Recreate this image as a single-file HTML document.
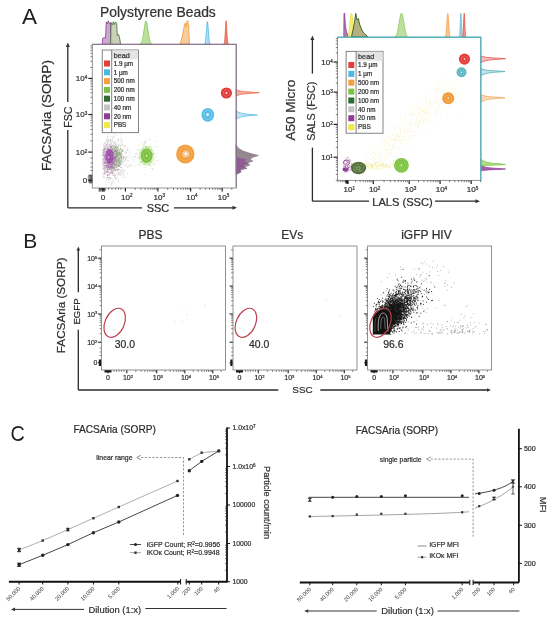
<!DOCTYPE html>
<html><head><meta charset="utf-8"><title>Figure</title>
<style>html,body{margin:0;padding:0;background:#fff;} svg{display:block;font-family:'Liberation Sans',Arial,sans-serif;} text{stroke:#333;stroke-width:0.22px;} text.s{stroke-width:0;}</style>
</head><body>
<svg width="550" height="621" viewBox="0 0 550 621">
<rect width="550" height="621" fill="#fff"/>
<text x="22" y="23.7" font-size="22.5" text-anchor="start" fill="#1e1e1e" class="s">A</text>
<text x="100" y="17" font-size="13.9" text-anchor="start" fill="#333" >Polystyrene Beads</text>
<path d="M111.5 162.2h0.8M109.9 151.5h0.8M108.8 150.6h0.8M111.9 171.6h0.8M108.5 153.9h0.8M114.4 162.7h0.8M112.1 151.1h0.8M111.3 165.8h0.8M103.4 155.4h0.8M103.9 161.9h0.8M112.4 157.8h0.8M111.2 160.5h0.8M102.3 155.2h0.8M105.6 152.2h0.8M117.9 152.2h0.8M111.3 167.5h0.8M108 158.5h0.8M112.2 160.1h0.8M104.1 160.2h0.8M119.7 145.6h0.8M116.7 160.6h0.8M107.7 177.5h0.8M116.1 148.7h0.8M111.9 164.7h0.8M110.4 165.6h0.8M111.1 165.5h0.8M120.1 153.4h0.8M112.7 155.3h0.8M112.3 148.8h0.8M108 157.7h0.8M116.9 169.8h0.8M103.6 152.3h0.8M115.4 141.6h0.8M108.7 158.6h0.8M119 165.7h0.8M109.5 156.2h0.8M110 173.2h0.8M108.9 156.8h0.8M113.6 158.4h0.8M110.3 149.5h0.8M111.4 155.5h0.8M118.5 165.4h0.8M111.4 165.5h0.8M109.5 169h0.8M111.5 164.8h0.8M103.8 162.6h0.8M109.7 151.4h0.8M112.5 179.7h0.8M106.5 153.9h0.8M112.7 163.9h0.8M110.4 157.6h0.8M115.7 164.2h0.8M105.3 158.8h0.8M111.7 150h0.8M113.1 151.8h0.8M117.3 161.2h0.8M112 154.2h0.8M110.8 141.5h0.8M104.7 162.8h0.8M106.4 166.5h0.8M112.3 145.7h0.8M119 172.5h0.8M111.1 157h0.8M110.5 150.7h0.8M118.1 154.6h0.8M111.2 152.4h0.8M107.7 148h0.8M119 158.1h0.8M117.3 159.6h0.8M107.3 156.6h0.8M108.1 159.6h0.8M109.2 156.8h0.8M103.2 152.2h0.8M121.4 153.5h0.8M105.2 162.5h0.8M119.9 146.4h0.8M110.2 153.8h0.8M111.4 160.1h0.8M107 163.6h0.8M108.3 158.2h0.8M104.9 148.6h0.8M119.5 154.9h0.8M113.3 159.2h0.8M108.9 154.9h0.8M115.3 156.8h0.8M110.6 159.7h0.8M118.6 165.6h0.8M113.8 154.4h0.8M103.2 168h0.8M117.3 158.2h0.8M114.8 166.5h0.8M116.5 167.8h0.8M108.8 173.1h0.8M104 167.3h0.8M114.5 167.4h0.8M122.8 172.9h0.8M104.6 144.3h0.8M116.4 150.4h0.8M111.4 167.1h0.8M113.1 159.9h0.8M110 159.8h0.8M106.3 145.9h0.8M110.5 150.8h0.8M111.1 163.2h0.8M105.6 153.6h0.8M105.5 151.5h0.8M112.7 152.5h0.8M113.6 162.6h0.8M123.7 147h0.8M116.8 158.7h0.8M111.4 146.5h0.8M108.7 166.2h0.8M111 160.2h0.8M109.8 169.9h0.8M111.4 139.7h0.8M107.3 141.8h0.8M119.5 159.9h0.8M104.5 151h0.8M118.3 160.9h0.8M111.8 159h0.8M111.7 166.7h0.8M114.8 161.4h0.8M105.2 164.1h0.8M107.4 169.3h0.8M103.9 158.3h0.8M111.5 147.6h0.8M121.8 172.6h0.8M108.7 166.4h0.8M113.8 136h0.8M113 158.9h0.8M112 149.8h0.8M109.9 157.9h0.8M118.6 162.5h0.8M111.5 173.3h0.8M108.2 156h0.8M117.3 167.8h0.8M115.5 160.5h0.8M112.8 157.2h0.8M110.3 160h0.8M120.6 164.5h0.8M111.1 154.3h0.8M107.7 173.9h0.8M114.5 160.1h0.8M109.4 149.5h0.8M111.1 167.4h0.8M109.1 157.5h0.8M110.2 160.5h0.8M106.4 167.5h0.8M106.9 164.7h0.8M120.6 156.7h0.8M107.9 161.2h0.8M111.5 150.6h0.8M114.3 177.6h0.8M110 157.7h0.8M105.2 162.4h0.8M104 149.5h0.8M119.2 151.4h0.8M118 173.2h0.8M113.1 164.5h0.8M123.2 157.7h0.8M107.9 147.3h0.8M111.8 172.8h0.8M117.3 151h0.8M106.4 155h0.8M113.3 157.7h0.8M112.8 162.2h0.8M109.7 159.1h0.8M112.7 158.7h0.8M114.5 176.3h0.8M115.1 160h0.8M116.6 165.9h0.8M110.6 144.1h0.8M109.3 153.4h0.8M115.3 179.8h0.8M112.8 152.5h0.8M104.5 159h0.8M110.4 149.1h0.8M112.2 149.1h0.8M118.2 169.1h0.8M118 155.2h0.8M114.6 158.3h0.8M109.2 156.4h0.8M103.7 146.5h0.8M116.3 157.8h0.8M112.8 168.5h0.8M112.6 163h0.8M109.2 168.8h0.8M112.8 148.6h0.8M105.9 166.7h0.8M114.3 142.4h0.8M119.6 164.9h0.8M119.6 156h0.8M109.7 149.4h0.8M126.7 157.9h0.8M121 153.7h0.8M112.5 144.5h0.8M109.2 168.4h0.8M104 169.2h0.8M113.5 150.1h0.8M108.5 155.4h0.8M111.2 154.7h0.8M106.5 156.8h0.8M105.3 147.9h0.8M111.2 167.4h0.8M102.3 159.5h0.8M107.6 150.7h0.8M116.6 154.8h0.8M120.5 152.5h0.8M113.8 157.5h0.8M107 164.8h0.8M110.6 164.9h0.8M111.2 149.7h0.8M110.9 160h0.8M117.3 151.3h0.8M111.3 144h0.8M115.4 149.8h0.8M118.1 145.8h0.8M105 152.8h0.8M104.7 162.9h0.8M106.7 153h0.8M115 152.7h0.8M114.1 150.8h0.8M104.2 143h0.8M122.7 156.6h0.8M113 159.2h0.8M112.5 159.9h0.8M122.9 150.1h0.8M102.2 150.4h0.8M103.5 166.2h0.8M116.4 150.8h0.8M103.2 156.3h0.8M119.8 134.1h0.8M114.7 149.8h0.8M117.7 149.8h0.8M109.8 145.9h0.8M105.6 172h0.8M116.4 155.9h0.8M106.3 142.5h0.8M109.1 159.2h0.8M111 158.7h0.8M104.8 158.9h0.8M111.3 171.1h0.8M122.7 158.3h0.8M106.9 158.9h0.8M107.9 152.8h0.8M111.1 150.1h0.8M115.1 158.6h0.8M113 157.9h0.8M107.1 151h0.8M110.1 154.6h0.8M112.9 159.5h0.8M103.3 160.1h0.8M103.4 154h0.8M109.7 140.8h0.8M112 160.9h0.8M110.6 155.7h0.8M109.3 150.7h0.8M109.9 154.5h0.8M112.1 148.7h0.8M112.9 160.8h0.8M110.7 155.5h0.8M114.8 144.5h0.8M114.3 161.7h0.8M113.2 162.9h0.8M107.6 157.2h0.8M115.3 163.4h0.8M112.7 145.9h0.8M114.7 170h0.8M117.6 161.6h0.8M102.2 168h0.8M110.6 136.7h0.8M113.8 146.1h0.8M103.7 153.8h0.8M119.1 156.2h0.8M113.1 175.2h0.8M121.1 158.6h0.8M110.1 148.2h0.8M107.3 163.3h0.8M113.9 160.5h0.8M117.5 152.5h0.8M111.2 166.1h0.8M115 169.1h0.8M113.9 156.7h0.8M113.7 150.5h0.8M111.2 162.3h0.8M107.9 151.7h0.8M116.9 162.9h0.8M107.9 159.4h0.8M116 134.7h0.8M110.8 164.4h0.8M115.6 174.8h0.8M118.3 162.3h0.8M113.3 166.6h0.8M108.3 159.1h0.8M116.9 177.1h0.8M110.5 159.1h0.8M112.7 171.6h0.8M111.3 172.7h0.8M105.7 157.8h0.8M110.3 166.6h0.8M117.8 145.9h0.8M106 162.5h0.8M107.5 145.8h0.8M117.7 163.9h0.8M114.5 155.2h0.8M117.7 157.3h0.8M118.1 151.3h0.8M106.4 161.3h0.8M107.3 165.6h0.8M113.1 151.2h0.8M111.9 156.3h0.8M117 153.8h0.8M108.9 170.4h0.8M124.9 177.5h0.8M111.9 161.5h0.8M120.7 158.4h0.8M105.6 160.6h0.8M114.2 152h0.8M115.5 152.7h0.8M110.7 161.4h0.8M115.2 156.5h0.8M114.5 151.5h0.8M109.3 150.3h0.8M118.3 159.3h0.8M107.1 156.3h0.8M110.2 165.8h0.8M109.2 182.3h0.8M117.2 158.5h0.8M115.8 178h0.8M110.1 156.2h0.8M118.8 163.9h0.8M115.5 154.9h0.8M123 174.9h0.8M114.9 165.7h0.8M110.3 163.4h0.8M115.6 156.4h0.8M107.1 156.5h0.8M107.9 156.4h0.8M113 169.5h0.8M123.4 159.7h0.8M104.3 155h0.8M112 141.5h0.8M113.6 145.9h0.8M113.3 158.5h0.8M109.6 158.8h0.8M108.3 154h0.8M122.6 177.3h0.8M119.4 165.9h0.8M107.4 172.5h0.8M111.2 158.9h0.8M109.8 160.3h0.8M108.9 158.7h0.8M105 156.1h0.8M125.2 158.9h0.8M110.1 164.3h0.8M115.7 149.5h0.8M110.3 167.8h0.8M113.1 160.6h0.8M120.8 153.4h0.8M112 154.8h0.8M120.4 141.9h0.8M107.5 154.7h0.8M115.5 165h0.8M119.9 145.3h0.8M116 156.9h0.8M107.5 164.4h0.8M106 140.8h0.8M109.3 146h0.8M107.6 162.8h0.8M113.4 173.8h0.8M110.3 145.7h0.8M107 151.2h0.8M104.2 163.4h0.8M107.6 141.7h0.8M115.7 158.5h0.8M113.6 160.5h0.8M115.3 159.8h0.8M118.9 163.3h0.8M113.9 163.2h0.8M102.8 158h0.8M109.9 161.4h0.8M103.3 174.2h0.8M112.1 148.6h0.8M111 153h0.8M112.1 153.7h0.8M114.8 153h0.8M111.3 168.3h0.8M126.9 150.4h0.8M108.7 151.9h0.8M116.2 149.2h0.8M108.6 159.2h0.8M105.6 150.9h0.8M108.6 140.6h0.8M102.8 155.8h0.8M112.4 157.8h0.8M116.3 164.5h0.8M111 151.5h0.8M115.3 154.3h0.8M104.5 152.3h0.8M120.2 161.5h0.8M118.5 155.2h0.8M117.1 154.1h0.8M110.6 181.9h0.8M116.1 155h0.8M111 162.4h0.8M118.8 155.1h0.8M111.6 160.5h0.8M119.4 162.4h0.8M116.4 149.6h0.8M116.7 178.4h0.8M116.1 161.8h0.8M112.4 175.6h0.8M105.9 158.5h0.8M114.3 166.2h0.8M108.9 162.3h0.8M109.8 160.6h0.8M110.7 149.2h0.8M111.4 167.4h0.8M105.7 157.3h0.8M115.5 149.9h0.8M112.6 150h0.8M118.3 180.3h0.8M123.6 157.5h0.8M115.9 160.6h0.8M112.1 173.4h0.8M103.6 169h0.8M111.2 172.2h0.8M112.6 153.4h0.8M113.2 166.1h0.8M111.7 163.9h0.8M108.4 140.3h0.8M116.9 165.8h0.8M112.4 160.1h0.8M117.7 155.4h0.8M107.3 157.8h0.8M118.6 147h0.8M118.7 153.7h0.8M104.9 170.8h0.8M110.9 147.8h0.8M109.3 167.9h0.8M118.7 155.7h0.8M113.9 165.9h0.8M107.6 162.7h0.8M111.3 154.7h0.8M108.5 160.1h0.8M111.7 154.4h0.8M108.9 169.5h0.8M112.8 167.5h0.8M118.7 164.8h0.8M125.1 152.1h0.8M116.4 156.6h0.8M122.6 174.8h0.8M115.5 166.6h0.8M115.9 158.9h0.8M114.2 165.4h0.8M111 168.7h0.8M105.3 168.1h0.8M110.1 151.5h0.8M113.7 151.3h0.8M106 145.4h0.8M111.3 164h0.8M117.6 158.2h0.8M117.8 159.7h0.8M110.9 164.7h0.8M117.9 156.4h0.8M110 158.1h0.8M112 151.4h0.8M117.7 155.9h0.8M114.3 152.1h0.8M113.7 163h0.8M109 177.7h0.8M113.7 175.5h0.8M117.3 153.5h0.8M109.2 163.4h0.8M111.9 159.9h0.8M109.8 143.2h0.8M110.1 139.5h0.8M113.7 153h0.8M107.2 157.5h0.8M113.1 146.6h0.8M121 150h0.8M115.4 147.2h0.8M113.3 156.6h0.8M111.1 164.6h0.8M122 161.3h0.8M112.2 150.7h0.8M115 157.3h0.8M116.5 159.1h0.8M121.9 141.7h0.8M109.7 167.4h0.8M109.4 152.4h0.8M109.9 147.1h0.8M112.2 181.5h0.8M118.4 149.5h0.8M106.3 155.9h0.8M117.5 152.1h0.8M107.4 167.5h0.8M116.7 156.1h0.8M104.8 145.6h0.8M107.3 139.4h0.8M116 153.8h0.8M114.4 176.3h0.8M118.5 149.1h0.8M116.7 169.9h0.8M107 150.9h0.8M110.8 145.1h0.8M120.3 137.9h0.8M104.9 157.1h0.8M110.1 161h0.8M113.1 157.6h0.8M118.3 140.2h0.8M111.5 153.1h0.8M112.3 161.5h0.8M106 153.7h0.8M116.3 162.6h0.8M107.4 177.9h0.8M125.4 146.3h0.8M113.3 182.1h0.8M116.2 161.5h0.8M110.3 154.6h0.8M110.2 154.5h0.8M116 155.9h0.8M108.9 148.7h0.8M111.2 151.5h0.8M110.4 168.9h0.8M113.7 164h0.8M113.6 160h0.8M110.7 156.7h0.8M116.1 149.7h0.8M119.5 159.8h0.8M107 155.1h0.8M107.4 160.9h0.8M107.2 169.8h0.8M106.8 139h0.8M107.1 141.4h0.8M111.3 169h0.8M115.4 147.5h0.8M106.9 175.5h0.8M113.4 159.5h0.8M117.8 181.6h0.8M119.3 160.8h0.8M113.6 165.1h0.8M107.8 150h0.8M111.8 151h0.8M111.1 160.4h0.8M125.5 151.8h0.8M110.8 158h0.8M114.1 168.9h0.8M108.6 152.1h0.8M114.7 159.9h0.8M105.4 156.1h0.8M111.7 164h0.8M107.9 157.2h0.8M121.2 139.8h0.8M109.5 161.5h0.8M109.3 152.2h0.8M111.1 159.5h0.8M111 142.6h0.8M110.6 151.8h0.8M108.2 161.5h0.8M115.3 167.6h0.8M108.5 167.8h0.8M118.5 169.7h0.8M119.8 158.2h0.8M110.5 166.9h0.8M103.3 161.4h0.8M108.3 156.2h0.8M111.4 167.5h0.8M117.4 158.8h0.8M110.4 152h0.8M113.9 157.3h0.8M115.1 175.3h0.8M111.3 146h0.8M106.3 146.4h0.8M104.3 171.2h0.8M112.9 145.8h0.8M115.4 170.8h0.8M109.3 153.4h0.8M109.5 162.1h0.8M115.3 170.1h0.8M118.8 170.2h0.8M119.7 165.5h0.8M102.3 158.3h0.8M113.4 156.1h0.8M117 156.3h0.8M105.9 172.5h0.8M115.5 161.5h0.8M117.1 169.1h0.8M113.5 137.4h0.8M107.4 155.4h0.8M105.6 161.3h0.8M118.7 155.1h0.8M104.7 177.8h0.8M108.8 148.4h0.8M112.9 163.3h0.8M107.3 166.6h0.8M108.6 151.2h0.8M112.6 166.4h0.8M107.7 162.5h0.8M110.9 184.9h0.8M107.2 172h0.8M111.2 158.4h0.8M115.8 167.5h0.8M119.1 162.5h0.8M107.9 154.7h0.8M114.6 164.7h0.8M119.9 163.3h0.8M117.9 173.2h0.8M112.5 146.1h0.8M104.4 146.6h0.8M121 151.9h0.8M118.9 164.8h0.8M121.8 168.5h0.8M110.9 157.7h0.8M112 161.1h0.8M108.3 159.2h0.8M121.2 144.2h0.8M113.1 151.3h0.8M112.6 167.1h0.8M111.2 166.5h0.8M107.9 165.1h0.8M112.6 136.2h0.8M107 161.5h0.8M120.8 162.1h0.8M113 146.8h0.8M120.1 175.8h0.8M111.7 157.5h0.8M127.7 166h0.8M119.1 164.4h0.8M105.6 171.5h0.8M104.1 157.6h0.8M113.2 167.4h0.8M114 163h0.8M106.9 147.9h0.8M111.9 153.1h0.8M103.7 148.1h0.8M108.6 142.8h0.8M103.4 144.8h0.8M112.6 163.2h0.8M123.5 146h0.8M107.4 167.7h0.8M110.2 156.6h0.8M121.8 156.5h0.8M104.6 147.6h0.8M113.5 162.2h0.8M103.3 150.6h0.8M114.7 164.7h0.8M107.6 165.1h0.8M114.9 143.5h0.8M109.6 163.2h0.8M108.1 140.2h0.8M109.8 166.3h0.8M121 139.8h0.8M127.2 149.4h0.8M117.2 170.6h0.8M117.4 160.8h0.8M104.5 165.1h0.8M107.2 136.8h0.8M128.5 165.9h0.8M122.4 151.3h0.8M120.3 173.8h0.8M120.8 159.3h0.8M104.3 157.9h0.8M112.1 150.6h0.8M110.5 158.5h0.8M123.1 171.2h0.8M111.2 170.4h0.8M106.8 156.5h0.8M117 148.3h0.8M109.8 147.6h0.8M112.2 174.2h0.8M107 161.5h0.8M106.1 149.2h0.8M104.1 172.6h0.8M125.7 163.8h0.8M107.2 165.8h0.8M109.5 166.7h0.8M113.2 162h0.8M115.1 154.3h0.8M109.1 144h0.8M108.8 146.7h0.8M110.6 150.9h0.8M112.1 163.6h0.8M103 152.2h0.8M105.8 166.2h0.8M121.7 167.2h0.8M109.4 172.7h0.8M102.4 173h0.8M107.6 134.5h0.8M127.4 173.7h0.8M105.3 161h0.8M110.2 160.4h0.8M102.6 153.4h0.8M114.3 161.5h0.8M118.7 160.2h0.8M125.6 153.1h0.8M113.1 142.3h0.8M104 171.5h0.8M105.8 164.3h0.8M111.1 150.1h0.8M109.4 154.9h0.8M108.6 166.3h0.8M115.4 154.3h0.8M106.1 162h0.8M110.9 168.8h0.8M127.4 167.1h0.8M111.3 158h0.8M106.4 151.3h0.8M105.5 155.9h0.8M108.9 166.2h0.8M109.1 157.7h0.8M104.2 174.3h0.8M114.5 175.6h0.8M116.3 172.9h0.8M110 166h0.8M127.7 148.5h0.8M118.6 174.8h0.8M114 166.4h0.8M119.2 153.5h0.8M114 151.5h0.8M107.4 153.8h0.8M110.6 160.8h0.8M114.3 146.4h0.8M123.7 170.2h0.8M116 156.2h0.8M111 164.6h0.8M114 144h0.8M116.1 186.4h0.8M113.8 158.5h0.8M119.9 148.6h0.8M112.5 173h0.8M110.3 155.6h0.8M112.2 155.4h0.8M121 151.1h0.8M116.9 147.9h0.8M115.6 158.5h0.8M104.9 155.4h0.8M121 149.2h0.8M105 172.8h0.8M112.2 173.8h0.8M113.5 151.3h0.8M111.1 170.9h0.8M117.3 159.5h0.8M111.8 158.5h0.8M107.9 177.4h0.8M111.5 149h0.8M108.6 166.2h0.8M115.5 158.2h0.8M107.4 159.7h0.8M116.4 155.1h0.8M113.8 170.8h0.8M115.5 159.7h0.8M124.6 165.7h0.8M109.3 166.3h0.8M114 151.6h0.8M112 158h0.8M109.8 155.4h0.8M111.3 160.4h0.8M104.5 165.4h0.8M104 157.4h0.8M119.5 153.1h0.8M108.3 169.4h0.8M109.1 156.8h0.8M112.9 169.2h0.8M105.3 149.5h0.8M106.2 151.7h0.8M113.4 151.3h0.8M112.3 163.2h0.8M107 160.7h0.8M121.6 162.5h0.8M107.6 158.9h0.8M105.9 162h0.8M116.8 152h0.8M110.2 169.7h0.8M108.4 161.2h0.8M105.2 152h0.8M108.4 179.1h0.8M109 154.7h0.8M108.1 158h0.8M115.4 161.2h0.8M123.8 161.4h0.8M120.2 162h0.8M115.1 146.5h0.8M110.7 158.9h0.8M110 140.1h0.8M116.8 156h0.8M108.9 157.2h0.8M110.1 163.2h0.8M103.9 151.1h0.8M113.2 160.8h0.8M109.2 154.3h0.8M106.5 159h0.8M118.6 150h0.8M120.6 167.1h0.8M108.8 166.5h0.8M102.7 143.9h0.8M103.8 155.8h0.8M109.5 154.9h0.8M112.1 140.3h0.8M114.5 146.7h0.8M107.5 155.8h0.8M104.6 147.2h0.8M105.5 159.4h0.8M115 164.6h0.8M105.5 152.4h0.8M106 163.5h0.8M108.6 152.4h0.8M113.5 168.8h0.8M113.6 169h0.8M112.3 170.6h0.8M119 158.6h0.8M120.1 161h0.8M112 151.2h0.8M109.8 166.5h0.8M103.6 165.3h0.8M113.6 162h0.8M115.4 152.6h0.8M112 138.1h0.8M115.5 153.5h0.8M116.7 142.9h0.8M115.7 157.4h0.8M116.3 151.2h0.8M107.8 179.7h0.8M106.5 153.1h0.8M109.8 150.3h0.8M118.6 175h0.8M107.3 144h0.8M118.5 169.5h0.8M116.4 169.9h0.8M106.3 158h0.8M103.2 146.7h0.8M117.4 153.5h0.8M125.2 160.2h0.8M107.7 166.7h0.8M122.3 163.9h0.8M104.2 162.8h0.8M119.8 155.1h0.8M106.9 168.6h0.8M112.3 149.6h0.8M109.2 152.7h0.8M113.3 160.5h0.8M118.4 165.9h0.8M102.1 163.2h0.8M116.9 163.6h0.8M117.7 154.6h0.8M105.8 167.9h0.8M105.1 140.1h0.8M117.7 153h0.8M109.7 146.9h0.8M103.5 149.1h0.8M109.3 162.8h0.8M104.4 149.9h0.8" stroke="#a09a94" stroke-width="0.8" opacity="0.6" fill="none"/>
<path d="M128.1 157.6h0.7M114.8 169.1h0.7M118.8 159.5h0.7M125.2 166.5h0.7M121.3 164h0.7M119.5 164.7h0.7M119.4 155.8h0.7M135.4 159.9h0.7M124.7 171.5h0.7M126.2 153.1h0.7M128.4 150.9h0.7M130.8 165.2h0.7M120.6 154.2h0.7M125.1 158.1h0.7M118.1 161.4h0.7M111.7 155.4h0.7M121.6 156.4h0.7M125.8 150.6h0.7M127.5 156.9h0.7M120.1 149.8h0.7M116.9 160.2h0.7M118.2 158.4h0.7M130.4 164.2h0.7M133.4 156.2h0.7M117.5 164.1h0.7M125.9 164.7h0.7M124.1 165.2h0.7M129.1 162.3h0.7M127 160.4h0.7M125.4 159.4h0.7M129.9 154.9h0.7M134.4 157.4h0.7M129.9 157.5h0.7M122.5 170.2h0.7M122.1 150.3h0.7M119.7 156.1h0.7M136.9 159.2h0.7M129.6 152h0.7M126.1 162h0.7M134.8 153.8h0.7M127.6 159.8h0.7M117.9 157.9h0.7M122.4 144h0.7M127.6 161.2h0.7M121.4 150h0.7M132.9 159.6h0.7M130.1 166.5h0.7M120.9 162.9h0.7M122.6 157.6h0.7M123.5 158h0.7M130.7 158.7h0.7M123.1 156.3h0.7M126 152.6h0.7M121 157.7h0.7M120.6 157.3h0.7M120.3 170h0.7M132 160.7h0.7M123.7 171.1h0.7M125.9 157.5h0.7M125.8 159.8h0.7M132.5 157.9h0.7M136.6 152.7h0.7M128.2 152h0.7M134.9 156h0.7M123.7 163.5h0.7M131.5 151.3h0.7M121.9 149.6h0.7M124.8 157.4h0.7M121.9 153.9h0.7M121.7 153.5h0.7M127.2 167.1h0.7M112.4 157.3h0.7M121.5 161h0.7M118.3 157.1h0.7M117.8 162.2h0.7M124.6 157h0.7M126.2 156.5h0.7M114.7 161.6h0.7M125.7 157.1h0.7M129.9 165.3h0.7M117.4 153.3h0.7M133.3 166.5h0.7M119.6 150.9h0.7M120.2 155h0.7M114.5 158.2h0.7M116.3 150.7h0.7M129.5 153.9h0.7M123.6 161.8h0.7M128.9 156h0.7M124.3 153h0.7M134.5 161.9h0.7M117.4 158h0.7M128.3 160.9h0.7M135 166.2h0.7M120.8 157.5h0.7M116.3 159.5h0.7M124.9 174.2h0.7M124.6 145.4h0.7M120 158.7h0.7M116.5 152.8h0.7" stroke="#aaa49c" stroke-width="0.7" opacity="0.5" fill="none"/>
<ellipse cx="114.5" cy="157.5" rx="7.5" ry="11" fill="#c5d0b8" opacity="0.85"/>
<path d="M114.7 159.7h0.7M115.4 151.7h0.7M118.8 154h0.7M114.3 148.5h0.7M113.2 161.7h0.7M110.3 157h0.7M118.5 155h0.7M116.8 150.2h0.7M120.6 164.7h0.7M116.8 146.1h0.7M112.3 163.8h0.7M122 159.4h0.7M120.4 153.5h0.7M115.3 157.5h0.7M117.5 147.6h0.7M119.3 166.1h0.7M112 148.7h0.7M117.2 153.2h0.7M107.7 162.8h0.7M116.5 154.4h0.7M123.4 158.4h0.7M113.4 158.2h0.7M112.4 152.5h0.7M117.4 153.9h0.7M114.4 168.3h0.7M119 162.7h0.7M117.9 160.6h0.7M121.1 157.4h0.7M122.5 151.3h0.7M115.1 148.5h0.7M114.8 160.9h0.7M121.1 153.2h0.7M116 155.2h0.7M113.4 149.8h0.7M116.2 146.2h0.7M116.4 157.6h0.7M113.7 150.9h0.7M111.2 169.7h0.7M111.3 167.6h0.7M118.1 155.1h0.7M112 164.3h0.7M122.1 151.4h0.7M115 164.3h0.7M117.2 170.5h0.7M114 161h0.7M111.6 171.1h0.7M113.4 143.1h0.7M115.6 156.6h0.7M122.7 155.3h0.7M116 161.4h0.7M121.6 157.1h0.7M119.6 160.9h0.7M115 158h0.7M116.1 151.5h0.7M120.2 148.5h0.7M120.1 163.7h0.7M115.7 152.5h0.7M115.2 160.6h0.7M118.6 159.4h0.7M119.5 153.9h0.7M116.8 147.3h0.7M118.7 158.5h0.7M114.5 165.1h0.7M118.4 139.2h0.7M116.1 148h0.7M119.7 173.7h0.7M114.2 158h0.7M115.1 159.8h0.7M118.3 165.9h0.7M112.5 167.7h0.7M112.7 159.3h0.7M120.1 162.1h0.7M112.7 152.9h0.7M114.4 157.2h0.7M120 149.1h0.7M117.6 161.5h0.7M118 160.5h0.7M121.3 160.7h0.7M119 161.2h0.7M122.3 145.2h0.7M120.5 155.8h0.7M115 151.2h0.7M109.5 155h0.7M113.6 160.7h0.7M110.8 166.8h0.7M117 155.9h0.7M113.5 152.4h0.7M112 154h0.7M116 156.3h0.7M111 155.8h0.7M112.9 158.5h0.7M122.5 161.6h0.7M114.9 146.9h0.7M111 146.5h0.7M118.5 152.5h0.7M116.2 153.5h0.7M116.3 166.6h0.7M113.6 155.3h0.7M113.2 163.2h0.7M112.4 150.1h0.7M111.1 148.3h0.7M117.6 174.2h0.7M112.5 163.7h0.7M116.9 150.3h0.7M115 156h0.7M113.6 170h0.7M109.3 160h0.7M117.2 153.7h0.7M116.5 163.2h0.7M116.5 160.2h0.7M118.4 144.3h0.7M121.2 172.3h0.7M119.4 164.1h0.7M111.1 156.7h0.7M113.2 153.7h0.7M119.4 152.3h0.7M115.5 145.1h0.7M115.4 158.1h0.7M113.5 152.8h0.7M122.6 149.6h0.7M112.3 152.2h0.7M120.2 171.2h0.7M117.2 152.8h0.7M114.5 164.4h0.7M112.8 166.9h0.7M121 158h0.7M118.3 162.4h0.7M121.4 150.7h0.7M120.1 155.1h0.7M113.3 158.2h0.7M115.2 151.1h0.7M110.4 151.4h0.7M121.1 170.3h0.7M118.3 165.2h0.7M114.2 157h0.7M117 150.5h0.7M112.5 158.1h0.7M114.9 150.6h0.7M117.4 155.8h0.7M119.6 157.5h0.7M114.9 158.3h0.7M115.4 153.2h0.7M114.6 162.4h0.7M118.3 165.9h0.7M110.1 154.9h0.7M114.5 158.6h0.7M114.4 154.2h0.7M118.7 158.7h0.7M111.9 166.2h0.7M119.5 153.8h0.7M118.9 152.7h0.7M119.9 156.1h0.7M113.2 155.1h0.7M113.3 158.7h0.7M116.6 157.7h0.7M114.1 133.7h0.7M116.3 145.2h0.7M116.9 164.9h0.7M117 155h0.7M115.4 156.6h0.7" stroke="#3d6b35" stroke-width="0.7" opacity="0.6" fill="none"/>
<path d="M106.5 155.6h0.8M105.2 168.9h0.8M108.4 167.2h0.8M107.6 160.5h0.8M107.9 163.5h0.8M111.5 161.8h0.8M106.1 154.2h0.8M114.5 157.9h0.8M107.5 171h0.8M112.4 164h0.8M107.1 177.6h0.8M109.9 164.1h0.8M107.9 149.4h0.8M103.7 163.1h0.8M109.9 158.2h0.8M104.3 149.2h0.8M107.3 149.1h0.8M111.7 168.6h0.8M118.7 166.6h0.8M106.4 153.5h0.8M107.9 167.3h0.8M110.7 164.4h0.8M109.3 165h0.8M113.7 152h0.8M106.9 149.6h0.8M114.3 169.7h0.8M111.2 151h0.8M109.1 158.2h0.8M108.8 158.6h0.8M110.4 157h0.8M111.6 161.8h0.8M107.4 159.2h0.8M106.9 166.1h0.8M107.5 162.2h0.8M107.1 148.9h0.8M111.8 152.1h0.8M110.9 163.2h0.8M102.5 152.9h0.8M106.6 153.8h0.8M104.2 165.6h0.8M107.6 162.9h0.8M107 162.3h0.8M105.8 159.8h0.8M110.6 160.3h0.8M106.9 151.9h0.8M109.1 162.6h0.8M107.6 154.2h0.8M110.5 178.6h0.8M107.4 162.5h0.8M109.9 140.8h0.8M108.9 154.7h0.8M113.5 158.1h0.8M105.7 158.4h0.8M109.1 155.8h0.8M108.3 149.8h0.8M107.7 165.8h0.8M115.6 165.3h0.8M109.5 168.9h0.8M112.2 172.5h0.8M112.4 159.1h0.8M109.4 161.3h0.8M109.6 161.5h0.8M105.7 144.2h0.8M106.1 144.8h0.8M108.7 160h0.8M102.5 165.2h0.8M111.6 160.7h0.8M114.5 174h0.8M104.2 167.8h0.8M110.1 163.1h0.8M111.9 154.6h0.8M106.4 153.8h0.8M105.8 159.3h0.8M103.3 152.2h0.8M110.6 159.5h0.8M109.9 145.8h0.8M105.7 155.8h0.8M108.6 155.6h0.8M111.9 159.6h0.8M108.6 160.1h0.8M111 156.5h0.8M112.5 163.5h0.8M109.1 160.3h0.8M110.4 167.6h0.8M111.9 162.8h0.8M111.7 160.9h0.8M113 159.8h0.8M108.9 151.2h0.8M107.8 153.4h0.8M116.1 163.7h0.8M102.9 164.1h0.8M107.1 174.4h0.8M104.7 143.1h0.8M108.7 157.4h0.8M107 143.9h0.8M110 172.6h0.8M106.5 177.6h0.8M110.1 158.6h0.8M112.5 163.9h0.8M106.4 165.3h0.8M106.7 146.6h0.8M115.8 157.4h0.8M106.3 162.5h0.8M102.9 149.8h0.8M106.7 156.1h0.8M108.8 168.4h0.8M106.8 163.7h0.8M110.7 151.9h0.8M109.3 152.9h0.8M112.3 163.4h0.8M108.6 150h0.8M108.9 154.2h0.8M111 159.1h0.8M105.6 166.9h0.8M111.1 155.6h0.8M112.7 157.8h0.8M107.4 160.9h0.8M105.8 156.7h0.8M107.9 171.5h0.8M113.9 158.1h0.8M114.3 159.7h0.8M109.9 166.6h0.8M109.6 178.1h0.8M109.4 151h0.8M113.2 156.9h0.8M107.4 137.6h0.8M112.1 166.1h0.8M111.4 167.3h0.8M114.6 159.7h0.8M111.9 154.4h0.8M107.2 167.9h0.8M109.9 150h0.8M109.8 158.6h0.8M105.6 163.3h0.8M107 148.2h0.8M104.5 173.3h0.8M103 161.7h0.8M110.7 164.8h0.8M104.1 157.6h0.8M109 166h0.8M106.2 151.3h0.8M112.1 168.3h0.8M109.8 155.4h0.8M110 160.8h0.8M111.5 150.6h0.8M108.9 158.8h0.8M104.5 161.6h0.8M108.6 156.9h0.8M109.9 149.4h0.8M108.3 163.2h0.8M109.5 168.1h0.8M104.2 148.7h0.8M109.4 163.4h0.8M116.1 164.6h0.8M105.4 166h0.8M105.5 148.9h0.8M117.9 162.4h0.8M111.1 164.2h0.8M115 162.1h0.8M112.9 152.3h0.8M103.5 170.7h0.8M113.8 163.8h0.8M109.3 161.2h0.8M106 171.5h0.8M110.9 163.8h0.8M109.9 167.9h0.8M110.3 165.6h0.8M104.3 163.8h0.8M116.4 156.1h0.8M108 166.7h0.8M111.9 164.7h0.8M102.7 163.8h0.8M104.2 153.8h0.8M110.5 157.8h0.8M111.4 183.6h0.8M111.3 165.4h0.8M105.3 155.2h0.8M104.7 156h0.8M104.6 155.1h0.8M107.7 152.5h0.8M103.4 149.8h0.8M110.1 160.4h0.8M112.2 167.8h0.8M107.3 165h0.8M103.3 177.1h0.8M112.8 158.4h0.8M104.3 162.9h0.8M111.2 160.6h0.8M106.7 167.1h0.8M104.8 162.1h0.8M106.7 153.6h0.8M110.2 152.6h0.8M115.3 155.6h0.8M115.7 151.8h0.8M110.7 151h0.8M103.7 161.2h0.8M110.9 150.4h0.8M112.8 154h0.8M109 162.8h0.8M110.6 146.5h0.8M114.3 164.2h0.8M107 152.3h0.8M102.4 149.8h0.8M110.5 157.4h0.8M104.4 156h0.8M114.1 157.5h0.8M106.4 170.1h0.8M110.2 160.3h0.8M106.3 148.4h0.8M104.3 156.4h0.8M107.7 162.7h0.8M110.5 161.7h0.8M109.3 152.4h0.8M105.1 155.1h0.8M107.5 150.7h0.8M104.5 159.2h0.8M108.9 155.1h0.8M110.3 158.4h0.8M104.8 160.3h0.8M115.3 154.9h0.8M112.7 170.3h0.8M113.9 153.8h0.8M115.8 160.9h0.8M107.6 158.3h0.8M110.7 160.4h0.8M107.9 169.6h0.8M105.9 152.2h0.8M111.4 165.3h0.8M112.4 152h0.8M112.4 163.6h0.8M114.8 150.6h0.8M109.3 157.9h0.8M102.8 154.6h0.8M112.6 156.5h0.8M105.9 166.5h0.8M112.1 167.4h0.8M105.7 159.6h0.8M112.2 155.1h0.8M105.8 166.2h0.8M114.1 151.4h0.8M104.9 159h0.8M110.7 158.9h0.8M106 161.2h0.8M105 159.6h0.8M106.2 180.1h0.8M111.4 153.7h0.8M104.9 156.7h0.8M102.6 154.5h0.8M105.8 166.6h0.8M107 154.1h0.8M103.7 151.2h0.8M108.3 158.4h0.8M112.6 155.3h0.8M112.3 161.9h0.8M108.5 144.9h0.8M103.9 165.6h0.8M113.5 161.5h0.8M111.2 156.9h0.8M107.2 155h0.8M112 162.6h0.8M107.7 157.5h0.8M110.5 162.4h0.8M105.5 172.9h0.8M109.4 160.1h0.8M113.8 167.7h0.8M108.2 164h0.8M104.6 155.2h0.8M105.5 152.7h0.8M107.8 162h0.8M110.7 173.3h0.8M109.8 166.6h0.8M106.3 165.4h0.8M109.1 156.5h0.8M108.2 159.5h0.8M109.2 163h0.8M106.7 154.4h0.8M111.2 147.3h0.8M106.3 171.6h0.8M111 147.6h0.8M117.9 140.6h0.8M113.7 171.7h0.8M111.8 158.3h0.8M109.8 153.3h0.8M111.4 151.6h0.8M107.5 167.5h0.8M104.5 157.3h0.8M109.1 149.9h0.8M112.7 162.6h0.8M103 159.6h0.8M105.7 155.1h0.8M108.8 154.7h0.8M112 154.7h0.8M112 159.7h0.8M111.6 155.9h0.8M106.7 151.4h0.8M110.6 167h0.8M116.1 169.7h0.8M109.4 158.4h0.8M109.9 159.8h0.8M113.8 167.1h0.8M105.5 154.8h0.8M113.4 162.3h0.8M107.7 168.9h0.8M107.1 157.9h0.8M106.8 145.3h0.8M111.6 150.9h0.8M106.5 154.4h0.8M111.1 159.5h0.8M108.6 147.4h0.8M108.2 148.9h0.8M109.6 162.8h0.8M108.4 175.3h0.8M110.4 164.5h0.8M109 158.6h0.8M112 168.3h0.8M103.8 167.9h0.8M110.3 167.2h0.8M110.2 150.7h0.8M104.3 173.7h0.8M109.4 149.4h0.8M109.8 157.3h0.8M102.7 162h0.8M108.3 158.1h0.8M109.5 164.5h0.8M105.5 150.8h0.8M106.5 159.1h0.8M107.5 149.1h0.8M106.8 175.1h0.8M104.7 147.3h0.8M109.5 164.5h0.8M110.2 151.6h0.8M112.1 154.1h0.8M104.4 155.4h0.8M108.1 165.4h0.8M110.7 159.8h0.8M111.9 160.6h0.8M111.7 149.5h0.8M102.8 165.8h0.8M103.5 157.7h0.8M108.1 156.3h0.8M106.9 170.4h0.8M116.8 160.2h0.8M108.4 165.4h0.8M115.1 151.1h0.8M108.8 158.6h0.8M110.5 161.2h0.8M110.9 156.8h0.8M108.7 155h0.8M106.1 158.9h0.8M108 151.2h0.8M114.2 159h0.8M103.5 168.3h0.8M105.8 163.8h0.8M108.4 161.9h0.8M109.1 155.7h0.8M108.6 175.2h0.8M110.1 152.1h0.8M103.6 176.2h0.8M107.2 175.6h0.8M110.4 160.6h0.8M110.2 164.8h0.8M112.7 163.3h0.8M109 161.3h0.8M113.4 166.1h0.8M104.9 155.2h0.8M109.7 155.3h0.8M107.1 152.8h0.8M107.6 163.2h0.8M112.1 160.1h0.8M116 159.4h0.8M120 167.5h0.8M110.3 156.3h0.8M109.1 174.4h0.8M103.5 174.3h0.8M107.6 165.4h0.8M107.3 165.1h0.8M108.8 151.4h0.8M111.9 165.2h0.8M110.6 167.6h0.8M112.5 159.8h0.8M103.6 149.6h0.8M113.4 165.3h0.8M108.9 156.7h0.8M108.6 160.2h0.8M107.3 154.8h0.8M116.3 161.7h0.8M106.3 150.2h0.8M105.9 165.4h0.8M111.2 158.4h0.8M108.7 157.7h0.8M104.5 169.8h0.8M109.8 178.6h0.8M105.8 159h0.8M111.7 158.2h0.8M103.5 152.9h0.8M108.9 162.6h0.8M108.2 167.5h0.8M112.1 162.4h0.8M108.6 158.1h0.8M110.5 166.9h0.8M108.7 163.4h0.8M107.3 149.4h0.8M104.9 165.7h0.8M110.1 171.9h0.8M108.7 166.5h0.8M113.3 167.5h0.8M106.3 158.6h0.8M109 152.6h0.8M110.2 167.7h0.8M106.8 174.8h0.8M107.5 158.5h0.8M107.6 154.7h0.8M110 160.2h0.8M114.5 164.6h0.8M110.4 158.3h0.8M103.4 159.3h0.8M105.4 167.1h0.8M108.4 172.5h0.8M111.1 166.3h0.8M109.3 161.6h0.8M110.9 166.9h0.8M105.9 163.7h0.8M117.9 159.3h0.8M107.6 154.8h0.8M103.3 168.9h0.8M108.7 162.2h0.8M115.1 178.8h0.8M105.3 167.9h0.8M110.7 163h0.8M110.2 159.8h0.8M114.2 164.6h0.8M109.7 169.4h0.8M111.7 163.5h0.8M109.7 173.2h0.8M110.3 159.3h0.8M105.4 157.4h0.8M104.7 160.8h0.8M109.4 144.6h0.8M108.6 164.9h0.8M109.1 152.9h0.8M113.1 154.8h0.8M104.1 151.9h0.8M108.5 167.4h0.8M112.7 161.6h0.8M104.2 155.1h0.8M105.3 158.7h0.8M102.1 160.8h0.8M110.8 158.9h0.8M110.2 153h0.8M103.3 155.2h0.8M112.7 167.7h0.8M106.9 169h0.8M107.3 171.3h0.8M110.2 156.6h0.8M111.4 154.2h0.8M105.1 149.1h0.8M109.4 159.6h0.8M108.2 156.9h0.8M113.7 156.8h0.8M105.9 169.3h0.8M113.6 162.5h0.8M102.2 155.5h0.8M110.7 160.1h0.8M114.1 149.7h0.8M110.9 155.3h0.8M113.3 159.4h0.8M112.2 155.1h0.8M103.4 151.7h0.8M106.3 152.3h0.8M112.8 170h0.8M109.5 152.2h0.8M108.1 154.9h0.8M113.7 162.4h0.8M110.3 157h0.8M104.5 162.8h0.8M108.8 154h0.8M107.1 171.7h0.8M105 153.1h0.8M107.7 154.8h0.8M107 164h0.8M114.7 146.7h0.8M108.4 160.3h0.8M108.2 158.6h0.8M107.3 167.5h0.8M106.8 159h0.8M108.5 160.8h0.8M107.9 167.5h0.8M108.5 161.3h0.8M108.3 152.5h0.8M105.5 152.1h0.8M109.2 154.6h0.8M104.7 161.8h0.8M110.4 146.8h0.8M114.6 160.2h0.8M108.1 168h0.8M108.8 155.5h0.8M116.4 151.9h0.8M108.1 166.4h0.8M104.6 159.2h0.8M109.9 178h0.8M105.3 159.6h0.8M110.9 160.6h0.8M104.2 163.1h0.8M108.9 163.3h0.8" stroke="#a868b0" stroke-width="0.8" opacity="0.65" fill="none"/>
<ellipse cx="109.6" cy="156.3" rx="4" ry="7.2" fill="#9a48a4" opacity="0.85"/>
<ellipse cx="109.6" cy="156.3" rx="2.5" ry="4.6" fill="none" stroke="#b868bf" stroke-width="0.6"/>
<circle cx="108.7" cy="157.3" r="0.8" fill="#f0e0f0"/>
<ellipse cx="146.4" cy="155.7" rx="7.6" ry="10" fill="#d6ebbf" opacity="0.8"/>
<path d="M151.2 161.8h0.8M148.1 157.6h0.8M141.8 154.9h0.8M147.3 153.3h0.8M146.8 150.7h0.8M152.8 168.6h0.8M144.8 158.1h0.8M145.4 163.3h0.8M148.2 156.2h0.8M145.5 156.5h0.8M142.2 159.8h0.8M143.4 158.9h0.8M146.9 162.3h0.8M146.3 161.8h0.8M142.5 159.4h0.8M145.5 156.9h0.8M146.7 161.3h0.8M137.9 157.6h0.8M140.1 162.9h0.8M138.1 149.7h0.8M139.4 165.5h0.8M141 156.4h0.8M144.1 144.9h0.8M145 159.7h0.8M145.6 161.3h0.8M144.9 155.7h0.8M144.8 157.8h0.8M154.4 157.9h0.8M147.2 152h0.8M143.2 164.5h0.8M141.7 150.2h0.8M146 153.1h0.8M154.6 141.5h0.8M147.9 160h0.8M141.7 151.8h0.8M148.2 165.5h0.8M142.5 146.2h0.8M150.5 164.8h0.8M145 142.4h0.8M152.5 154.5h0.8M151.1 155.4h0.8M144.8 153h0.8M152.6 164.3h0.8M137.4 150.1h0.8M153.9 153.5h0.8M140.7 155.7h0.8M145.9 155.1h0.8M144.4 153.8h0.8M144.5 157.7h0.8M143 154h0.8M145.8 163.5h0.8M148 155h0.8M148.7 158.1h0.8M151 158.7h0.8M153.9 163.8h0.8M146.2 153.2h0.8M150.1 158.8h0.8M146 146.8h0.8M138.7 157.8h0.8M149.6 160.5h0.8M141 161.9h0.8M144.2 158h0.8M148.2 150.9h0.8M143.9 143.3h0.8M142.5 144.9h0.8M148.2 156.1h0.8M150.2 157.8h0.8M143.7 157.8h0.8M144.8 159.4h0.8M147.7 149.8h0.8M146.4 156h0.8M145.1 161.1h0.8M153.6 153.5h0.8M144.9 142.2h0.8M145.9 153.1h0.8M137.3 157.4h0.8M148.9 151.3h0.8M144.8 149.9h0.8M149.6 146.6h0.8M145.1 167.4h0.8M146.6 158.5h0.8M145.8 148.7h0.8M146.3 158.1h0.8M142.1 157.7h0.8M151.6 162.1h0.8M139.8 149.8h0.8M139.6 162.1h0.8M149 159.9h0.8M142.7 148.7h0.8M146.7 156.3h0.8M142.8 156.6h0.8M149.1 157.1h0.8M142 143h0.8M145.3 156.7h0.8M145.3 153.1h0.8M143.5 160h0.8M146.2 156.4h0.8M142.3 152h0.8M147.1 149.7h0.8M141.1 153.7h0.8M151.4 156.8h0.8M152.5 154.9h0.8M145.1 147.3h0.8M144 164.3h0.8M147.8 160.1h0.8M149.4 155.6h0.8M145.5 156.4h0.8M149.2 158.4h0.8M148.5 156.6h0.8M143.2 154.1h0.8M142.4 161.7h0.8M137.6 154.4h0.8M156.4 153.7h0.8M141.6 155.6h0.8M151.8 154.7h0.8M149 156.3h0.8M144.8 174.6h0.8M146.7 152.5h0.8M144.3 158h0.8M148.1 160.3h0.8M147 147.1h0.8M148.6 153.8h0.8M145.2 146.8h0.8M144 151.3h0.8M146.2 147h0.8M146.6 156.4h0.8M141.7 152h0.8M142.8 161.1h0.8M135.8 153.6h0.8M139.4 153.1h0.8M150 151.9h0.8M147 150.6h0.8M154.5 161.2h0.8M151.1 147.7h0.8M141.8 162.2h0.8M145.6 154.2h0.8M147.8 148.2h0.8M149.6 155.8h0.8M148.4 151.7h0.8M148.6 151.5h0.8M150.4 162.5h0.8M150.2 158.8h0.8M149.1 139.5h0.8M149.9 154.1h0.8M146.8 154h0.8M140.6 152.5h0.8M149.2 164.2h0.8M143.8 150.3h0.8M152.5 150.4h0.8M155.1 156h0.8M142.7 161.6h0.8M153.5 147.1h0.8M152.9 154h0.8M152.6 153.4h0.8M139.8 158.7h0.8M150.3 168.3h0.8M153.6 159.9h0.8M145.4 152.6h0.8M145.2 150.7h0.8M145.2 140.4h0.8M147.2 155.5h0.8M157.2 160.3h0.8M144.4 159.1h0.8M141.3 152.1h0.8M138.6 164.3h0.8M148.9 148.6h0.8M146.1 161.4h0.8M148.5 158h0.8M142.8 151.9h0.8M146.8 161.2h0.8M142.9 149h0.8M151.2 150.1h0.8M150.9 157.2h0.8M150.1 166.2h0.8M149.3 160.4h0.8M142.5 151.5h0.8M149.1 164.9h0.8M152.2 169.6h0.8M147.7 156.9h0.8M150.6 155.8h0.8M146.1 149.4h0.8M150.6 149.3h0.8M148.6 147.2h0.8M151 149.5h0.8M149.9 146.2h0.8M144.6 162.8h0.8M143 156.1h0.8M144.4 141.8h0.8M147.7 158.3h0.8M141.7 159.1h0.8M143.1 149.7h0.8M146.4 151.6h0.8M156 146.4h0.8M149.5 161.6h0.8M138.1 145.3h0.8M148.8 152.8h0.8M148 162.5h0.8M144.8 149.3h0.8M134.9 156.9h0.8M142.5 157.6h0.8" stroke="#9ccc6a" stroke-width="0.8" opacity="0.8" fill="none"/>
<ellipse cx="146.6" cy="155.7" rx="5.9" ry="7.1" fill="#7cc242"/>
<ellipse cx="146.6" cy="155.7" rx="3.6" ry="4.6" fill="none" stroke="#a2d86c" stroke-width="0.7"/>
<path d="M145.6 155.7h2M146.6 154.7v2" stroke="#fff" stroke-width="0.6"/>
<ellipse cx="185.3" cy="154" rx="9.2" ry="9.5" fill="#f4a040"/>
<ellipse cx="185.3" cy="154" rx="6.5" ry="6.8" fill="none" stroke="#f7b468" stroke-width="0.8"/>
<circle cx="185.8" cy="154" r="3.6" fill="#f9caa0"/>
<circle cx="185.8" cy="153.8" r="1.3" fill="#fff"/>
<ellipse cx="207.8" cy="114.8" rx="6.4" ry="6.9" fill="#56bde6"/>
<ellipse cx="207.8" cy="114.8" rx="4.2" ry="4.6" fill="none" stroke="#8ad4ef" stroke-width="0.8"/>
<circle cx="207.6" cy="114.6" r="1.7" fill="#bfe6f6"/>
<circle cx="207.6" cy="114.6" r="0.8" fill="#fff"/>
<circle cx="226.4" cy="93" r="5.6" fill="#e33a3a"/>
<circle cx="226.4" cy="93" r="3.2" fill="none" stroke="#ee6a6a" stroke-width="0.7"/>
<circle cx="226.4" cy="93" r="0.9" fill="#fff"/>
<path d="M102.3 44.3L102.6 38.5L104 37.5L105.5 38L106.3 22L107.3 24L108.3 20.8L109.3 23.5L110.3 22.5L110.8 37.5L112 40L112.8 44.3Z" fill="#c89ccc" fill-opacity="0.9" stroke="#8e3c96" stroke-width="0.8"/>
<path d="M110.6 44.3L111 22.5L112.3 25L113.3 21.8L114.5 24.5L115.5 22L116.7 23.5L117.3 35.5L118.6 34.5L119.6 38L120.6 44.3Z" fill="#c4ccae" fill-opacity="0.9" stroke="#3d6b35" stroke-width="0.8"/>
<path d="M139.6 44.3L139.6 44.2L140 44L140.5 43.8L140.9 43.4L141.4 42.7L141.8 41.7L142.2 40.3L142.7 38.4L143.1 36L143.6 33.1L144 30.1L144.5 27L144.9 24.3L145.3 22.2L145.8 21.1L146.2 21.1L146.7 22.2L147.1 24.3L147.5 27L148 30.1L148.4 33.1L148.9 36L149.3 38.4L149.8 40.3L150.2 41.7L150.6 42.7L151.1 43.4L151.5 43.8L152 44L152.4 44.2L152.4 44.3Z" fill="#7cc242" fill-opacity="0.5" stroke="#7cc242" stroke-width="0.7"/>
<path d="M180 44.2L182 38L183.5 30L184.5 24.5L185.2 23.2L186 27L186.8 22L187.7 20.5L188.6 26L189.5 44.2Z" fill="#f8c890" fill-opacity="0.9" stroke="#f19a38" stroke-width="0.8"/>
<path d="M204.4 44.3L204.4 44.2L204.6 44L204.8 43.8L205 43.4L205.2 42.7L205.4 41.8L205.6 40.4L205.8 38.5L206 36.2L206.2 33.4L206.5 30.4L206.7 27.4L206.9 24.7L207.1 22.7L207.3 21.6L207.5 21.6L207.7 22.7L207.9 24.7L208.1 27.4L208.3 30.4L208.6 33.4L208.8 36.2L209 38.5L209.2 40.4L209.4 41.8L209.6 42.7L209.8 43.4L210 43.8L210.2 44L210.4 44.2L210.4 44.3Z" fill="#3aaee0" fill-opacity="0.4" stroke="#3aaee0" stroke-width="0.7"/>
<path d="M223.7 44.3L223.7 44.2L223.9 44L224 43.8L224.2 43.4L224.4 42.7L224.5 41.7L224.7 40.2L224.9 38.3L225 35.9L225.2 33L225.4 29.9L225.5 26.8L225.7 24L225.9 22L226 20.8L226.2 20.8L226.3 22L226.5 24L226.7 26.8L226.8 29.9L227 33L227.2 35.9L227.3 38.3L227.5 40.2L227.7 41.7L227.8 42.7L228 43.4L228.2 43.8L228.3 44L228.5 44.2L228.5 44.3Z" fill="#e8583e" fill-opacity="0.75" stroke="#e8583e" stroke-width="0.7"/>
<path d="M236.2 89.5C240.2 92.2 253.2 91.9 259.2 92.7C253.2 93.5 240.2 93.2 236.2 96.2Z" fill="#f29a80" fill-opacity="0.8" stroke="#e8604a" stroke-width="0.7"/>
<path d="M236.2 110.8C240.2 114.5 251.4 114.2 257.4 115C251.4 115.8 240.2 115.5 236.2 119.2Z" fill="#b0dff2" fill-opacity="0.8" stroke="#4db8e2" stroke-width="0.7"/>
<path d="M236 144.5L238 148L243 151L249 153L258.3 155.5L252 157.5L250 160L253 161L247 163L250 165L244 167L247 168.5L240 170L241 172L237.5 174L236 175Z" fill="#8a7a84" fill-opacity="0.9" stroke="#8a6a8a" stroke-width="0.6"/>
<path d="M236 157L242 158.5L247 159.5L244 161.5L249 163L243 165.5L246 167.5L240 169.5L241.5 171.5L237.5 173.5L236 175Z" fill="#8e3c96" fill-opacity="0.6"/>
<rect x="92.3" y="44.3" width="143.9" height="143.7" fill="none" stroke="#8a8a8a" stroke-width="0.9"/>
<line x1="92.3" y1="44.3" x2="236.2" y2="44.3" stroke="#86708a" stroke-width="1" />
<line x1="236.2" y1="44.3" x2="236.2" y2="188" stroke="#86708a" stroke-width="1" />
<rect x="102.2" y="50" width="36.3" height="82.7" fill="#fff" stroke="#5a5a5a" stroke-width="0.75"/>
<rect x="111.7" y="50.4" width="26.4" height="8.9" fill="#e6e4e2"/>
<line x1="111.7" y1="50" x2="111.7" y2="132.7" stroke="#5a5a5a" stroke-width="0.75" />
<text x="113.7" y="57.5" font-size="7.244999999999999" text-anchor="start" fill="#333" >bead</text>
<rect x="104" y="60.5" width="6" height="6" fill="#e53c3c"/>
<text x="113.7" y="65.7" font-size="6.3" text-anchor="start" fill="#2a2a2a" >1.9 µm</text>
<rect x="104" y="69.3" width="6" height="6" fill="#4db8e2"/>
<text x="113.7" y="74.5" font-size="6.3" text-anchor="start" fill="#2a2a2a" >1 µm</text>
<rect x="104" y="78.1" width="6" height="6" fill="#f5a040"/>
<text x="113.7" y="83.3" font-size="6.3" text-anchor="start" fill="#2a2a2a" >500 nm</text>
<rect x="104" y="86.9" width="6" height="6" fill="#7cc242"/>
<text x="113.7" y="92.1" font-size="6.3" text-anchor="start" fill="#2a2a2a" >200 nm</text>
<rect x="104" y="95.7" width="6" height="6" fill="#2e6b2e"/>
<text x="113.7" y="100.9" font-size="6.3" text-anchor="start" fill="#2a2a2a" >100 nm</text>
<rect x="104" y="104.5" width="6" height="6" fill="#c6c2be"/>
<text x="113.7" y="109.7" font-size="6.3" text-anchor="start" fill="#2a2a2a" >40 nm</text>
<rect x="104" y="113.3" width="6" height="6" fill="#8e3c96"/>
<text x="113.7" y="118.5" font-size="6.3" text-anchor="start" fill="#2a2a2a" >20 nm</text>
<rect x="104" y="122.1" width="6" height="6" fill="#f2e84a"/>
<text x="113.7" y="127.3" font-size="6.3" text-anchor="start" fill="#2a2a2a" >PBS</text>
<line x1="88.3" y1="78.4" x2="92.3" y2="78.4" stroke="#222" stroke-width="1.2" />
<text x="87.2" y="81.3" font-size="8" text-anchor="end" fill="#2e2e2e">10<tspan font-size="4.6" dy="-2.4">4</tspan></text>
<line x1="88.3" y1="114.5" x2="92.3" y2="114.5" stroke="#222" stroke-width="1.2" />
<text x="87.2" y="117.4" font-size="8" text-anchor="end" fill="#2e2e2e">10<tspan font-size="4.6" dy="-2.4">3</tspan></text>
<line x1="88.3" y1="152.1" x2="92.3" y2="152.1" stroke="#222" stroke-width="1.2" />
<text x="87.2" y="155" font-size="8" text-anchor="end" fill="#2e2e2e">10<tspan font-size="4.6" dy="-2.4">2</tspan></text>
<line x1="88.3" y1="180.3" x2="92.3" y2="180.3" stroke="#222" stroke-width="1.2" />
<text x="87.2" y="183.2" font-size="8" text-anchor="end" fill="#2e2e2e">0</text>
<path d="M90.5 67.5h1.8M90.5 61.2h1.8M90.5 56.7h1.8M90.5 53.2h1.8M90.5 50.3h1.8M90.5 47.9h1.8M90.5 45.8h1.8M90.5 103.6h1.8M90.5 97.3h1.8M90.5 92.8h1.8M90.5 89.3h1.8M90.5 86.4h1.8M90.5 84h1.8M90.5 81.9h1.8M90.5 80.1h1.8M90.5 140.8h1.8M90.5 134.2h1.8M90.5 129.5h1.8M90.5 125.8h1.8M90.5 122.8h1.8M90.5 120.3h1.8M90.5 118.1h1.8M90.5 116.2h1.8M90.5 158h1.8M90.5 163h1.8M90.5 167h1.8M90.5 170.5h1.8" stroke="#444" stroke-width="0.7"/>
<path d="M88.8 175.2h3.5M87.8 176.1h4.5M89.8 177.1h2.5M87.8 178h4.5M89.3 179h3M87.8 179.9h4.5M89.8 180.9h2.5M88.1 181.8h4.2M89.1 182.8h3.2" stroke="#151515" stroke-width="0.8"/>
<line x1="103" y1="188" x2="103" y2="191.6" stroke="#222" stroke-width="1.2" />
<text x="103" y="199.5" font-size="8" text-anchor="middle" fill="#2e2e2e">0</text>
<line x1="125.4" y1="188" x2="125.4" y2="191.6" stroke="#222" stroke-width="1.2" />
<text x="121" y="199.5" font-size="8" fill="#2e2e2e">10<tspan font-size="4.6" dy="-2.4">2</tspan></text>
<line x1="157.9" y1="188" x2="157.9" y2="191.6" stroke="#222" stroke-width="1.2" />
<text x="153.5" y="199.5" font-size="8" fill="#2e2e2e">10<tspan font-size="4.6" dy="-2.4">3</tspan></text>
<line x1="190.6" y1="188" x2="190.6" y2="191.6" stroke="#222" stroke-width="1.2" />
<text x="186.2" y="199.5" font-size="8" fill="#2e2e2e">10<tspan font-size="4.6" dy="-2.4">4</tspan></text>
<line x1="222.2" y1="188" x2="222.2" y2="191.6" stroke="#222" stroke-width="1.2" />
<text x="217.8" y="199.5" font-size="8" fill="#2e2e2e">10<tspan font-size="4.6" dy="-2.4">5</tspan></text>
<path d="M135.2 188v1.8M140.9 188v1.8M145 188v1.8M148.1 188v1.8M150.7 188v1.8M152.9 188v1.8M154.8 188v1.8M156.4 188v1.8M167.7 188v1.8M173.5 188v1.8M177.6 188v1.8M180.8 188v1.8M183.3 188v1.8M185.5 188v1.8M187.4 188v1.8M189.1 188v1.8M200.1 188v1.8M205.7 188v1.8M209.6 188v1.8M212.7 188v1.8M215.2 188v1.8M217.3 188v1.8M219.1 188v1.8M220.8 188v1.8M231.8 188v1.8M108.5 188v1.8M112 188v1.8M115.5 188v1.8M118.5 188v1.8M121 188v1.8" stroke="#444" stroke-width="0.7"/>
<path d="M99.2 188v3.8M100 188v2.5M100.9 188v3.8M101.7 188v2.2M102.6 188v3.8M103.4 188v2.5M104.3 188v3.8M105.1 188v2.8" stroke="#151515" stroke-width="0.75"/>
<line x1="67.8" y1="46" x2="67.8" y2="102" stroke="#2a2a2a" stroke-width="1.3" />
<path d="M67.8 42.5l-2 4.5h4Z" fill="#333"/>
<line x1="67.8" y1="130" x2="67.8" y2="207.8" stroke="#2a2a2a" stroke-width="1.3" />
<line x1="67.8" y1="207.8" x2="142" y2="207.8" stroke="#2a2a2a" stroke-width="1.3" />
<line x1="174" y1="207.8" x2="233" y2="207.8" stroke="#2a2a2a" stroke-width="1.3" />
<path d="M237 207.8l-4.5 -2v4Z" fill="#333"/>
<text x="158" y="212.2" font-size="11" text-anchor="middle" fill="#2a2a2a" >SSC</text>
<text transform="translate(71.6 117.2) rotate(-90)" font-size="10.6" text-anchor="middle" fill="#2a2a2a">FSC</text>
<text transform="translate(51 115.6) rotate(-90)" font-size="13.6" text-anchor="middle" fill="#2a2a2a">FACSAria (SORP)</text>
<path d="M389.8 149.2h0.8M429.2 114.1h0.8M393.7 140.8h0.8M408.3 129.1h0.8M427.8 122.1h0.8M456.2 92.4h0.8M382 140.4h0.8M380.4 154.2h0.8M422.2 116.8h0.8M454.2 92.9h0.8M376.2 156.2h0.8M426.7 106.1h0.8M372.6 157.3h0.8M414.8 106.9h0.8M385.3 149.5h0.8M428.2 105.1h0.8M409.5 131.6h0.8M425.9 103.4h0.8M396.7 135.4h0.8M376.3 149.4h0.8M386.9 138.8h0.8M403.1 139.5h0.8M387.9 143.2h0.8M395.1 144.6h0.8M417.2 110.5h0.8M414.2 124h0.8M435.3 88.8h0.8M416.4 116.9h0.8M419.5 113.8h0.8M437 107.3h0.8M445.5 96h0.8M424.4 112.2h0.8M379.6 162.3h0.8M416.3 122.9h0.8M377.6 161.4h0.8M430 115.3h0.8M379.1 154.7h0.8M420.4 114.8h0.8M389.9 148.3h0.8M443 92.9h0.8M384.4 153.8h0.8M435.6 113.2h0.8M437.7 109h0.8M398.4 134.2h0.8M420.1 106.3h0.8M404.6 131.4h0.8M398.1 136.7h0.8M403.6 142.5h0.8M371.2 159.1h0.8M430.8 106h0.8M383.4 157.8h0.8M390.9 140.2h0.8M381.1 152h0.8M448.7 106.4h0.8M427.4 124h0.8M418.8 124.3h0.8M426.2 114.4h0.8M437.2 93.4h0.8M430.5 113h0.8M419.9 118.3h0.8M404.3 134h0.8M417.6 115.3h0.8M453.9 86.5h0.8M423.2 113.2h0.8M418.2 122.1h0.8M453.4 99.7h0.8M379.7 157.9h0.8M371.9 147.3h0.8M435.9 94.6h0.8M443.9 81.8h0.8M374.2 152.8h0.8M376.6 162.5h0.8M373.6 163.8h0.8M421.9 110.7h0.8M388.4 149.1h0.8M420 111h0.8M424.8 100.8h0.8M366.7 154.3h0.8M442.1 89.9h0.8M404.3 144.6h0.8M416.9 108.7h0.8M412.3 135.7h0.8M411.7 137h0.8M410.1 125.2h0.8M370.5 162.6h0.8M410.3 121.2h0.8M399.1 136.7h0.8M410 132.7h0.8M389.7 145.5h0.8M409.6 136h0.8M438.8 110.8h0.8M455.2 88.4h0.8M394.4 144h0.8M445.3 93.9h0.8M428.9 112.6h0.8M378.5 146h0.8M374.5 163h0.8M447.7 94.1h0.8M392.6 135.2h0.8M393.4 161.1h0.8M426.1 103.5h0.8M430.3 100.5h0.8M448.8 93.7h0.8M410.1 109.7h0.8M399.8 129.3h0.8M397.1 125.3h0.8M389.4 137.2h0.8M428.3 108.9h0.8M452.2 90.9h0.8M386.4 158.2h0.8M413 131.1h0.8M411.8 135.6h0.8M383.6 156.2h0.8M423.8 110h0.8M458.5 92.1h0.8M398 133.5h0.8M432.9 100.4h0.8M454.6 99.3h0.8M403.1 140.1h0.8M450.2 91.9h0.8M440.5 105.5h0.8M433.5 113h0.8M386.7 136.2h0.8M399.8 135.3h0.8M378.2 145.6h0.8M448.1 92.9h0.8M438.6 94.7h0.8M387.7 159.2h0.8M423.3 119.2h0.8M390.9 137.2h0.8M438.3 100.7h0.8M418.9 108h0.8M451.2 89.4h0.8M438 105.9h0.8M384.5 152.6h0.8M399.9 119.1h0.8M423 111.9h0.8M450.9 93.7h0.8M409.5 129.9h0.8M397.2 148.8h0.8M395.1 129.1h0.8M399.9 140.7h0.8M386 143.1h0.8M406.8 131.5h0.8M399.5 140h0.8M422.4 121.5h0.8M444.9 89.6h0.8M452.4 89.5h0.8M384.2 140.2h0.8M417.7 107.3h0.8M434.2 109.5h0.8M388.4 146.1h0.8M413.9 108.9h0.8M389.5 138.1h0.8M407.7 129.1h0.8M411.1 139.5h0.8M446.5 102.5h0.8M399.9 143.1h0.8M413.8 107.5h0.8M424.7 112.4h0.8M406.8 133.9h0.8M451.6 92h0.8M406.8 133.4h0.8M403.4 130.8h0.8M440.8 114h0.8M424.1 126.9h0.8M435 103h0.8M384.4 141.7h0.8M397.2 156.6h0.8M433.8 100h0.8M414.9 132.8h0.8M453.3 103.9h0.8M392.1 134.8h0.8M398.2 140.2h0.8M443.8 92.7h0.8M409.7 131.6h0.8M385.7 151.9h0.8M403.6 149.8h0.8M441.3 103.3h0.8M399.1 136.7h0.8M427.8 120.4h0.8M442.1 94.9h0.8M425.4 109.4h0.8M447.3 112.3h0.8M449.6 83.2h0.8M400 131.7h0.8M446.4 93.8h0.8M417.9 110.2h0.8M384.1 132h0.8M391.2 153.3h0.8M401.1 128h0.8M384.8 145.2h0.8M437.2 98.5h0.8M418.7 110.1h0.8M372 152.1h0.8M447.1 94.2h0.8M436.5 123.6h0.8M417.3 126.6h0.8M390.8 151h0.8M409.6 113.9h0.8M449 90.8h0.8M419.9 107.3h0.8M418.7 125.6h0.8M425.8 110.2h0.8M422.6 115.5h0.8M427.6 109.8h0.8M390.5 139.5h0.8M381.6 139.5h0.8M374.8 164.1h0.8M437 89.8h0.8M365.4 157.3h0.8M397 136.1h0.8M422 109.5h0.8M419.7 120.2h0.8M452.4 96.8h0.8M395.5 142.3h0.8M385.6 150.9h0.8M389.5 145.8h0.8M422.2 123.2h0.8M393.3 125.8h0.8M416.7 123.9h0.8M428.7 101.4h0.8M398.6 126.4h0.8M431.1 107.5h0.8M371.7 158.5h0.8M424.7 118.4h0.8M453.2 96.8h0.8M440 78.7h0.8M423.8 113.5h0.8M462.2 96.2h0.8M400.3 143.4h0.8M408.3 141.1h0.8M414.9 123.2h0.8M412.9 111.4h0.8M437.3 91.8h0.8M417.5 126.1h0.8M381.5 161.4h0.8M430.4 101.6h0.8M394.1 139h0.8M447.8 94.4h0.8M386.6 132.8h0.8M400.3 132.6h0.8M394.2 155.5h0.8M412 144.2h0.8M425.8 111.3h0.8M407.4 145.3h0.8M375 154.3h0.8M421.6 109h0.8M426.3 92h0.8M388.4 155.1h0.8M410.9 122.6h0.8M390 165.8h0.8M374.5 162.3h0.8M409.3 129.1h0.8M393.1 126.4h0.8M452.7 100.8h0.8M370.9 159.5h0.8M429 107.9h0.8M426.4 92.3h0.8M416 129.4h0.8M423 123.6h0.8M394.9 135.3h0.8M398.4 138.2h0.8M379.6 158.2h0.8M452.5 96.3h0.8M375.2 159.7h0.8M394.7 156.1h0.8M434.4 102.3h0.8M412.6 119.1h0.8M417.5 115.8h0.8M390.6 122.2h0.8M385.9 141.8h0.8M445.2 103.4h0.8M386.9 150.3h0.8M398.2 130.4h0.8M439 103.3h0.8M393.2 124.4h0.8M450.2 87.4h0.8M393.2 146.9h0.8M423.8 120.3h0.8M418.1 112.5h0.8M422.6 123.3h0.8M447.3 109.1h0.8M375.1 155h0.8M425.4 119.2h0.8M433.3 91.7h0.8M369 147.2h0.8M424.9 118.6h0.8M414.1 123.5h0.8M411.9 126.9h0.8M418.9 113.5h0.8M426.8 108.8h0.8M437.5 108.8h0.8M455.3 100.4h0.8M429.5 107h0.8M447.4 77.9h0.8M436.7 113.6h0.8M402.2 139.3h0.8M391.1 150.2h0.8M380.8 155.2h0.8M409.6 147.7h0.8M385.6 149.9h0.8M434.7 108.7h0.8M424.8 96.9h0.8M424.6 108.3h0.8M406.2 124.3h0.8M415.6 121.4h0.8M400.2 138.9h0.8M445.9 87.3h0.8M380.5 169.2h0.8M399.3 127.3h0.8M422.2 111.7h0.8M392.4 145.1h0.8M439.2 89h0.8M419.6 123.1h0.8M411 131.5h0.8M377.8 153.8h0.8M409 144.6h0.8M425.8 113h0.8M401.8 136.8h0.8M372.7 152.6h0.8M417.4 105.3h0.8M399.8 130.6h0.8M442.7 94h0.8M431.1 103.5h0.8M438.6 107.4h0.8M436.7 81.3h0.8M436.6 92.4h0.8M396.7 122.9h0.8M429.8 120.5h0.8M396.1 134.6h0.8M391.1 139.6h0.8M388.9 136.4h0.8M388.4 154.6h0.8M395 137h0.8M396.5 141.2h0.8M422.7 97.2h0.8M403.1 143.5h0.8M378.8 158.9h0.8M414.8 127.3h0.8M398.8 148.1h0.8M432 104.9h0.8M394.5 139.6h0.8M426.2 118.4h0.8M392.8 146.4h0.8M416.1 119.1h0.8M445.8 94.4h0.8M400.3 131.3h0.8M423.9 120.5h0.8M417.9 127.9h0.8M379.9 154.5h0.8M381.9 169.3h0.8M437.1 88.4h0.8M404.6 129.7h0.8M440.2 114.3h0.8M409.8 123.3h0.8M436.6 88.4h0.8M398.9 149.4h0.8M419.7 122.7h0.8M417.1 109.8h0.8M443.8 102.7h0.8M370.4 154.2h0.8M401.6 122.7h0.8M416 120h0.8M423.3 110.4h0.8M382.7 142.2h0.8M420.4 114.1h0.8M428.8 100.8h0.8M436.4 103.2h0.8M395.4 140.1h0.8M417.2 126.8h0.8M400.1 132h0.8M403.8 120.8h0.8M401.8 122.8h0.8M450 88h0.8M379.3 168.7h0.8M455 93.1h0.8M372.5 155.6h0.8M385 158.2h0.8M388.7 136.2h0.8M405.6 139.9h0.8M443.3 92.9h0.8M447.2 99.5h0.8M453.1 92.9h0.8M408.6 125.7h0.8M374.3 162.5h0.8M423.5 105h0.8M447.5 91.8h0.8M388.8 155.9h0.8M460.9 116.4h0.8M373.4 166.7h0.8M436.4 103.4h0.8M413.6 114.6h0.8M453.2 96.6h0.8M438.9 85.7h0.8M373.6 153.2h0.8M420 120.8h0.8M391.8 132.9h0.8M420.6 130.8h0.8M384.3 160.1h0.8M404.9 126.6h0.8M408.9 123h0.8M365 156.5h0.8M410.4 114.1h0.8M449.5 94.6h0.8M381.6 158.5h0.8M452.6 90.9h0.8M419 121h0.8M391.8 138.7h0.8M454.3 89.4h0.8M410 113.8h0.8M413.7 123.6h0.8M415.2 135.2h0.8M452.5 99.6h0.8M384.4 146.3h0.8M392.8 139.8h0.8M406.9 142h0.8M386.9 163.9h0.8M437.4 88.5h0.8M415.8 117.7h0.8M427.4 113h0.8M452.3 98.9h0.8M414.5 115.3h0.8M403 139h0.8M419.7 115.3h0.8M429.1 130.4h0.8M404 136.2h0.8M395.6 138.9h0.8M405.7 127.9h0.8M440.9 107.9h0.8M392.9 148.6h0.8M449.8 80.8h0.8M397.5 140.3h0.8M393.9 129.8h0.8M382.4 145.6h0.8M404.3 120.7h0.8M402.5 122.1h0.8M429.3 103.1h0.8M443.3 87.6h0.8M400 140.8h0.8M445.1 101.8h0.8M401.9 132.2h0.8M406.3 120.4h0.8M389.8 152.6h0.8M438.5 82.8h0.8M399.9 119h0.8M437 108.6h0.8M377.3 162.7h0.8M437.8 110h0.8M394.7 139h0.8M409.2 116.4h0.8M429.5 104.5h0.8M393 147.5h0.8M417.4 113.4h0.8M440.3 92.8h0.8M383.6 138.8h0.8M410.9 115.7h0.8M395.5 147.7h0.8M389.8 149.5h0.8M412.7 114.1h0.8M410.4 116.9h0.8M427.1 106.2h0.8M447.4 97.4h0.8M429 99.1h0.8M404.6 130.4h0.8M408.1 109.7h0.8M426.2 100.9h0.8M445.5 98h0.8M436.4 110.6h0.8M413.7 113.2h0.8M383.4 144.5h0.8M449.2 98h0.8M398.9 133.6h0.8M408.7 123.3h0.8M449.2 95.6h0.8M394.8 142.6h0.8M453.8 96.6h0.8M399.5 143.6h0.8M379.3 149.9h0.8M419.2 117.4h0.8M440.3 98.6h0.8M404.9 119.6h0.8M439.6 91.1h0.8M414.6 131.3h0.8M435 89.9h0.8M389 155h0.8M402.1 136.7h0.8M385 148.6h0.8M439 105.1h0.8M418.3 123.5h0.8M435.8 114h0.8M395 137.1h0.8M435.2 101.7h0.8M453.2 85.1h0.8M389.3 162.6h0.8M408 137.1h0.8M441.7 89.6h0.8M443.1 93.6h0.8M442.9 90.5h0.8M395.8 140.1h0.8M424.5 115.6h0.8M391.9 163.9h0.8M405.1 115.2h0.8M429 118.6h0.8M400.6 139.5h0.8M409.4 121.3h0.8M407.2 128.2h0.8M379.4 150.6h0.8M380 154.9h0.8M444 104.6h0.8M363.9 155.8h0.8M459.7 93h0.8M446.1 90.5h0.8M460.6 93.8h0.8M441.7 101.5h0.8M376 169.1h0.8M387.5 152.6h0.8M408.7 137.8h0.8M391.8 144.2h0.8M375.2 151.6h0.8" stroke="#ece88a" stroke-width="0.8" opacity="0.55"/>
<path d="M382.7 166.9h0.8M399.8 161.4h0.8M372.2 167.6h0.8M359.5 165h0.8M400.1 168.3h0.8M364 168.3h0.8M388.8 167h0.8M379.2 165.9h0.8M364.2 164.4h0.8M383.4 165.7h0.8M396.9 164.8h0.8M345.8 164.8h0.8M378 166.2h0.8M375.5 163.8h0.8M392.6 164.1h0.8M383.2 164.9h0.8M360.3 168.3h0.8M344.5 163.7h0.8M379.9 164.7h0.8M383.7 165.2h0.8M369.3 169.8h0.8M372.1 165.1h0.8M361.7 164h0.8M382.5 166.6h0.8M374.8 164.1h0.8M383 162h0.8M370.7 165h0.8M364.6 165.8h0.8M366.8 163.9h0.8M396.4 166.9h0.8M389.2 165.6h0.8M386.4 167h0.8M389.4 170.2h0.8M372.1 166h0.8M374.2 158.4h0.8M358.1 165.5h0.8M382.5 164.3h0.8M388.5 168.1h0.8M370 168.3h0.8M396 166.4h0.8M363.2 168.4h0.8M373 164.7h0.8M376.4 164.4h0.8M387.8 167.1h0.8M389.6 166.7h0.8M365.5 165.2h0.8M385.5 164.7h0.8M410 165h0.8M368 167.8h0.8M384 165.4h0.8M372.2 166.4h0.8M385 167h0.8M371.4 166.4h0.8M385.1 167h0.8M338 163.7h0.8M365.7 165h0.8M377.1 167.3h0.8M382.4 165.2h0.8M375.3 169h0.8M367.6 166.1h0.8M393.8 166.2h0.8M350.5 166.2h0.8M370.4 165.3h0.8M387.6 166.4h0.8M371.8 167.3h0.8M380.2 165.7h0.8M378.6 166h0.8M370.9 164.6h0.8M375.3 163.6h0.8M359.9 168.1h0.8M372.1 165.5h0.8M373.4 165.5h0.8M375.3 165.6h0.8M365.3 167.4h0.8M366.7 167.6h0.8M352 163.4h0.8M386.9 165.2h0.8M366.9 166.3h0.8M362.5 165.7h0.8M348.4 164.6h0.8M367.2 166.6h0.8M385.5 163.8h0.8M394.3 164.3h0.8M350.3 160.7h0.8M393.5 165.3h0.8M367.2 164h0.8M361.9 168.2h0.8M374 169.1h0.8M372.6 160.8h0.8M385.1 164.8h0.8M372.2 168.6h0.8M371.8 167.8h0.8M374.9 164h0.8M381.1 164.3h0.8M389.7 167.4h0.8M375.8 166.7h0.8M381.8 164.9h0.8M385.7 165h0.8M382.4 163.6h0.8M376.2 166.3h0.8M365.5 164.7h0.8M368.6 167h0.8M366.4 166.4h0.8M393.3 166.2h0.8M355.7 165.8h0.8M387.6 164.9h0.8M388.4 166.7h0.8M380.1 165h0.8M368.9 165h0.8M375.9 166.6h0.8M380.2 164.9h0.8M375.9 166.3h0.8M355.6 164h0.8M365.6 165.1h0.8M371.8 165h0.8M364.7 166.9h0.8M378.5 162.2h0.8M375.3 163.3h0.8M395.6 164.6h0.8M370.5 165.7h0.8M372.8 165.4h0.8M393.8 166h0.8M385.2 167.8h0.8M363.5 168.9h0.8M383.5 167.4h0.8M364.8 167.2h0.8M380.2 164.5h0.8M402.6 166.7h0.8M372.3 165.9h0.8M386.1 167.8h0.8M382.2 168h0.8M392.9 163.1h0.8M369.4 163.7h0.8M376.4 168.4h0.8M383.1 163.4h0.8M371.7 167.6h0.8M368.9 165.3h0.8M378.9 161.9h0.8M384.6 166.2h0.8M382.1 163.6h0.8M366 164.3h0.8M378.2 165.7h0.8M376.8 169.1h0.8M390.9 164.1h0.8M367.4 169h0.8M371.4 168.3h0.8M394.4 164.5h0.8M372 165.7h0.8M364.9 163.6h0.8M370.4 167.2h0.8M369.9 165.1h0.8M369.7 162.8h0.8M393.1 160.9h0.8M367.4 166.7h0.8M358.5 166.7h0.8M390.3 163.8h0.8M377.7 163.3h0.8M381.3 165.7h0.8M377.8 168.3h0.8M380.9 168.2h0.8" stroke="#eee67a" stroke-width="0.8" opacity="0.7" fill="none"/>
<path d="M348.6 160.9h0.8M347.7 166.8h0.8M343.4 169.7h0.8M347.2 166.4h0.8M344.8 165.3h0.8M347.8 163.9h0.8M347.2 157.6h0.8M350.5 161.2h0.8M345 167h0.8M344.8 166.1h0.8M344.6 172.8h0.8M348.4 171.9h0.8M344.5 167.4h0.8M344.7 167.1h0.8M348.7 159.5h0.8M344.2 161h0.8M343.3 162.5h0.8M344.6 160h0.8M347.3 167h0.8M343.8 163.1h0.8M347.1 164.2h0.8M345.3 167.9h0.8M349.2 167.4h0.8M346.5 172h0.8M351.4 163.6h0.8M346.7 169.2h0.8M345 166.4h0.8M347.1 162.6h0.8M346.4 159.5h0.8M345.7 158.1h0.8M352.7 170.3h0.8M350.1 166.1h0.8M349.5 169.5h0.8M349.6 168.2h0.8M344.7 166.5h0.8M345.7 160.9h0.8M344.2 166.5h0.8M349.6 160.2h0.8M351.4 170.2h0.8M346.1 163.4h0.8M346.8 168.4h0.8M346.1 161.1h0.8M347.9 157.8h0.8M347.4 169.1h0.8M347.8 167.7h0.8M348.2 167.6h0.8M347.4 162.1h0.8M346.4 164.7h0.8M350.1 170.7h0.8M348.1 162.4h0.8M345.2 164.3h0.8M350.5 166.2h0.8M346.9 162.3h0.8M349.2 166h0.8M346.9 165.4h0.8M351.2 164.4h0.8M351.2 169.3h0.8M347.1 168.1h0.8M346.7 162.1h0.8" stroke="#9a4aa2" stroke-width="0.8" opacity="0.8" fill="none"/>
<ellipse cx="345.6" cy="169.3" rx="3" ry="2.4" fill="#8e3c96"/>
<ellipse cx="346.5" cy="162.5" rx="3.2" ry="2.4" fill="none" stroke="#9a50a0" stroke-width="1"/>
<ellipse cx="346" cy="166" rx="2.6" ry="1.8" fill="none" stroke="#c8b0c8" stroke-width="0.8"/>
<ellipse cx="358.5" cy="168" rx="7.6" ry="6.2" fill="#4d6a38"/>
<ellipse cx="358.5" cy="168" rx="5" ry="3.8" fill="none" stroke="#7a9258" stroke-width="0.8"/>
<ellipse cx="358.5" cy="168" rx="2.5" ry="1.8" fill="none" stroke="#8aa068" stroke-width="0.6"/>
<path d="M357.4 165.1h0.7M360.5 168h0.7M360.8 170.6h0.7M346 169h0.7M351.3 168.5h0.7M355 168.3h0.7M364 162.5h0.7M359.3 167.7h0.7M350.9 170.1h0.7M358.6 166.4h0.7M355.6 178.3h0.7M356.9 162.2h0.7M354.8 166.8h0.7M357 167.7h0.7M354.3 169.7h0.7M356.6 163.6h0.7M355.2 166.8h0.7M361.9 169.6h0.7M357.1 168.1h0.7M359.4 174.5h0.7M356 169.5h0.7M361.4 165h0.7M359.3 168.5h0.7M356.6 169.8h0.7M362.6 171.6h0.7M357.7 168.6h0.7M367.9 164.5h0.7M359.4 170.8h0.7M359.1 170.1h0.7M359.2 170.4h0.7M363.6 167.3h0.7M359.3 167.8h0.7M356.9 167.9h0.7M354 170.4h0.7M365.3 173.5h0.7M363.6 164.9h0.7M364.6 165.7h0.7M358.3 173.9h0.7M354.2 170.7h0.7M359.6 167.5h0.7M355 169.4h0.7M356.6 171.3h0.7M363.4 163.6h0.7M356.5 167h0.7M353.8 164.4h0.7M358.9 167.3h0.7M351.9 166.3h0.7M360.6 164.1h0.7M354.8 173.1h0.7M363.8 162.8h0.7M353.1 169.2h0.7M353.7 167.2h0.7M356.7 169.8h0.7M348.4 161h0.7M353.6 171.2h0.7M357.9 162.5h0.7M360.5 170.3h0.7M357.5 166.9h0.7M360.3 171.9h0.7M359.1 169.7h0.7" stroke="#c9c8a0" stroke-width="0.7" opacity="0.6" fill="none"/>
<circle cx="401.4" cy="165.3" r="7.4" fill="#7cc242"/>
<ellipse cx="401.4" cy="165.3" rx="6" ry="6" fill="none" stroke="#a0d870" stroke-width="0.5" opacity="1"/>
<ellipse cx="401.4" cy="165.3" rx="4" ry="4" fill="none" stroke="#a0d870" stroke-width="0.5" opacity="1"/>
<ellipse cx="401.4" cy="165.3" rx="2" ry="2" fill="none" stroke="#a0d870" stroke-width="0.5" opacity="1"/>
<circle cx="401.4" cy="165.3" r="0.8" fill="#fff"/>
<circle cx="448.2" cy="98.2" r="6" fill="#f19a38"/>
<circle cx="448.2" cy="98.2" r="3.5" fill="none" stroke="#f7c08a" stroke-width="0.6"/>
<circle cx="448.2" cy="98.2" r="0.8" fill="#fff"/>
<circle cx="461.5" cy="72.2" r="5" fill="#5bb8c0"/>
<circle cx="461.5" cy="72.2" r="3" fill="none" stroke="#8ad0d4" stroke-width="0.6"/>
<circle cx="461.5" cy="72.2" r="0.8" fill="#fff"/>
<circle cx="464.5" cy="59.1" r="5.6" fill="#e53c3c"/>
<circle cx="464.5" cy="59.1" r="3.2" fill="none" stroke="#f07070" stroke-width="0.6"/>
<circle cx="464.5" cy="59.1" r="0.8" fill="#fff"/>
<path d="M343.8 36.6L344 13L344.6 13.5L345.4 26L346.5 31.5L348.3 36.6Z" fill="#b080b4" stroke="#8e3c96" stroke-width="0.8"/>
<path d="M348.5 36.6L349.8 25L351 13.4L352 14L353 26L354 36.6Z" fill="#f4ee80" stroke="#ece04a" stroke-width="0.8"/>
<path d="M351.5 36.6L353 30L354.5 22L355.8 13.4L357 20L358.4 18.5L359.5 24L361 28L362.5 31L364 33.5L366 35L367.8 36.6Z" fill="#b4b080" stroke="#2f5a22" stroke-width="0.9"/>
<path d="M394.1 37.3L394.1 37.2L394.6 37L395.2 36.8L395.7 36.3L396.2 35.7L396.7 34.6L397.2 33.2L397.7 31.2L398.2 28.7L398.7 25.8L399.2 22.6L399.7 19.5L400.2 16.7L400.7 14.6L401.2 13.4L401.8 13.4L402.3 14.6L402.8 16.7L403.3 19.5L403.8 22.6L404.3 25.8L404.8 28.7L405.3 31.2L405.8 33.2L406.3 34.6L406.8 35.7L407.3 36.3L407.8 36.8L408.4 37L408.9 37.2L408.9 37.3Z" fill="#7cc242" fill-opacity="0.5" stroke="#7cc242" stroke-width="0.7"/>
<path d="M444.9 37.3L444.9 37.2L445.1 37L445.3 36.8L445.5 36.3L445.7 35.7L445.9 34.6L446.1 33.2L446.3 31.2L446.5 28.7L446.7 25.8L446.9 22.6L447.1 19.5L447.3 16.7L447.5 14.6L447.7 13.4L447.9 13.4L448.1 14.6L448.3 16.7L448.5 19.5L448.7 22.6L448.9 25.8L449.1 28.7L449.3 31.2L449.5 33.2L449.7 34.6L449.9 35.7L450.1 36.3L450.3 36.8L450.5 37L450.7 37.2L450.7 37.3Z" fill="#f19a38" fill-opacity="0.55" stroke="#f19a38" stroke-width="0.7"/>
<path d="M459 37.3L459 37.2L459.1 37L459.2 36.8L459.4 36.3L459.5 35.7L459.6 34.6L459.8 33.2L459.9 31.2L460 28.7L460.2 25.8L460.3 22.6L460.4 19.5L460.6 16.7L460.7 14.6L460.8 13.4L461 13.4L461.1 14.6L461.2 16.7L461.4 19.5L461.5 22.6L461.6 25.8L461.8 28.7L461.9 31.2L462 33.2L462.2 34.6L462.3 35.7L462.4 36.3L462.6 36.8L462.7 37L462.8 37.2L462.8 37.3Z" fill="#5bb8c0" fill-opacity="0.55" stroke="#5bb8c0" stroke-width="0.7"/>
<path d="M462.3 37.3L462.3 37.2L462.4 37L462.5 36.8L462.7 36.3L462.8 35.7L462.9 34.6L463.1 33.2L463.2 31.2L463.3 28.7L463.5 25.8L463.6 22.6L463.7 19.5L463.9 16.7L464 14.6L464.1 13.4L464.3 13.4L464.4 14.6L464.5 16.7L464.7 19.5L464.8 22.6L464.9 25.8L465.1 28.7L465.2 31.2L465.3 33.2L465.5 34.6L465.6 35.7L465.7 36.3L465.9 36.8L466 37L466.1 37.2L466.1 37.3Z" fill="#e53c3c" fill-opacity="0.55" stroke="#e53c3c" stroke-width="0.7"/>
<path d="M480.8 55.8C484.8 58.2 499.5 57.9 505.5 58.7C499.5 59.5 484.8 59.2 480.8 63Z" fill="#f0a0a0" fill-opacity="0.7" stroke="#e04848" stroke-width="0.7"/>
<path d="M480.8 68.6C484.8 71 499 70.7 505 71.5C499 72.3 484.8 72 480.8 76Z" fill="#a8d8dc" fill-opacity="0.7" stroke="#4aa8b0" stroke-width="0.7"/>
<path d="M480.8 94.5C484.8 97.3 499 97 505 97.8C499 98.6 484.8 98.3 480.8 102.5Z" fill="#f8d0a0" fill-opacity="0.8" stroke="#f0a050" stroke-width="0.7"/>
<path d="M480.8 158.8C484.8 163.9 499.5 163.6 505.5 164.4C499.5 165.2 484.8 164.9 480.8 166.5Z" fill="#a8d878" fill-opacity="0.9" stroke="#7cc242" stroke-width="0.7"/>
<path d="M480.8 165.5C484.8 168.5 499.5 168.2 505.5 169C499.5 169.8 484.8 169.5 480.8 171Z" fill="#9a50a2" fill-opacity="0.9" stroke="#8e3c96" stroke-width="0.7"/>
<rect x="337.6" y="37.3" width="143.2" height="143.1" fill="none" stroke="#8a8a8a" stroke-width="0.9"/>
<line x1="337.6" y1="37.3" x2="481.3" y2="37.3" stroke="#5ab4bc" stroke-width="1.6" />
<line x1="480.8" y1="37.3" x2="480.8" y2="180.4" stroke="#5ab4bc" stroke-width="1.3" />
<rect x="346.1" y="51.3" width="36.9" height="81.9" fill="#fff" stroke="#5a5a5a" stroke-width="0.75"/>
<rect x="356.1" y="51.699999999999996" width="26.5" height="9.1" fill="#e6e4e2"/>
<line x1="356.1" y1="51.3" x2="356.1" y2="133.2" stroke="#5a5a5a" stroke-width="0.75" />
<text x="358.1" y="59" font-size="7.244999999999999" text-anchor="start" fill="#333" >bead</text>
<rect x="348.3" y="62" width="6" height="6" fill="#e53c3c"/>
<text x="358.1" y="67.2" font-size="6.3" text-anchor="start" fill="#2a2a2a" >1.9 µm</text>
<rect x="348.3" y="70.9" width="6" height="6" fill="#4db8e2"/>
<text x="358.1" y="76.1" font-size="6.3" text-anchor="start" fill="#2a2a2a" >1 µm</text>
<rect x="348.3" y="79.7" width="6" height="6" fill="#f5a040"/>
<text x="358.1" y="84.9" font-size="6.3" text-anchor="start" fill="#2a2a2a" >500 nm</text>
<rect x="348.3" y="88.6" width="6" height="6" fill="#7cc242"/>
<text x="358.1" y="93.8" font-size="6.3" text-anchor="start" fill="#2a2a2a" >200 nm</text>
<rect x="348.3" y="97.5" width="6" height="6" fill="#2e6b2e"/>
<text x="358.1" y="102.7" font-size="6.3" text-anchor="start" fill="#2a2a2a" >100 nm</text>
<rect x="348.3" y="106.3" width="6" height="6" fill="#c6c2be"/>
<text x="358.1" y="111.5" font-size="6.3" text-anchor="start" fill="#2a2a2a" >40 nm</text>
<rect x="348.3" y="115.2" width="6" height="6" fill="#8e3c96"/>
<text x="358.1" y="120.4" font-size="6.3" text-anchor="start" fill="#2a2a2a" >20 nm</text>
<rect x="348.3" y="124.1" width="6" height="6" fill="#f2e84a"/>
<text x="358.1" y="129.3" font-size="6.3" text-anchor="start" fill="#2a2a2a" >PBS</text>
<line x1="333.6" y1="62" x2="337.6" y2="62" stroke="#222" stroke-width="1.2" />
<text x="332.8" y="64.9" font-size="8" text-anchor="end" fill="#2e2e2e">10<tspan font-size="4.6" dy="-2.4">4</tspan></text>
<line x1="333.6" y1="92.1" x2="337.6" y2="92.1" stroke="#222" stroke-width="1.2" />
<text x="332.8" y="95" font-size="8" text-anchor="end" fill="#2e2e2e">10<tspan font-size="4.6" dy="-2.4">3</tspan></text>
<line x1="333.6" y1="124.4" x2="337.6" y2="124.4" stroke="#222" stroke-width="1.2" />
<text x="332.8" y="127.3" font-size="8" text-anchor="end" fill="#2e2e2e">10<tspan font-size="4.6" dy="-2.4">2</tspan></text>
<line x1="333.6" y1="157.2" x2="337.6" y2="157.2" stroke="#222" stroke-width="1.2" />
<text x="332.8" y="160.1" font-size="8" text-anchor="end" fill="#2e2e2e">10<tspan font-size="4.6" dy="-2.4">1</tspan></text>
<path d="M335.8 52.9h1.8M335.8 47.6h1.8M335.8 43.9h1.8M335.8 41h1.8M335.8 38.6h1.8M335.8 83h1.8M335.8 77.7h1.8M335.8 74h1.8M335.8 71.1h1.8M335.8 68.7h1.8M335.8 66.7h1.8M335.8 64.9h1.8M335.8 63.4h1.8M335.8 114.7h1.8M335.8 109h1.8M335.8 105h1.8M335.8 101.8h1.8M335.8 99.3h1.8M335.8 97.1h1.8M335.8 95.2h1.8M335.8 93.6h1.8M335.8 147.3h1.8M335.8 141.6h1.8M335.8 137.5h1.8M335.8 134.3h1.8M335.8 131.7h1.8M335.8 129.5h1.8M335.8 127.6h1.8M335.8 125.9h1.8M335.8 180.1h1.8M335.8 174.4h1.8M335.8 170.3h1.8M335.8 167.1h1.8M335.8 164.5h1.8M335.8 162.3h1.8M335.8 160.4h1.8M335.8 158.7h1.8" stroke="#444" stroke-width="0.7"/>
<line x1="348" y1="180.4" x2="348" y2="184" stroke="#222" stroke-width="1.2" />
<text x="343.6" y="192.2" font-size="8" fill="#2e2e2e">10<tspan font-size="4.6" dy="-2.4">1</tspan></text>
<line x1="373.3" y1="180.4" x2="373.3" y2="184" stroke="#222" stroke-width="1.2" />
<text x="368.9" y="192.2" font-size="8" fill="#2e2e2e">10<tspan font-size="4.6" dy="-2.4">2</tspan></text>
<line x1="409.2" y1="180.4" x2="409.2" y2="184" stroke="#222" stroke-width="1.2" />
<text x="404.8" y="192.2" font-size="8" fill="#2e2e2e">10<tspan font-size="4.6" dy="-2.4">3</tspan></text>
<line x1="440.1" y1="180.4" x2="440.1" y2="184" stroke="#222" stroke-width="1.2" />
<text x="435.7" y="192.2" font-size="8" fill="#2e2e2e">10<tspan font-size="4.6" dy="-2.4">4</tspan></text>
<line x1="471.2" y1="180.4" x2="471.2" y2="184" stroke="#222" stroke-width="1.2" />
<text x="466.8" y="192.2" font-size="8" fill="#2e2e2e">10<tspan font-size="4.6" dy="-2.4">5</tspan></text>
<path d="M337.9 180.4v1.8M340.4 180.4v1.8M342.4 180.4v1.8M344.1 180.4v1.8M345.5 180.4v1.8M346.8 180.4v1.8M355.6 180.4v1.8M360.1 180.4v1.8M363.2 180.4v1.8M365.7 180.4v1.8M367.7 180.4v1.8M369.4 180.4v1.8M370.8 180.4v1.8M372.1 180.4v1.8M384.1 180.4v1.8M390.4 180.4v1.8M394.9 180.4v1.8M398.4 180.4v1.8M401.2 180.4v1.8M403.6 180.4v1.8M405.7 180.4v1.8M407.6 180.4v1.8M418.5 180.4v1.8M423.9 180.4v1.8M427.8 180.4v1.8M430.8 180.4v1.8M433.2 180.4v1.8M435.3 180.4v1.8M437.1 180.4v1.8M438.7 180.4v1.8M449.5 180.4v1.8M454.9 180.4v1.8M458.8 180.4v1.8M461.8 180.4v1.8M464.3 180.4v1.8M466.4 180.4v1.8M468.2 180.4v1.8M469.8 180.4v1.8M480.6 180.4v1.8" stroke="#444" stroke-width="0.7"/>
<rect x="345.5" y="180.4" width="2.6" height="3.2" fill="#1a1a1a"/>
<line x1="312.4" y1="39" x2="312.4" y2="73.6" stroke="#2a2a2a" stroke-width="1.3" />
<path d="M312.4 35.5l-2 4.5h4Z" fill="#333"/>
<line x1="312.4" y1="147.6" x2="312.4" y2="201.2" stroke="#2a2a2a" stroke-width="1.3" />
<line x1="312.4" y1="201.2" x2="369" y2="201.2" stroke="#2a2a2a" stroke-width="1.3" />
<line x1="435" y1="201.2" x2="476" y2="201.2" stroke="#2a2a2a" stroke-width="1.3" />
<path d="M480 201.2l-4.5 -2v4Z" fill="#333"/>
<text x="402.5" y="206.2" font-size="11.1" text-anchor="middle" fill="#2a2a2a" >LALS (SSC)</text>
<text transform="translate(315 111.2) rotate(-90)" font-size="10.75" text-anchor="middle" fill="#333">SALS (FSC)</text>
<text transform="translate(295.1 110.2) rotate(-90)" font-size="13.5" text-anchor="middle" fill="#333">A50 Micro</text>
<text x="23.2" y="247.6" font-size="21" text-anchor="start" fill="#1e1e1e" class="s">B</text>
<text x="138.6" y="238.7" font-size="12" text-anchor="start" fill="#2e2e2e" >PBS</text>
<line x1="98.1" y1="258.2" x2="101.5" y2="258.2" stroke="#222" stroke-width="1.1" />
<text x="97.3" y="260.7" font-size="7" text-anchor="end" fill="#2e2e2e">10<tspan font-size="4.1" dy="-2.1">5</tspan></text>
<line x1="98.1" y1="286.1" x2="101.5" y2="286.1" stroke="#222" stroke-width="1.1" />
<text x="97.3" y="288.6" font-size="7" text-anchor="end" fill="#2e2e2e">10<tspan font-size="4.1" dy="-2.1">4</tspan></text>
<line x1="98.1" y1="314" x2="101.5" y2="314" stroke="#222" stroke-width="1.1" />
<text x="97.3" y="316.5" font-size="7" text-anchor="end" fill="#2e2e2e">10<tspan font-size="4.1" dy="-2.1">3</tspan></text>
<line x1="98.1" y1="342.2" x2="101.5" y2="342.2" stroke="#222" stroke-width="1.1" />
<text x="97.3" y="344.7" font-size="7" text-anchor="end" fill="#2e2e2e">10<tspan font-size="4.1" dy="-2.1">2</tspan></text>
<line x1="98.1" y1="362.8" x2="101.5" y2="362.8" stroke="#222" stroke-width="1.1" />
<text x="97.3" y="365.3" font-size="7" text-anchor="end" fill="#2e2e2e">0</text>
<path d="M99.7 249.8h1.8M99.7 277.7h1.8M99.7 272.8h1.8M99.7 269.3h1.8M99.7 266.6h1.8M99.7 264.4h1.8M99.7 262.5h1.8M99.7 260.9h1.8M99.7 259.5h1.8M99.7 305.6h1.8M99.7 300.7h1.8M99.7 297.2h1.8M99.7 294.5h1.8M99.7 292.3h1.8M99.7 290.4h1.8M99.7 288.8h1.8M99.7 287.4h1.8M99.7 333.7h1.8M99.7 328.7h1.8M99.7 325.2h1.8M99.7 322.5h1.8M99.7 320.3h1.8M99.7 318.4h1.8M99.7 316.7h1.8M99.7 315.3h1.8M99.7 348h1.8M99.7 352h1.8M99.7 355.5h1.8" stroke="#444" stroke-width="0.7"/>
<rect x="98.8" y="359.5" width="2.3" height="6.5" fill="#1a1a1a"/>
<line x1="108" y1="370" x2="108" y2="373.2" stroke="#222" stroke-width="1.1" />
<text x="108" y="380.4" font-size="7" text-anchor="middle" fill="#2e2e2e">0</text>
<line x1="126.8" y1="370" x2="126.8" y2="373.2" stroke="#222" stroke-width="1.1" />
<text x="122.9" y="380.4" font-size="7" fill="#2e2e2e">10<tspan font-size="4.1" dy="-2.1">2</tspan></text>
<line x1="156.7" y1="370" x2="156.7" y2="373.2" stroke="#222" stroke-width="1.1" />
<text x="152.8" y="380.4" font-size="7" fill="#2e2e2e">10<tspan font-size="4.1" dy="-2.1">3</tspan></text>
<line x1="184.8" y1="370" x2="184.8" y2="373.2" stroke="#222" stroke-width="1.1" />
<text x="180.9" y="380.4" font-size="7" fill="#2e2e2e">10<tspan font-size="4.1" dy="-2.1">4</tspan></text>
<line x1="212.8" y1="370" x2="212.8" y2="373.2" stroke="#222" stroke-width="1.1" />
<text x="208.9" y="380.4" font-size="7" fill="#2e2e2e">10<tspan font-size="4.1" dy="-2.1">5</tspan></text>
<path d="M135.8 370v1.8M141.1 370v1.8M144.8 370v1.8M147.7 370v1.8M150.1 370v1.8M152.1 370v1.8M153.8 370v1.8M155.3 370v1.8M165.2 370v1.8M170.1 370v1.8M173.6 370v1.8M176.3 370v1.8M178.6 370v1.8M180.4 370v1.8M182.1 370v1.8M183.5 370v1.8M193.2 370v1.8M198.2 370v1.8M201.7 370v1.8M204.4 370v1.8M206.6 370v1.8M208.5 370v1.8M210.1 370v1.8M211.5 370v1.8M221.2 370v1.8M114 370v1.8M116.5 370v1.8M119 370v1.8M121.5 370v1.8M124 370v1.8" stroke="#444" stroke-width="0.7"/>
<rect x="104.5" y="370" width="7" height="2.5" fill="#1a1a1a"/>
<text x="281.2" y="238.7" font-size="12" text-anchor="start" fill="#2e2e2e" >EVs</text>
<line x1="229.6" y1="258.2" x2="233" y2="258.2" stroke="#222" stroke-width="1.1" />
<text x="228.8" y="260.7" font-size="7" text-anchor="end" fill="#2e2e2e"></text>
<line x1="229.6" y1="286.1" x2="233" y2="286.1" stroke="#222" stroke-width="1.1" />
<text x="228.8" y="288.6" font-size="7" text-anchor="end" fill="#2e2e2e"></text>
<line x1="229.6" y1="314" x2="233" y2="314" stroke="#222" stroke-width="1.1" />
<text x="228.8" y="316.5" font-size="7" text-anchor="end" fill="#2e2e2e"></text>
<line x1="229.6" y1="342.2" x2="233" y2="342.2" stroke="#222" stroke-width="1.1" />
<text x="228.8" y="344.7" font-size="7" text-anchor="end" fill="#2e2e2e"></text>
<line x1="229.6" y1="362.8" x2="233" y2="362.8" stroke="#222" stroke-width="1.1" />
<text x="228.8" y="365.3" font-size="7" text-anchor="end" fill="#2e2e2e"></text>
<path d="M231.2 249.8h1.8M231.2 277.7h1.8M231.2 272.8h1.8M231.2 269.3h1.8M231.2 266.6h1.8M231.2 264.4h1.8M231.2 262.5h1.8M231.2 260.9h1.8M231.2 259.5h1.8M231.2 305.6h1.8M231.2 300.7h1.8M231.2 297.2h1.8M231.2 294.5h1.8M231.2 292.3h1.8M231.2 290.4h1.8M231.2 288.8h1.8M231.2 287.4h1.8M231.2 333.7h1.8M231.2 328.7h1.8M231.2 325.2h1.8M231.2 322.5h1.8M231.2 320.3h1.8M231.2 318.4h1.8M231.2 316.7h1.8M231.2 315.3h1.8M231.2 348h1.8M231.2 352h1.8M231.2 355.5h1.8" stroke="#444" stroke-width="0.7"/>
<rect x="230.3" y="359.5" width="2.3" height="6.5" fill="#1a1a1a"/>
<line x1="239.5" y1="370" x2="239.5" y2="373.2" stroke="#222" stroke-width="1.1" />
<text x="239.5" y="380.4" font-size="7" text-anchor="middle" fill="#2e2e2e">0</text>
<line x1="258.3" y1="370" x2="258.3" y2="373.2" stroke="#222" stroke-width="1.1" />
<text x="254.4" y="380.4" font-size="7" fill="#2e2e2e">10<tspan font-size="4.1" dy="-2.1">2</tspan></text>
<line x1="288.2" y1="370" x2="288.2" y2="373.2" stroke="#222" stroke-width="1.1" />
<text x="284.3" y="380.4" font-size="7" fill="#2e2e2e">10<tspan font-size="4.1" dy="-2.1">3</tspan></text>
<line x1="316.3" y1="370" x2="316.3" y2="373.2" stroke="#222" stroke-width="1.1" />
<text x="312.4" y="380.4" font-size="7" fill="#2e2e2e">10<tspan font-size="4.1" dy="-2.1">4</tspan></text>
<line x1="344.3" y1="370" x2="344.3" y2="373.2" stroke="#222" stroke-width="1.1" />
<text x="340.4" y="380.4" font-size="7" fill="#2e2e2e">10<tspan font-size="4.1" dy="-2.1">5</tspan></text>
<path d="M267.3 370v1.8M272.6 370v1.8M276.3 370v1.8M279.2 370v1.8M281.6 370v1.8M283.6 370v1.8M285.3 370v1.8M286.8 370v1.8M296.7 370v1.8M301.6 370v1.8M305.1 370v1.8M307.8 370v1.8M310.1 370v1.8M311.9 370v1.8M313.6 370v1.8M315 370v1.8M324.7 370v1.8M329.7 370v1.8M333.2 370v1.8M335.9 370v1.8M338.1 370v1.8M340 370v1.8M341.6 370v1.8M343 370v1.8M352.7 370v1.8M245.5 370v1.8M248 370v1.8M250.5 370v1.8M253 370v1.8M255.5 370v1.8" stroke="#444" stroke-width="0.7"/>
<rect x="236" y="370" width="7" height="2.5" fill="#1a1a1a"/>
<text x="401.2" y="238.7" font-size="12" text-anchor="start" fill="#2e2e2e" >iGFP HIV</text>
<line x1="364.2" y1="258.2" x2="367.6" y2="258.2" stroke="#222" stroke-width="1.1" />
<text x="363.4" y="260.7" font-size="7" text-anchor="end" fill="#2e2e2e"></text>
<line x1="364.2" y1="286.1" x2="367.6" y2="286.1" stroke="#222" stroke-width="1.1" />
<text x="363.4" y="288.6" font-size="7" text-anchor="end" fill="#2e2e2e"></text>
<line x1="364.2" y1="314" x2="367.6" y2="314" stroke="#222" stroke-width="1.1" />
<text x="363.4" y="316.5" font-size="7" text-anchor="end" fill="#2e2e2e"></text>
<line x1="364.2" y1="342.2" x2="367.6" y2="342.2" stroke="#222" stroke-width="1.1" />
<text x="363.4" y="344.7" font-size="7" text-anchor="end" fill="#2e2e2e"></text>
<line x1="364.2" y1="362.8" x2="367.6" y2="362.8" stroke="#222" stroke-width="1.1" />
<text x="363.4" y="365.3" font-size="7" text-anchor="end" fill="#2e2e2e"></text>
<path d="M365.8 249.8h1.8M365.8 277.7h1.8M365.8 272.8h1.8M365.8 269.3h1.8M365.8 266.6h1.8M365.8 264.4h1.8M365.8 262.5h1.8M365.8 260.9h1.8M365.8 259.5h1.8M365.8 305.6h1.8M365.8 300.7h1.8M365.8 297.2h1.8M365.8 294.5h1.8M365.8 292.3h1.8M365.8 290.4h1.8M365.8 288.8h1.8M365.8 287.4h1.8M365.8 333.7h1.8M365.8 328.7h1.8M365.8 325.2h1.8M365.8 322.5h1.8M365.8 320.3h1.8M365.8 318.4h1.8M365.8 316.7h1.8M365.8 315.3h1.8M365.8 348h1.8M365.8 352h1.8M365.8 355.5h1.8" stroke="#444" stroke-width="0.7"/>
<rect x="364.9" y="359.5" width="2.3" height="6.5" fill="#1a1a1a"/>
<line x1="374.1" y1="370" x2="374.1" y2="373.2" stroke="#222" stroke-width="1.1" />
<text x="374.1" y="380.4" font-size="7" text-anchor="middle" fill="#2e2e2e">0</text>
<line x1="392.9" y1="370" x2="392.9" y2="373.2" stroke="#222" stroke-width="1.1" />
<text x="389" y="380.4" font-size="7" fill="#2e2e2e">10<tspan font-size="4.1" dy="-2.1">2</tspan></text>
<line x1="422.8" y1="370" x2="422.8" y2="373.2" stroke="#222" stroke-width="1.1" />
<text x="418.9" y="380.4" font-size="7" fill="#2e2e2e">10<tspan font-size="4.1" dy="-2.1">3</tspan></text>
<line x1="450.9" y1="370" x2="450.9" y2="373.2" stroke="#222" stroke-width="1.1" />
<text x="447" y="380.4" font-size="7" fill="#2e2e2e">10<tspan font-size="4.1" dy="-2.1">4</tspan></text>
<line x1="478.9" y1="370" x2="478.9" y2="373.2" stroke="#222" stroke-width="1.1" />
<text x="475" y="380.4" font-size="7" fill="#2e2e2e">10<tspan font-size="4.1" dy="-2.1">5</tspan></text>
<path d="M401.9 370v1.8M407.2 370v1.8M410.9 370v1.8M413.8 370v1.8M416.2 370v1.8M418.2 370v1.8M419.9 370v1.8M421.4 370v1.8M431.3 370v1.8M436.2 370v1.8M439.7 370v1.8M442.4 370v1.8M444.7 370v1.8M446.5 370v1.8M448.2 370v1.8M449.6 370v1.8M459.3 370v1.8M464.3 370v1.8M467.8 370v1.8M470.5 370v1.8M472.7 370v1.8M474.6 370v1.8M476.2 370v1.8M477.6 370v1.8M487.3 370v1.8M380.1 370v1.8M382.6 370v1.8M385.1 370v1.8M387.6 370v1.8M390.1 370v1.8" stroke="#444" stroke-width="0.7"/>
<rect x="370.6" y="370" width="7" height="2.5" fill="#1a1a1a"/>
<path d="M389.1 307.4h0.9M383 317h0.9M398 313.1h0.9M379.9 319.4h0.9M390.8 325.2h0.9M416.9 286.8h0.9M384 313.5h0.9M391.8 306.9h0.9M385.9 306.7h0.9M401.4 286.3h0.9M386.3 328.4h0.9M413.1 300.4h0.9M396.5 297.9h0.9M389.6 311.3h0.9M390.8 327.7h0.9M382 317.5h0.9M390.2 316.9h0.9M382.7 326.9h0.9M392.5 310.5h0.9M385.7 318.1h0.9M396.5 304.7h0.9M381.2 325.5h0.9M375.3 318.2h0.9M388.4 317.2h0.9M388.7 318.1h0.9M379 315.7h0.9M385.9 323.2h0.9M376.9 321.7h0.9M382.1 305.7h0.9M380.6 325.9h0.9M398.4 311.6h0.9M385.4 316.2h0.9M404.9 281.8h0.9M382.3 321.9h0.9M404.3 309.1h0.9M385.5 319.4h0.9M378.9 314.3h0.9M382.7 326.6h0.9M385.5 318.1h0.9M379.3 325.1h0.9M390.6 314.9h0.9M395.9 314h0.9M402.8 300.1h0.9M385.4 311.2h0.9M381.5 323.2h0.9M392.8 313.2h0.9M397.9 317.6h0.9M395.4 296.3h0.9M392.7 310.8h0.9M379 319.5h0.9M389.4 318h0.9M379.4 321.9h0.9M372.9 306.6h0.9M391.4 321.8h0.9M385.5 313.9h0.9M389.9 304.4h0.9M382.1 309.9h0.9M382 314.2h0.9M377.5 317.7h0.9M397.3 305.6h0.9M388.8 317.5h0.9M380 325h0.9M399.4 308.5h0.9M390.4 306.5h0.9M397.5 312.8h0.9M392.8 310.9h0.9M393.5 315.4h0.9M407.2 303.1h0.9M387.4 314.4h0.9M399.7 316.4h0.9M394.1 317.9h0.9M383.2 318.7h0.9M396.2 324h0.9M389.7 329h0.9M381.6 310.3h0.9M387.6 294.7h0.9M387.3 312.2h0.9M397 311.9h0.9M390.6 322.5h0.9M399 311.9h0.9M384.8 320.5h0.9M402.5 311.3h0.9M391.6 319.6h0.9M395.5 304.7h0.9M385.2 321.7h0.9M400.9 313.7h0.9M388.7 310.4h0.9M410 286.1h0.9M386.7 310.9h0.9M408.4 310.4h0.9M397.8 313.1h0.9M389.6 322.8h0.9M379.8 323h0.9M399.5 304.6h0.9M389.6 325.7h0.9M400.9 300.4h0.9M388.9 326.1h0.9M389.3 315.6h0.9M397.4 306.9h0.9M388.9 321h0.9M405.1 307.8h0.9M406.6 314.9h0.9M389.3 312.6h0.9M389.8 329.2h0.9M391.8 305.8h0.9M380.4 318.2h0.9M403.2 309.5h0.9M399.9 318.5h0.9M376.4 320.1h0.9M388.1 314.3h0.9M391.2 311.5h0.9M382.1 309.7h0.9M401.7 303.4h0.9M399.7 307.7h0.9M380.8 320.9h0.9M403.4 289.3h0.9M388.1 318.4h0.9M396.6 313.8h0.9M392.1 298.6h0.9M392 312h0.9M388.9 321.2h0.9M377.6 302.9h0.9M393.1 314.8h0.9M387.7 331.3h0.9M380.8 313.9h0.9M402.2 314.9h0.9M380.1 323.4h0.9M388.1 322.4h0.9M383.3 321h0.9M378.8 317.7h0.9M380.9 309.7h0.9M431 300.5h0.9M392.2 299.3h0.9M404.4 296.8h0.9M402.6 315.6h0.9M413.5 293.6h0.9M397.8 308.5h0.9M388.9 295.9h0.9M394.8 303.8h0.9M396.3 294.3h0.9M374.8 316.9h0.9M391.1 317.3h0.9M399.8 312.8h0.9M379.4 320.2h0.9M387.4 312.1h0.9M400.8 308h0.9M401.9 311.3h0.9M379.8 317.3h0.9M395.3 320.1h0.9M392.7 320.6h0.9M387.8 317.6h0.9M380.5 315.9h0.9M382.9 327.3h0.9M390.1 321.1h0.9M392.6 327.3h0.9M398.5 299.9h0.9M394.7 324.1h0.9M385.5 316.9h0.9M405.1 304.6h0.9M385.9 318.6h0.9M411.7 293h0.9M415.9 304h0.9M400.4 296.8h0.9M394.4 318.1h0.9M388.5 314.4h0.9M391 313.8h0.9M391.3 306.9h0.9M403.1 303.3h0.9M381.2 306.4h0.9M384 319.4h0.9M392.7 321.3h0.9M392.6 320h0.9M389.9 299h0.9M376.7 320.4h0.9M394.6 306.2h0.9M404 318.4h0.9M394.7 306h0.9M387.4 317.9h0.9M390.2 312.7h0.9M406.2 301.3h0.9M393.6 302.3h0.9M389.5 318.1h0.9M391.6 317.8h0.9M392.6 321.7h0.9M393.9 302.2h0.9M404.9 308.6h0.9M420.4 304.8h0.9M403.4 309h0.9M395.9 315.4h0.9M375.6 309.6h0.9M415.8 302.9h0.9M389.8 331.1h0.9M392.9 323h0.9M387.1 322.7h0.9M393.7 318.9h0.9M405.9 326.4h0.9M404 292.3h0.9M392.8 308.4h0.9M388.3 326.3h0.9M386.7 321h0.9M401.2 277.3h0.9M392.1 315.1h0.9M389.1 319.3h0.9M392.7 303h0.9M396.6 311.9h0.9M401.3 305.8h0.9M377.7 313h0.9M392.5 317.4h0.9M404.1 320.9h0.9M402.7 318.7h0.9M377.9 318.8h0.9M388.9 303.5h0.9M390.9 314.9h0.9M407.2 300h0.9M385.9 307.1h0.9M381.2 318.4h0.9M400.4 317.3h0.9M393.8 313.6h0.9M389.2 325h0.9M398.6 305.8h0.9M384.7 329.1h0.9M380.1 321.5h0.9M388 312.7h0.9M378.1 320.2h0.9M395.8 287.6h0.9M391.3 310.1h0.9M379.2 315.1h0.9M387.9 313.2h0.9M386.1 320.7h0.9M402.5 303.8h0.9M387.4 321.5h0.9M385.4 316.6h0.9M380.8 324.6h0.9M392.2 323.2h0.9M400.3 302.6h0.9M382.9 323h0.9M375.2 309.7h0.9M407.5 283.2h0.9M391.5 323.3h0.9M406.9 286.9h0.9M384.1 311.7h0.9M399.8 314.2h0.9M377.9 317.9h0.9M389 324.8h0.9M384.1 320.6h0.9M399.8 297.9h0.9M392.6 290.1h0.9M394.1 322.7h0.9M376.1 314.6h0.9M379.1 316.4h0.9M402.3 310.1h0.9M393.5 298.4h0.9M409.1 300.5h0.9M388.1 316.8h0.9M388.2 314.6h0.9M380.7 316h0.9M392.1 306.3h0.9M404.4 302.7h0.9M390.8 304.6h0.9M383.6 327.1h0.9M388.5 318.9h0.9M394.9 315.1h0.9M385.3 322.1h0.9M404.5 305.6h0.9M386.2 322.5h0.9M403.7 309h0.9M406.8 301.4h0.9M387.8 320.3h0.9M395.6 299.5h0.9M376.1 315.5h0.9M394.3 311.1h0.9M403.3 310.7h0.9M383.1 314.2h0.9M392.5 295.7h0.9M397.6 301.2h0.9M383.7 324.8h0.9M388.5 324.1h0.9M394.1 307.5h0.9M383.6 311.2h0.9M398.9 305h0.9M406.4 304.9h0.9M385.9 319h0.9M387.7 326.1h0.9M393.8 306.1h0.9M412.3 301.1h0.9M398.8 321.1h0.9M386.8 309.2h0.9M380.5 317.8h0.9M410.3 300.7h0.9M413.5 321.8h0.9M402.1 307.4h0.9M392 312.8h0.9M401.5 315.8h0.9M390.6 313.4h0.9M378.4 313.5h0.9M376.9 321.4h0.9M414 304.6h0.9M385.9 303.1h0.9M380.3 313h0.9M395.9 316.6h0.9M385.2 321.5h0.9M386.2 329.1h0.9M379.5 317.3h0.9M380.3 319.3h0.9M396.2 305h0.9M376.4 319.6h0.9M391.5 311.3h0.9M397 305.9h0.9M398.9 314.1h0.9M382.9 322h0.9M387.4 314.2h0.9M400.2 309.2h0.9M396.2 318.9h0.9M385.6 328.3h0.9M383.7 324.2h0.9M385.8 316.3h0.9M404.6 294.1h0.9M389.6 302.5h0.9M405.8 299h0.9M405.5 298.2h0.9M389.5 329.4h0.9M393 314h0.9M399.8 312.1h0.9M398.7 318.3h0.9M376.4 313.7h0.9M387.6 311.6h0.9M398.2 303.9h0.9M395.1 310.9h0.9M382.6 312.8h0.9M388.5 324.1h0.9M391.6 321.6h0.9M388.1 321.6h0.9M416.8 294.7h0.9M377.9 318.9h0.9M388.9 326h0.9M396.1 302.2h0.9M387.6 298.7h0.9M387.8 318.6h0.9M398.2 310.6h0.9M379.4 320.8h0.9M387 301.9h0.9M377.5 318.9h0.9M386.6 317.4h0.9M387.2 326.7h0.9M399.6 314.7h0.9M388.1 315.5h0.9M393.6 320.9h0.9M399.6 303.1h0.9M386.4 308.2h0.9M383.9 326.9h0.9M384.1 326.1h0.9M380.4 317.5h0.9M398 290.8h0.9M387.7 308.2h0.9M390.4 324.9h0.9M385.3 317.4h0.9M402.3 327.8h0.9M379.2 321.3h0.9M384.7 325.9h0.9M385.1 323.1h0.9M387.3 316h0.9M413.4 299.7h0.9M388.8 308.2h0.9M393.1 311.3h0.9M378.3 317.7h0.9M376.1 311h0.9M382.7 323.5h0.9M397.5 294.6h0.9M381.9 312.1h0.9M384.7 325.6h0.9M397.8 305.1h0.9M384.6 324.2h0.9M402.8 318.3h0.9M383.6 323.5h0.9M384.8 324.5h0.9M383.6 311.1h0.9M391 321.6h0.9M401.8 311.2h0.9M388.2 306.9h0.9M395.6 315.4h0.9M393.5 314.5h0.9M385.9 317.6h0.9M386.2 320h0.9M411.3 317.4h0.9M379.2 321.3h0.9M389.9 312.1h0.9M386.2 320.1h0.9M396.6 306.3h0.9M388 298.8h0.9M392.5 318.5h0.9M408.8 305.1h0.9M417.6 305.4h0.9M382.6 318.2h0.9M378.5 316.7h0.9M383 328h0.9M384.4 311.7h0.9M381.2 324.5h0.9M380.9 321.5h0.9M384 323.2h0.9M398.3 301.6h0.9M390.9 320.5h0.9M378.9 319.3h0.9M404.9 322.3h0.9M391.3 320.8h0.9M384.9 314.9h0.9M384.6 312.1h0.9M387.3 316.3h0.9M406.9 291.6h0.9M387.9 309.5h0.9M404.5 313.9h0.9M387.3 326.3h0.9M376.5 320.8h0.9M396.1 314.1h0.9M381.6 324.2h0.9M386.6 325.3h0.9M379.5 321h0.9M406 319.2h0.9M381 325.4h0.9M415.2 310.2h0.9M389.3 311.5h0.9M395.3 321.9h0.9M385.2 319.4h0.9M408.5 312.9h0.9M397.4 305.5h0.9M385.4 310.2h0.9M383.6 312.3h0.9M383.2 316.9h0.9M399.8 310.8h0.9M389.9 318.7h0.9M389.2 317.1h0.9M414.1 301.7h0.9M397.5 322.4h0.9M390.8 304.4h0.9M388.8 325.1h0.9M396.8 328.4h0.9M379.5 321.3h0.9M402.1 296.1h0.9M391 317.9h0.9M387.5 320h0.9M384.1 316.8h0.9M411.9 291h0.9M405.4 315.1h0.9M400.6 313.1h0.9M384.3 314h0.9M385.1 303.9h0.9M389.9 304.3h0.9M387.5 319.5h0.9M378.6 321h0.9M381.8 316.6h0.9M417.8 294.3h0.9M380.9 322.7h0.9M385.1 317.1h0.9M385.6 321.8h0.9M387.8 329.6h0.9M387.8 320.3h0.9M399.9 311.7h0.9M393.2 312.7h0.9M390.6 327.9h0.9M379.6 315.8h0.9M385.3 309.8h0.9M394.5 305.3h0.9M396.6 326.4h0.9M397.5 321.7h0.9M394.3 299.1h0.9M383.3 318.5h0.9M396 314.2h0.9M391.3 314.5h0.9M399 314.4h0.9M396.4 303.4h0.9M390.5 297.7h0.9M384.2 326.6h0.9M396.9 319.7h0.9M380.5 311.7h0.9M378.3 311.2h0.9M388 313.3h0.9M385.8 323.5h0.9M392.4 300.9h0.9M388.8 323.1h0.9M388.9 313.3h0.9M395.6 310.7h0.9M406.5 304.9h0.9M390.6 312.8h0.9M382.1 314.8h0.9M396.6 317h0.9M378.3 315.1h0.9M412.6 306.8h0.9M387.2 312.7h0.9M393.2 306.6h0.9M397 311.8h0.9M392.9 316.1h0.9M393.4 316.4h0.9M380.7 312.1h0.9M380.2 318.2h0.9M387.2 321.3h0.9M387.5 321.3h0.9M385.8 319h0.9M386.1 330h0.9M380.9 323.6h0.9M385.6 327.8h0.9M391.5 323.4h0.9M395.3 313.1h0.9M391.7 311.7h0.9M389.9 322h0.9M390.5 318.9h0.9M403.6 307.4h0.9M392.1 304.5h0.9M391.7 317.8h0.9M390.1 328.7h0.9M379.7 324.1h0.9M399.6 306.6h0.9M389.8 313.3h0.9M405.4 308.3h0.9M379.2 308.2h0.9M406 314.6h0.9M390.1 319.9h0.9M385.6 318.1h0.9M392.1 315.8h0.9M388.2 326.8h0.9M393.1 315.6h0.9M396.2 315.2h0.9M391.7 324.2h0.9M396.9 309.8h0.9M394.3 317.7h0.9M396.4 322.2h0.9M390.8 319.6h0.9M394.8 304h0.9M384.6 327.5h0.9M404.1 320.2h0.9M394.9 307h0.9M385.4 324.2h0.9M395.6 313.6h0.9M391.6 321.7h0.9M385.2 316.9h0.9M393.9 311.1h0.9M401.5 321.8h0.9M405.8 306h0.9M396.5 302.1h0.9M395.9 316.6h0.9M388.3 317.8h0.9M398.1 321.2h0.9M388.4 301.1h0.9M384.4 322.3h0.9M403.2 311.4h0.9M391.2 301.4h0.9M381.4 318.3h0.9M385.9 323.9h0.9M384.9 321.2h0.9M398.5 303.3h0.9M385 323.4h0.9M383.4 309.8h0.9M384.3 314h0.9M395.2 325.4h0.9M389 310.5h0.9M386.2 323.3h0.9M386.2 319.1h0.9M398.9 314.4h0.9M391.9 316.5h0.9M387.6 321.6h0.9M397.3 318.7h0.9M405.8 302.2h0.9M402.4 282.2h0.9M386.2 313.5h0.9M407.8 311.4h0.9M387.3 327.1h0.9M380.1 324.2h0.9M395.9 291.9h0.9M384.9 314.6h0.9M426 302.2h0.9M389.3 326.4h0.9M390.2 325.8h0.9M395.3 292.4h0.9M379.5 315h0.9M389.6 310.4h0.9M384.5 308.9h0.9M389.5 317.1h0.9M380.4 316.3h0.9M384.3 325.4h0.9M400.6 301.9h0.9M383.4 317.7h0.9M403.2 308.2h0.9M388.2 321.3h0.9M390 316.6h0.9M384.4 318.3h0.9M391 313.9h0.9M375.1 315.4h0.9M389 296.5h0.9M381.8 318.5h0.9M385.3 321.7h0.9M394 326.5h0.9M393.7 315.2h0.9M386 310.6h0.9M393.6 306.8h0.9M395.8 295.9h0.9M389.5 315.6h0.9M391.9 312.5h0.9M382.2 323.5h0.9M385.3 322.7h0.9M390 324.4h0.9M391.7 319.7h0.9M396.6 296.2h0.9M394.2 318.7h0.9M379.4 318.3h0.9M390.2 318.7h0.9M428.7 275.6h0.9M390.8 328.7h0.9M383.4 321.6h0.9M397.6 306.4h0.9M381.8 321.9h0.9M402.1 311.3h0.9M407.4 300.4h0.9M391.5 311.3h0.9M405.3 307.9h0.9M389.2 333.2h0.9M397.4 322.5h0.9M387.3 330.5h0.9M394 306h0.9M390.1 314.5h0.9M407.1 299.1h0.9M400.2 285h0.9M422.7 301h0.9M400.4 288.2h0.9M398.3 310.7h0.9M388.8 304.8h0.9M389.8 316.9h0.9M391.4 321.3h0.9M417.7 292.4h0.9M410.8 282.9h0.9M383.5 316.9h0.9M415.4 299.2h0.9M384.8 320.5h0.9M421.1 283.9h0.9M404 310.2h0.9M396.8 279.1h0.9M405 302.4h0.9M401 316h0.9M405.8 316.4h0.9M391.6 320h0.9M381.1 318.8h0.9M396.7 317.5h0.9M410.7 313h0.9M393.1 306h0.9M397.2 300.4h0.9M396.3 307.3h0.9M386 316.2h0.9M375.1 314.4h0.9M378.5 306.5h0.9M377.2 318.5h0.9M389.5 310.2h0.9M392.9 316.5h0.9M398.5 301h0.9M392.2 314.8h0.9M394.4 323h0.9M410.8 322.8h0.9M401.5 312h0.9M387.9 308.7h0.9M390.9 323.2h0.9M406.4 298.1h0.9M398.2 310.2h0.9M392.4 321.5h0.9M386.7 325.5h0.9M395.2 296.3h0.9M376 321.4h0.9M390.8 317.1h0.9M405.8 306.1h0.9M405.9 319.2h0.9M396.2 314.6h0.9M391.9 310.1h0.9M393.9 306.6h0.9M405 291.6h0.9M382.3 312.3h0.9M384.9 309h0.9M401.1 297.8h0.9M398.7 307.2h0.9M387.6 311h0.9M388.2 317.5h0.9M388.8 314.2h0.9M394.5 308.5h0.9M387.8 313.9h0.9M390.7 317.3h0.9M385.7 320.3h0.9M382.2 298.3h0.9M394.9 312.8h0.9M384.3 322.4h0.9M393.1 306.2h0.9M390.3 316.7h0.9M397.2 300.7h0.9M411.9 293.6h0.9M385.4 312.5h0.9M391.1 320.3h0.9M391.5 317h0.9M394.5 295.4h0.9M380.2 320.2h0.9M394.4 317.2h0.9M410.7 298h0.9M400.5 305.7h0.9M411 279.1h0.9M393.6 304.9h0.9M399.1 307.4h0.9M381.9 326.4h0.9M400.7 303.9h0.9M394.2 302.7h0.9M388.5 315h0.9M380.9 321.1h0.9M386.1 308.8h0.9M386.3 309.3h0.9M382.3 316.7h0.9M384.1 307.9h0.9M390.7 318.8h0.9M399.4 312.9h0.9M389.8 323.3h0.9M394.3 303h0.9M389.9 308.4h0.9M400.4 306.8h0.9M383.3 318.6h0.9M395.1 306.9h0.9M396.8 305h0.9M388.1 301.7h0.9M394.7 321.7h0.9M378.7 315.3h0.9M375.4 318.3h0.9M394.3 318.1h0.9M379.6 317.3h0.9M392.1 322.5h0.9M389.2 319.3h0.9M396.1 312.3h0.9M381.4 321.4h0.9M391.6 299.4h0.9M380.4 315.5h0.9M387.3 319.2h0.9M394.8 309.2h0.9M385.2 309.5h0.9M376.5 320.6h0.9M378.1 321.1h0.9M391.8 312.9h0.9M396.1 313h0.9M410.1 303.7h0.9M391.1 310.7h0.9M408.3 310.6h0.9M409.5 302.3h0.9M398.9 319.5h0.9M389.1 308.1h0.9M391.1 319.3h0.9M394.4 320.4h0.9M385.5 303.3h0.9M395 318.4h0.9M391 317.9h0.9M394.9 318.5h0.9M389.6 317.3h0.9M399.3 316.3h0.9M395 305.9h0.9M384.4 316.9h0.9M396.6 315.1h0.9M391.5 320.1h0.9M379.6 315.1h0.9M389.5 325.9h0.9M412 304.6h0.9M393.5 320.7h0.9M378.6 321.7h0.9M395.2 321h0.9M384.3 325.6h0.9M383.8 329.2h0.9M406.5 297.2h0.9M394.6 306.2h0.9M384.4 315.2h0.9M382.4 318.3h0.9M392.4 320.7h0.9M401.4 294.9h0.9M385.4 314.9h0.9M385.1 323.3h0.9M393.4 309.2h0.9M381.7 305.5h0.9M392.5 306.3h0.9M413 286.5h0.9M400.2 319.5h0.9M397.7 313.5h0.9M383 314.1h0.9M376.5 321.1h0.9M390.3 310.8h0.9M392 315.3h0.9M389.5 308.6h0.9M388.3 320.9h0.9M385 307.8h0.9M408.1 299.6h0.9M393.8 321.7h0.9M385.2 320.3h0.9M386.4 321.4h0.9M408.8 300.2h0.9M389.3 317h0.9M384.1 321h0.9M409.3 297.9h0.9M400.2 305.6h0.9M410.3 294.7h0.9M400.5 318.9h0.9M396.5 317.8h0.9M405.2 308.6h0.9M379.8 321.1h0.9M401.1 298.4h0.9M410.3 305h0.9M391.8 303.2h0.9M394.3 319.9h0.9M394 297.3h0.9M423.1 304.4h0.9M396.3 319.8h0.9M386.2 314.5h0.9M379.7 322.6h0.9M379.9 308.1h0.9M390.4 314.4h0.9M398 317.8h0.9M390.3 320.3h0.9M391.7 311.1h0.9M390.9 330.9h0.9M386.8 323.4h0.9M386.9 322.1h0.9M388.1 314.7h0.9M383.3 327.1h0.9M399.6 328h0.9M396.4 312.8h0.9M379.3 312.5h0.9M383.5 324h0.9M402.8 319.6h0.9M391.2 324.2h0.9M382.6 319h0.9M391.4 317h0.9M392.7 297.4h0.9M392.1 318.8h0.9M393.8 302.5h0.9M390.3 310.1h0.9M393.4 306.2h0.9M402 294.7h0.9M403.2 317.5h0.9M398.3 320h0.9M410.7 289.9h0.9M401.6 303.9h0.9M398 321.9h0.9M389.5 313.3h0.9M389.6 311.7h0.9M395.7 300.6h0.9M400.9 318.4h0.9M391.6 315.1h0.9M388.9 316.6h0.9M391.9 309.3h0.9M382.7 315.4h0.9M405.4 308.7h0.9M380.8 318.8h0.9M392.4 307.8h0.9M389.9 298.8h0.9M392.9 301.2h0.9M405 293.6h0.9M395.3 304.8h0.9M388.3 302.5h0.9M399.5 298.7h0.9M410.6 291.8h0.9M402.7 269.3h0.9M394 316.3h0.9M382.3 321.2h0.9M375.7 319.9h0.9M390.1 312.7h0.9M390.9 318.2h0.9M413.9 289.7h0.9M390.7 314.9h0.9M397.1 307.7h0.9M404.6 306.4h0.9M380.9 313.3h0.9M380.8 320.3h0.9M393.2 315.3h0.9M397.7 307.3h0.9M381.9 314.8h0.9M395.1 307.1h0.9M393.6 304.5h0.9M381.7 324.3h0.9M376.3 316.3h0.9M377.5 315.1h0.9M388.1 303.4h0.9M387.8 316.3h0.9M416.8 312.7h0.9M390.9 322.6h0.9M392.2 323.3h0.9M385.2 320.4h0.9M411.2 309.2h0.9M391.9 316.4h0.9M386.7 319.3h0.9M407.4 307.8h0.9M381.3 314.1h0.9M394.7 286.2h0.9M379.8 316.2h0.9M402.6 315.3h0.9M406.4 307h0.9M393.2 313.5h0.9M382.6 321.1h0.9M383.8 320.4h0.9M401.7 306.6h0.9M389.9 307h0.9M384 327.7h0.9M381.6 315.9h0.9M394.4 322.3h0.9M398.9 302.2h0.9M381.8 316.1h0.9M393.5 308.6h0.9M384.4 312.9h0.9M404.2 298.5h0.9M384.8 303.8h0.9M396 303.8h0.9M397 308.4h0.9M392.5 315.9h0.9M385.4 316.7h0.9M396.9 318.8h0.9M399.1 286.5h0.9M395.1 307.6h0.9M387.6 313.3h0.9M382.6 323h0.9M394.2 308h0.9M398.4 318.9h0.9M400.1 304.2h0.9M396.8 298.2h0.9M392.3 332.8h0.9M392.4 312.9h0.9M380.5 323.9h0.9M385.7 326.8h0.9M393.4 305.6h0.9M391.2 311.7h0.9M396.1 316.6h0.9M377.9 318.3h0.9M389.1 312h0.9M426.1 288.4h0.9M407.1 314.7h0.9M383.2 321.7h0.9M392.2 311.8h0.9M389.7 324.7h0.9M391.9 298.1h0.9M388.5 310.3h0.9M382.8 315.9h0.9M389.7 294.3h0.9M375.5 305h0.9M397.3 303.1h0.9M404.5 308.9h0.9M388.4 322.5h0.9M398.4 317.9h0.9M375.8 306.3h0.9M397.3 305.8h0.9M397.5 319.4h0.9M388.6 308.5h0.9M390.5 301.7h0.9M387.7 320.5h0.9M398.4 306.2h0.9M387 323.7h0.9M399.6 304.8h0.9M391.2 324.4h0.9M388.5 322.6h0.9M389 318.4h0.9M388.9 312.8h0.9M386.5 324.7h0.9M387.9 311.2h0.9M389.2 324.1h0.9M396.2 319h0.9M403.1 310.6h0.9M376.3 319.6h0.9M404 304.7h0.9M395.8 312.5h0.9M401 311.9h0.9M397.3 290.3h0.9M386.4 313.7h0.9M393.9 310.3h0.9M387.4 329.2h0.9M396.1 302.6h0.9M387.3 325.4h0.9M391 315.4h0.9M416.9 307.6h0.9M404.4 303.2h0.9M378.4 313.9h0.9M381 322.5h0.9M389.2 318.3h0.9M391 325h0.9M394.3 316.6h0.9M388.8 313.9h0.9M396.8 294.4h0.9M398.3 306.6h0.9M386 318.4h0.9M393.5 323.2h0.9M389.4 323.7h0.9M386 306.4h0.9M382.5 301.2h0.9M385.7 316.1h0.9M387.3 320.4h0.9M376.6 321.8h0.9M384.9 316.1h0.9M392.7 322.7h0.9M396.9 314.8h0.9M383.7 305.9h0.9M389.2 319.1h0.9M393.5 312.9h0.9M383.2 320.8h0.9M386.2 324h0.9M398.2 312.1h0.9M396.9 329.3h0.9M417.6 288.6h0.9M379.3 320.7h0.9M388.9 311.8h0.9M397.8 313.8h0.9M416.7 307.9h0.9M386.5 324.1h0.9M388.9 321h0.9M418.8 287.7h0.9M408.7 290.1h0.9M389.1 316.8h0.9M378.6 317.3h0.9M399.7 312.2h0.9M384.5 325h0.9M399.5 307h0.9M379.4 319.5h0.9M393 309.6h0.9M386.9 313.4h0.9M391.1 316.9h0.9M401.1 300.4h0.9M389.5 319h0.9M387.1 326.1h0.9M421.8 296.5h0.9M376.7 321.2h0.9M384.8 317.9h0.9M383.5 312.5h0.9M400.1 316.4h0.9M396.4 299.6h0.9M395 322h0.9M378.4 323.7h0.9M407.4 307.5h0.9M385.1 315.7h0.9M403.9 298h0.9M388.7 317.7h0.9M390.2 315.9h0.9M415.9 285.8h0.9M385.9 325.2h0.9M399 317h0.9M394.8 318.1h0.9M383.6 318h0.9M378.3 311.8h0.9M396.4 309.6h0.9M377.9 302.1h0.9M400.7 310.6h0.9M396.4 314.4h0.9M375.9 320.6h0.9M409.9 300.5h0.9M384.8 315h0.9M399.5 317.2h0.9M386 312.7h0.9M378.7 320.6h0.9M381.9 318.4h0.9M403.9 303h0.9M381.5 315.4h0.9M392.2 331.5h0.9M386.5 315.7h0.9M393.5 326.6h0.9M401.3 300.3h0.9M384.6 318.3h0.9M385.2 314.1h0.9M393 304.6h0.9M389.9 319.3h0.9M408 308.6h0.9M384.3 322.2h0.9M381.9 316.3h0.9M398.1 308.8h0.9M377.7 322.2h0.9M391.5 314.9h0.9M403.4 280.2h0.9M378.9 322.1h0.9M398.3 307h0.9M386.5 315.4h0.9M386.5 316.7h0.9M388.6 329.4h0.9M391.2 322.4h0.9M410 309.9h0.9M398.9 307.9h0.9M388 319.4h0.9M399.7 321.3h0.9M389 310.6h0.9M395.5 312.6h0.9M389.6 317h0.9M386.3 321.8h0.9M394.6 315.9h0.9M382.4 324.4h0.9M415.7 297.2h0.9M395 301.4h0.9M395 314.6h0.9M385.1 311.1h0.9M390 324.4h0.9M387.9 325.7h0.9M389.9 313.5h0.9M398.2 301.3h0.9M409.4 294.3h0.9M399.2 310.8h0.9M384.2 307.5h0.9M399.7 294h0.9M389.4 323.9h0.9M383.5 320.4h0.9M382.1 312.5h0.9M385 299h0.9M392.8 307.9h0.9M382.2 307.7h0.9M394.1 312h0.9M392.9 311.3h0.9M393 327.6h0.9M384 310.3h0.9M407.4 303.4h0.9M389.3 304.3h0.9M381.9 314.9h0.9M381.6 322.4h0.9M395.7 300.3h0.9M397 323.8h0.9M397.8 306.2h0.9M390.7 307.2h0.9M393.9 330.2h0.9M397.9 298.3h0.9M383.4 318.9h0.9M383.3 320.4h0.9M384.4 314.2h0.9M392.9 317.4h0.9M395.9 319.5h0.9M383.1 310.9h0.9M408.9 289.2h0.9M399.6 300.7h0.9M385.6 306.7h0.9M398.1 292h0.9M391.8 309.5h0.9M386.7 310.2h0.9M384.6 323.3h0.9M398 314.1h0.9M384.5 322.3h0.9M396.3 310.9h0.9M383.5 313.8h0.9M399.3 298.5h0.9M384 324.5h0.9M394.9 314.9h0.9M397.7 305.8h0.9M388.3 321.3h0.9M394 308.1h0.9M378 318.2h0.9M393.7 313.8h0.9M390.4 310.4h0.9M380 310.7h0.9M389.9 322.1h0.9M382.8 325.6h0.9M398.2 313h0.9M382.5 319h0.9M427.8 292.7h0.9M393.2 315.7h0.9M401.4 312.1h0.9M403.8 292.8h0.9M386.5 315.8h0.9M396.8 319.2h0.9M385 320h0.9M394.1 310.7h0.9M410.6 308.4h0.9M395.5 319.4h0.9M396 310.6h0.9M420.6 303.6h0.9M389.6 300.8h0.9M404.4 298.7h0.9M381.5 319.5h0.9M389 328h0.9M394 324.3h0.9M392.6 307.6h0.9M386.3 320.1h0.9M395.7 317.4h0.9M385.6 323.9h0.9M390.3 316.9h0.9M391.9 321.5h0.9M427.3 298.3h0.9M392.3 313.6h0.9M386.6 308.5h0.9M385.6 318.7h0.9M393.8 310.5h0.9M400 300.4h0.9M403.9 307.2h0.9M386.7 324.5h0.9M395.4 317.4h0.9M386.4 322.8h0.9M396.3 310.7h0.9M380.8 316.3h0.9M393.2 308.3h0.9M400.9 294.1h0.9M389.3 318.5h0.9M385.8 318.5h0.9M381.3 324h0.9M396.2 313.3h0.9M385.5 317.3h0.9M393.3 320.8h0.9M403.2 311.1h0.9M380.3 317.7h0.9M429 289.6h0.9M392.2 309.4h0.9M386 312.9h0.9M382 321h0.9M384.2 310h0.9M382.6 325.6h0.9M395.3 320h0.9M379.1 314.1h0.9M389.5 319.2h0.9M399.6 310.4h0.9M383.9 326.7h0.9M390.2 320.3h0.9M403.3 305.2h0.9M382.4 319.3h0.9M397.7 315.1h0.9M405.1 302.3h0.9M385.7 325.9h0.9M403 304.3h0.9M390.2 312.4h0.9M398.7 305.2h0.9M399.4 310.7h0.9M397.1 316.9h0.9M388.1 298.4h0.9M394.4 297.4h0.9M377.5 315h0.9M398.7 300.3h0.9M388.8 310.2h0.9M382 325.2h0.9M393.5 308.3h0.9M398.8 317.8h0.9M393.2 305.6h0.9M388.6 310.1h0.9M393.5 303.2h0.9M383.9 319h0.9M389 317.4h0.9M398.3 301.2h0.9M378.4 320.1h0.9M376.1 319.2h0.9M389.1 317.5h0.9M406.6 291.1h0.9M378.9 319h0.9M385.8 317.1h0.9M390.4 317.5h0.9M399.5 323h0.9M393.3 325.1h0.9M383.7 314h0.9M391.7 308.9h0.9M378.5 310.6h0.9M375.5 314.6h0.9M387.2 300.3h0.9M385.2 327.3h0.9M386.4 317.5h0.9M394.1 295.5h0.9M403.8 292.7h0.9M387 313.7h0.9M388.4 310.6h0.9M398.7 318.9h0.9M398.7 284.1h0.9M380.1 321.8h0.9M385.1 322.2h0.9M406.9 301.8h0.9M384.7 299.9h0.9M389.2 317.4h0.9M398.4 292.5h0.9M406.9 290.3h0.9M390.6 298.5h0.9M389.5 321.9h0.9M418.7 316.3h0.9M412.1 302.1h0.9M388.3 314h0.9M376.6 315h0.9M392.9 319.4h0.9M398.4 316.9h0.9M376.7 320.6h0.9M384.4 328.2h0.9M384.9 303.8h0.9M386.9 306.5h0.9M401.2 304.4h0.9M389.9 301.5h0.9M396.2 315.2h0.9M391.6 325.1h0.9M396.8 308.2h0.9M389.7 319.4h0.9M399.9 319h0.9M400.9 308.3h0.9M387.7 327.9h0.9M387.1 329.3h0.9M400.2 292.9h0.9M399.7 324h0.9M391 323.9h0.9M395.8 310.3h0.9M398 314.2h0.9M384.1 324h0.9M389.3 317.9h0.9M390.5 305.2h0.9M387.6 314.3h0.9M388.6 313.7h0.9M391.9 322.5h0.9M386.9 322.5h0.9M416.6 291.6h0.9M382.6 322.2h0.9M400.5 315.8h0.9M376.8 308.5h0.9M393.4 302.8h0.9M399.4 314.1h0.9M386 316h0.9M401.3 309.4h0.9M398.8 320.2h0.9M392.2 319.8h0.9M399.7 288.9h0.9M380.5 323.6h0.9M389 305.5h0.9M406.7 302.3h0.9M389.1 324.7h0.9M398 304.4h0.9M393.8 315.8h0.9M402.1 300.3h0.9M400.7 321.2h0.9M388.9 317.6h0.9M382 325.6h0.9M397.9 312.2h0.9M425.8 290h0.9M391.8 319.4h0.9M396.4 308.2h0.9M395.1 310.4h0.9M408.7 300.7h0.9M388.1 322.3h0.9M391.5 310.2h0.9M393.2 306.4h0.9M388.4 314.9h0.9M390.6 318.7h0.9M384.3 317.6h0.9M389 306.4h0.9M380.2 323.1h0.9M382.6 319.2h0.9M407.2 303.3h0.9M387.8 313.1h0.9M381.4 321.3h0.9M413.5 309.8h0.9M388.3 320.9h0.9M389.4 307.4h0.9M410.9 305.6h0.9M397.4 303.9h0.9M387.4 310.8h0.9M395.3 315.6h0.9M396.1 294.3h0.9M384.4 320.8h0.9M397.5 312.6h0.9M388.4 323.2h0.9M386.5 314.5h0.9M392 308.6h0.9M387.5 317.3h0.9M399.2 316.7h0.9M375.3 316.9h0.9M388.9 323.3h0.9M393.4 314.5h0.9M403.6 314h0.9M389.4 305.6h0.9M396.8 318.4h0.9M385.8 312.3h0.9M384.9 323.2h0.9M389 313h0.9M388.1 292.9h0.9M396.5 307.9h0.9M388.7 320.1h0.9M387.6 324.9h0.9M386.2 314h0.9M388 306.8h0.9M390.9 320.5h0.9M391.6 310.4h0.9M399.8 314.7h0.9M399.8 318h0.9M406.6 295.1h0.9M384.5 319.8h0.9M388.3 310.8h0.9M377.9 311.3h0.9M391.2 314.1h0.9M408.3 303.5h0.9M393.8 320.6h0.9M387.1 318.4h0.9M394.5 326.2h0.9M386.3 314.9h0.9M401.3 303.1h0.9M382.3 319.2h0.9M385.7 316.2h0.9M387.3 315.9h0.9M391.3 307.7h0.9M395.2 305.8h0.9M410.5 296.7h0.9M387 319.6h0.9M393.8 301.1h0.9M392.9 316.9h0.9M401.3 294.8h0.9M412.5 296.6h0.9M404 301.3h0.9M376.9 313.7h0.9M381.8 315.5h0.9M405.4 308.5h0.9M380.2 320.7h0.9M393.6 305.4h0.9M390.1 311.4h0.9M385.2 321.5h0.9M393.4 317h0.9M394 308.5h0.9M401.2 319.1h0.9M381.2 320.3h0.9M407.4 291.8h0.9M405.5 297h0.9M387 320h0.9M392 325.5h0.9M402.9 323h0.9M383.9 319.1h0.9M383.7 320.8h0.9M413.2 297.8h0.9M393.5 310.6h0.9M388.8 323.9h0.9M382.1 315h0.9M408 305.2h0.9M387.9 296.3h0.9M385.3 324.7h0.9M389.1 322h0.9M390.3 334.4h0.9M382.7 315.6h0.9M414 297.7h0.9M384.7 326.3h0.9M378.6 320.2h0.9M402.3 305h0.9M398.4 297.8h0.9M380.8 315.5h0.9M389.8 301.1h0.9M397.6 305.2h0.9M384.5 312.2h0.9M380.3 307.5h0.9M402.8 304.7h0.9M392.8 294.9h0.9M402.3 309.2h0.9M391.7 315.8h0.9M388.5 309.5h0.9M385.4 305.8h0.9M395.4 300.5h0.9M401.2 288.6h0.9M391.3 310.5h0.9M385.1 317.5h0.9M432 300.4h0.9M376.8 311.9h0.9M397 302h0.9M397.3 312.9h0.9M393.9 320.3h0.9M387.8 328.4h0.9M400.3 293.9h0.9M404.7 307.9h0.9M378.2 301.8h0.9M386.7 316.9h0.9M384.5 328h0.9M397.7 313.8h0.9M379.4 314.9h0.9M382.4 316.4h0.9M373.4 315.8h0.9M377.7 322.6h0.9M377.7 317.2h0.9M388.8 319h0.9M385.5 313.4h0.9M388.3 322.2h0.9M391.6 312.6h0.9M393.3 308.6h0.9M388.5 331h0.9M401.5 314.3h0.9M378.1 317.1h0.9M388.9 327.8h0.9M398.7 313.3h0.9M427.5 291.9h0.9M391.7 317.5h0.9M381.9 307.8h0.9M384.6 317.8h0.9M387.9 292.7h0.9M383.9 309.2h0.9M385.8 313.6h0.9M413.7 304h0.9M383.6 322.5h0.9M391.9 315.3h0.9M403.9 308h0.9M391.1 305.4h0.9M402.7 312.6h0.9M408.8 297.7h0.9M384.7 312.4h0.9M385.7 314.8h0.9M393.7 309h0.9M404.8 305.8h0.9M392.8 324.6h0.9M393.9 308.1h0.9M387.2 316.3h0.9M396.8 324.1h0.9M401.6 330.9h0.9M394.8 325.8h0.9M411.2 294.9h0.9M380.6 322.4h0.9M407.4 304h0.9M388.6 319.4h0.9M384.8 313.8h0.9M387.3 329.1h0.9M403.3 324.5h0.9M404.7 290.1h0.9M380.8 318.5h0.9M385 316.2h0.9M391.4 301.2h0.9M387.7 324.6h0.9M385.5 306.6h0.9M385.1 325.9h0.9M402.2 306.3h0.9M388 323.7h0.9M387.8 303.3h0.9M386.4 320.4h0.9M389.6 318.1h0.9M423.7 290.3h0.9M392.5 316.1h0.9M384 316.6h0.9M401.4 314.3h0.9M405.7 312.6h0.9M396.5 320.7h0.9M384.7 314.4h0.9M384.2 325.8h0.9M391.3 305h0.9M395.1 308.1h0.9M403.2 308.9h0.9M393.3 296.8h0.9M402.7 327h0.9M405.2 311.5h0.9M389.4 308.6h0.9M391.8 307.9h0.9M388.7 316h0.9M388.6 315.5h0.9M376.8 319.5h0.9M406.7 295.9h0.9M384.4 306.9h0.9M389.2 310.4h0.9M412.6 310.3h0.9M413.3 289.7h0.9M390.6 311h0.9M397.4 321.8h0.9M387.4 320.8h0.9M399.1 311.8h0.9M387.9 312.3h0.9M389.6 325h0.9M391.6 310.5h0.9M397.9 315.2h0.9M389.2 321.7h0.9M412.2 310.1h0.9M387.5 326.3h0.9M382 323.7h0.9M395.4 298.5h0.9M399.1 302.5h0.9M380.2 320h0.9M405 314.6h0.9M397.6 302.5h0.9M381.9 302.2h0.9M385.5 323.3h0.9M390.8 321.6h0.9M379.3 319h0.9M383.9 327.6h0.9M375.3 320.4h0.9M403.7 303.2h0.9M385.9 318.3h0.9M390.2 317.9h0.9M395.6 313.3h0.9M388.8 310.2h0.9M392.7 319.7h0.9M390.4 310h0.9M397 309.1h0.9M391.1 326.3h0.9M388.5 308.1h0.9M391.6 314.3h0.9M389 329.6h0.9M386.5 329.3h0.9M380.5 319.7h0.9M387.3 312.4h0.9M396.7 313.4h0.9M383.8 316.2h0.9M395.9 309.8h0.9M394.9 295.5h0.9M391.1 319.8h0.9M383.8 306.9h0.9M389.1 317.4h0.9M385.1 326.3h0.9M384.4 315.3h0.9M389.9 299.5h0.9M375.6 320.4h0.9M385.6 301.1h0.9M399.9 321.6h0.9M384.5 302.5h0.9M386.8 306.3h0.9M387.8 320.5h0.9M391.8 313.9h0.9M389.5 324.7h0.9M391.8 324.8h0.9M392.6 316.7h0.9M382.6 322.6h0.9M380.9 320.3h0.9M396.1 306.9h0.9M391 322.6h0.9M387.6 323.1h0.9M389.8 321h0.9M391.4 296.3h0.9M381.7 317.6h0.9M385 314.4h0.9M389.6 310.6h0.9M393.3 300.8h0.9M390.9 320.4h0.9M391.5 323.1h0.9M406 316.5h0.9M387.4 313.2h0.9M391.3 312.9h0.9M397.2 308.5h0.9M384.5 321.1h0.9M408.6 285.3h0.9M390.7 321.6h0.9M376.1 312.8h0.9M390.3 310.3h0.9M382.4 305.5h0.9M383 327.8h0.9M395.1 294.9h0.9M392.6 300.7h0.9M384.9 320.6h0.9M377.8 319.7h0.9M386.5 321.1h0.9M387.8 314h0.9M390.4 331.2h0.9M380.2 315.2h0.9M395.6 300.8h0.9M395.4 315h0.9M389.3 317.1h0.9M393.8 315.5h0.9M395.4 306.6h0.9M390.5 323.2h0.9M388.1 320.3h0.9M408.9 309.3h0.9M388.5 303.4h0.9M381.9 326h0.9M415.4 285.4h0.9M389 319.9h0.9M393.1 302.4h0.9M414.8 298.3h0.9M398.9 290.8h0.9M390.9 322.3h0.9M383.1 327.2h0.9M379.4 310.5h0.9M397 311.8h0.9M388.5 297h0.9M399.3 311h0.9M386.4 303.5h0.9M410.3 292.8h0.9M398.2 303.8h0.9M376.4 316.1h0.9M381.4 307.4h0.9M410.9 298.7h0.9M388.2 312.7h0.9M400.8 314.6h0.9M385.2 320.1h0.9M423.3 311.3h0.9M392.7 314.2h0.9M394.3 326.4h0.9M406.2 301.9h0.9M396.9 308.9h0.9M382.7 327.5h0.9M379.5 320.2h0.9M387 312.6h0.9M410.5 311.3h0.9M381.3 323.1h0.9M382.8 312.6h0.9M399.4 310.5h0.9M396.6 299.5h0.9M409.5 295.6h0.9M392.8 322.7h0.9M392.4 324.4h0.9M409.6 313.7h0.9M410 307h0.9M394.4 317.1h0.9M404.1 306.3h0.9M401.5 306.4h0.9M400.3 304.2h0.9M403.4 323h0.9M391.4 313.4h0.9M390.6 329.1h0.9M391 313.4h0.9M394.3 322.1h0.9M378.3 301.1h0.9M408.1 298.1h0.9M394.7 304.3h0.9M397.4 322.4h0.9M431.1 291.6h0.9M391.5 308h0.9M393.7 311h0.9M390.5 323.4h0.9M382.4 326.3h0.9M396.8 309.6h0.9M396.4 318.2h0.9M382.1 312.5h0.9M391 328.5h0.9M410.4 299.4h0.9M386.6 288.8h0.9M392.1 304.6h0.9M398.1 306.5h0.9M411 317.2h0.9M407 297.9h0.9M380 313.4h0.9M409.3 310.2h0.9M384.2 325.6h0.9M389.9 316.2h0.9M395.4 320.2h0.9M386.8 316.1h0.9M393.4 311.5h0.9M415.1 301.2h0.9M386.9 323.3h0.9M404.5 311h0.9M381.4 322.2h0.9M393.7 327.1h0.9M380.1 314.3h0.9M395.4 295.9h0.9M389.8 321h0.9M385.8 318h0.9M393.3 314.8h0.9M387 319.9h0.9M389.6 315.4h0.9M388 308.3h0.9M396.2 312.8h0.9M391.9 325.8h0.9M396.3 301h0.9M413.4 312.2h0.9M406.7 314.9h0.9M389.3 309.1h0.9M403.4 310.6h0.9M379.8 318h0.9M385.9 319.7h0.9M393.6 301.5h0.9M379.2 323.5h0.9M379 311.7h0.9M408.2 295.5h0.9M382.4 315.3h0.9M393.6 303.7h0.9M373.9 317.3h0.9M400.7 305.7h0.9M417.2 309h0.9M385.5 318h0.9M385 320.4h0.9M386.2 309.8h0.9M388.7 313.5h0.9M390.9 307.2h0.9M383.9 308.4h0.9M390.4 307.4h0.9M389.2 312.4h0.9M410.8 298.1h0.9M394.4 308.5h0.9M391.8 317.1h0.9M395.1 322.7h0.9M404 311.2h0.9M388 314.6h0.9M375.2 317.3h0.9M404 299.6h0.9M394.9 312h0.9M395.2 320h0.9M396.9 310.4h0.9M398.6 331.5h0.9M398.8 303.7h0.9M402.6 309.8h0.9M384.3 314.2h0.9M402.2 292.1h0.9M404.4 297.8h0.9M397.9 310h0.9M394.2 318.2h0.9M393.4 322.8h0.9M401.1 318.9h0.9M414.7 305.4h0.9M394.9 318.9h0.9M394.7 310h0.9M391.8 319.3h0.9M394.1 323.4h0.9M380 318.6h0.9M384.8 327.1h0.9M393.7 317h0.9M392.5 312.2h0.9M391.2 329.9h0.9M391 308.4h0.9M389.4 307.4h0.9M382 324.2h0.9M388.6 311.7h0.9M396.3 321.7h0.9M398.7 288.1h0.9M397.5 293.8h0.9M397.9 310.9h0.9M403.1 309.9h0.9M383.9 311.8h0.9M407.5 311.2h0.9M382.2 306.4h0.9M400.1 315.4h0.9M390.4 306.9h0.9M389.2 312.4h0.9M405 318h0.9M399.6 305.1h0.9M382.5 318.4h0.9M383.5 324.8h0.9M398.1 324.6h0.9M395.7 310.6h0.9M380.8 319.2h0.9M391.4 316.4h0.9M386.9 307.4h0.9M397 301.3h0.9M384.5 316.8h0.9M398.2 313.5h0.9M385.2 316.6h0.9M402.5 307.7h0.9M392.9 323h0.9M403.7 317h0.9M392.1 295.9h0.9M391.1 314.2h0.9M390.5 303.9h0.9M386.3 325.1h0.9M385.2 323.1h0.9M396 309.4h0.9M384.6 316.9h0.9M382.3 315.6h0.9M384.8 305.2h0.9M399.9 314.9h0.9M388.1 316h0.9M392.5 313.5h0.9M396.2 312.4h0.9M393.1 319.7h0.9M406.7 317.1h0.9M384.3 320.4h0.9M409.3 302.6h0.9M395.7 291.8h0.9M384.9 317.8h0.9M389.3 309.8h0.9M385.5 315h0.9M385.9 329.5h0.9M386.6 320.4h0.9M386.7 319.9h0.9M413.6 291.7h0.9M386.8 317.2h0.9M396.6 306.6h0.9M384.4 316h0.9M385.1 316.2h0.9M380.3 322.5h0.9M386.8 317.5h0.9M386.6 300.9h0.9M393.7 312.5h0.9M383.5 322.4h0.9M395.1 314.4h0.9M380.6 316.2h0.9M395.4 300.4h0.9M394.8 318.1h0.9M386.8 312.6h0.9M392.2 317.8h0.9M399.7 298.3h0.9M387.5 307h0.9M384.8 307.7h0.9M390.8 309h0.9M386.2 315.6h0.9M393.6 299.3h0.9M401.5 317.4h0.9M406.1 298.9h0.9M394.7 301.7h0.9M400.7 318.7h0.9M396.5 316.7h0.9M395.5 302.1h0.9M398.8 295.3h0.9M391.8 312.1h0.9M394.6 317.6h0.9M387.6 304.8h0.9M403.7 312.9h0.9M397.2 304.2h0.9M390 323.1h0.9M383.6 321.4h0.9M392.5 317.6h0.9M415.9 295.9h0.9M394.9 322.3h0.9M377.4 323.5h0.9M393.5 328.3h0.9M378.4 317.5h0.9M386.8 321.9h0.9M385.8 325.9h0.9M384.9 321.5h0.9M398.1 315.8h0.9M379.3 313.2h0.9M387.2 318.4h0.9M412.9 302.7h0.9M407.7 297.3h0.9M399.3 294h0.9M384.4 323.1h0.9M386.8 320.9h0.9M407.2 286h0.9M390.4 326.7h0.9M397.7 302.2h0.9M386.2 310.5h0.9M386.6 320.4h0.9M388 312.1h0.9M390.5 313.6h0.9M385 323.1h0.9M382.8 320h0.9M409.8 301.5h0.9M387.1 321.5h0.9M395.6 321h0.9M391 305.2h0.9M411 294.4h0.9M394.5 313.6h0.9M393.4 315h0.9M380 307.6h0.9M390.3 305.2h0.9M382.5 326.5h0.9M388.9 322.1h0.9M392.3 313.8h0.9M394.2 313.2h0.9M389.2 327.1h0.9M382.4 321h0.9M379.7 320.6h0.9M395.7 323.3h0.9M392.7 318.6h0.9M398.6 305.2h0.9M381.6 318.9h0.9M409.8 311.8h0.9M385.7 318.1h0.9M391.2 306.9h0.9M399.5 318h0.9M398 291.4h0.9M388.6 316.2h0.9M385.3 326.1h0.9M402.7 299.4h0.9M408 291h0.9M385.4 324.5h0.9M376.9 320h0.9M384.7 319.8h0.9M389.3 322.9h0.9M378.9 318.7h0.9M403.7 315.1h0.9M388.6 315.6h0.9M384.9 320.7h0.9M389.6 312h0.9M391.5 319.6h0.9M386.9 315.1h0.9M385 323.2h0.9M387.8 328.6h0.9M406.7 311.1h0.9M386.8 304.9h0.9M394.6 323.1h0.9M390.8 310.6h0.9M390.1 318.5h0.9M393 313.8h0.9M393.8 314.6h0.9M383.9 317.3h0.9M392 319.1h0.9M396.9 318.1h0.9M389.2 311.4h0.9M384.9 321.2h0.9M390.1 322.8h0.9M388 327h0.9M387.9 321h0.9M392.7 315.6h0.9M391.7 318.5h0.9M379.3 324.7h0.9M386.9 322.1h0.9M388.8 314.7h0.9M401.1 300.6h0.9M379.3 306h0.9M376.7 315h0.9M384.6 324.7h0.9M398.7 313.9h0.9M392.4 317.5h0.9M385.2 321.9h0.9M385.7 317.8h0.9M411.3 299.7h0.9M390.4 311.7h0.9M394 311.7h0.9M388 330.1h0.9M389.5 302.8h0.9M396.1 303.3h0.9M391 312.6h0.9M378.5 311.4h0.9M379.8 316.6h0.9M387.2 327.5h0.9M384.5 325.8h0.9M396 308.1h0.9M388.5 328.2h0.9M387.8 308.9h0.9M409.8 314.4h0.9M382.7 323.1h0.9M386.3 314.4h0.9M390.7 324.4h0.9M403.2 307.2h0.9M401.2 306h0.9M406 297.5h0.9M380.9 309.3h0.9M381.1 306.3h0.9M384.3 321.9h0.9M390.6 323.5h0.9M384 315.2h0.9M393.7 312.7h0.9M389.2 301.1h0.9M384.8 307.4h0.9M391.4 313.7h0.9M393.2 318.6h0.9M392.2 320h0.9M404.1 312.8h0.9M393.2 304.4h0.9M385.5 319.1h0.9M392.2 320.3h0.9M378.2 319.9h0.9M389.6 313.3h0.9M393.1 312.3h0.9M404.2 300.3h0.9M410.3 303.7h0.9M397.6 311.7h0.9M406.9 292.7h0.9M386.5 296.1h0.9M390.5 322h0.9M387.6 326.5h0.9M392.4 317.8h0.9M409.7 298.7h0.9M388.7 320.8h0.9M422 296.2h0.9M380.2 321.9h0.9M389.6 315.4h0.9M390.9 304.9h0.9M386.5 317.4h0.9M379.8 319.7h0.9M379.6 319.9h0.9M380.7 307.5h0.9M396.7 307.5h0.9M399.3 315.4h0.9M383.2 292.5h0.9M410.7 307.3h0.9M382.8 322.9h0.9M407.1 289.4h0.9M384 324.4h0.9M388.3 315.1h0.9M391.9 312.8h0.9M428.5 292.4h0.9M393.1 313.7h0.9M384 324.8h0.9M386.7 316.7h0.9M391 312.8h0.9M377.2 321.8h0.9M397.9 305.8h0.9M393.5 303.9h0.9M400.1 315.8h0.9M383.2 320.7h0.9M396.4 315.5h0.9M387.6 328.6h0.9M392.7 321.7h0.9M387.5 311.8h0.9M392.7 326.9h0.9M386.8 300.2h0.9M394.9 322.9h0.9M378.7 304.5h0.9M389.3 307.5h0.9M389.9 314.9h0.9M393.2 304.9h0.9M389.1 294.6h0.9M383.3 308.9h0.9M383.7 324.2h0.9M383 307.1h0.9M392.2 318.7h0.9M391.3 324h0.9M385.9 330.5h0.9M389.7 318h0.9M389.9 315.1h0.9M393.7 307.4h0.9M420.3 313.2h0.9M398.6 317.6h0.9M387.6 323.4h0.9M389.2 319.2h0.9M394.6 320.4h0.9M393.6 290.9h0.9M385.5 327.2h0.9M392.4 307.3h0.9M376.7 309.3h0.9M391.5 323.4h0.9M385.1 313.7h0.9M385.4 323.9h0.9M391.1 307.1h0.9M386.3 315.8h0.9M400.3 319.6h0.9M394.9 313.3h0.9M396.8 311.9h0.9M380.7 311.4h0.9M395.3 318h0.9M389.6 309.7h0.9M406.5 302.9h0.9M377.3 320.7h0.9M400.6 307.8h0.9M392 318.2h0.9M380.4 312.8h0.9M415.5 292h0.9M378.3 320.6h0.9M408.3 309h0.9M389.9 318.8h0.9M400.6 304.7h0.9M405.3 327.3h0.9M393.6 319.1h0.9M380.4 322.5h0.9M385.5 327.4h0.9M388.5 319.5h0.9M392 325h0.9M394.5 300.4h0.9M397.9 324.7h0.9M389.8 310.8h0.9M384.2 318.3h0.9M390.6 307.7h0.9M384 319.3h0.9M398.2 324h0.9M398 308.8h0.9M385.6 310.3h0.9M383.4 321.2h0.9M383.9 323.9h0.9M387.2 326.4h0.9M394.4 307.5h0.9M396.1 310.9h0.9M401 329.9h0.9M389.8 314.4h0.9M382 324.9h0.9M382.4 313h0.9M385.3 328.2h0.9M384.2 317.6h0.9M390.3 330.4h0.9M393.2 322.7h0.9M400.8 312h0.9M383.9 317.6h0.9M387.3 315.3h0.9M381.2 321.6h0.9M384.2 322.4h0.9M401.1 299.9h0.9M385.9 315h0.9M380.8 326h0.9M408.3 295.7h0.9M382.5 320.3h0.9M387.1 326.2h0.9M393.7 320.9h0.9M387.9 312.5h0.9M401.1 323.5h0.9M409.6 298.9h0.9M405.4 311.6h0.9M397.5 324.4h0.9M379.1 314.9h0.9M388.8 321.2h0.9M406.7 307.4h0.9M396.6 319.6h0.9M398.3 314.3h0.9M394 320.4h0.9M383 309.3h0.9M395.2 300.1h0.9M382.8 327.7h0.9M373.1 317h0.9M391.8 308.3h0.9M392.5 311.1h0.9M386.8 322.1h0.9M399.4 314.3h0.9M382.1 325.9h0.9M402.3 293.1h0.9M387.3 309.4h0.9M386.7 322.5h0.9M387.1 323.5h0.9M402.3 306.4h0.9M386.7 320.2h0.9M386.7 319.9h0.9M377.2 317.6h0.9M400.5 304h0.9M386.4 325.7h0.9M381.2 315.1h0.9M392 317.3h0.9M393 318.6h0.9M416 313h0.9M394.1 310.6h0.9M391.5 311.6h0.9M378.7 317.5h0.9M380.8 315.9h0.9M384.4 306.3h0.9M391 295.9h0.9M388.8 322.9h0.9M392.5 312.7h0.9M394.8 313.3h0.9M390.7 298.5h0.9M377.9 310.6h0.9M393 293.4h0.9M426.2 296.9h0.9M386.2 328.7h0.9M398.1 292.1h0.9M389.4 317h0.9M385.4 321.9h0.9M387 309.6h0.9M394.4 304.3h0.9M409.5 305.1h0.9M415.5 296.8h0.9M420.9 293.6h0.9M391.7 316.7h0.9M391.2 315.4h0.9M401.9 308h0.9M392.7 311.2h0.9M407.9 313.9h0.9M388 319.7h0.9M391.6 318.8h0.9M394.9 309.6h0.9M387.4 312.2h0.9M399.1 305.4h0.9M386.9 316h0.9M391.1 306.7h0.9M399.3 313.7h0.9M428.2 299.5h0.9M394.1 314h0.9M391.8 312.7h0.9M394.5 303.7h0.9M390.7 300.2h0.9M393.9 317.2h0.9M392.5 318.3h0.9M382.4 316.9h0.9M413.1 292.2h0.9M381 318h0.9M401 317.7h0.9M384.3 322.8h0.9M391.4 318.2h0.9M389.8 330h0.9M379.7 306.5h0.9M402.8 306.4h0.9M398.9 309h0.9M379.9 324.1h0.9M394.7 310.9h0.9M406.4 311.2h0.9M389.3 310.4h0.9M381.8 319h0.9M394.6 326.1h0.9M393.2 321.5h0.9M396 314.1h0.9M388.8 324h0.9M399.9 306.3h0.9M405.4 296.3h0.9M393.8 310.4h0.9M400.8 307.7h0.9M392.2 309.2h0.9M381.3 311h0.9M405.2 298h0.9M397.7 310.5h0.9M390.3 314.4h0.9M392 319.8h0.9M384.2 324.5h0.9M411.4 303.9h0.9M388.2 319h0.9M383.4 321.5h0.9M397.9 313.2h0.9M396.2 317.7h0.9M400 300.8h0.9M383.2 315.7h0.9M405.5 313.1h0.9M379.6 322.8h0.9M398.8 310.3h0.9M396.3 304.6h0.9M400.6 307h0.9M396.7 321.5h0.9M403.3 318.1h0.9M389 304.4h0.9M391.9 299.4h0.9M373.9 303.3h0.9M400.2 311h0.9M412.8 308.6h0.9M390.4 317.9h0.9M386.7 316.9h0.9M404.8 308.8h0.9M397.5 298.2h0.9M395.3 316.5h0.9M393.6 324h0.9M403.9 313.6h0.9M387.2 324.9h0.9M381.9 320.3h0.9M386 317.4h0.9M396.8 299.3h0.9M400.1 322.4h0.9M391.8 324.8h0.9M386.2 319.4h0.9M388.3 317.1h0.9M410.3 297.2h0.9M378.8 322.5h0.9M386.2 324.3h0.9M398.1 312.2h0.9M386.7 323.1h0.9M390.3 316.1h0.9M375.2 310.1h0.9M381.5 323.4h0.9M390.7 301.2h0.9M387.3 302.5h0.9M406 320.6h0.9M383.8 318.2h0.9M387.3 317h0.9M383 320.8h0.9M385.6 312.9h0.9M397 323h0.9M395.9 289.4h0.9M391.9 318.1h0.9M391.3 308.9h0.9M389.6 326.8h0.9M409.2 304.6h0.9M391.2 315.3h0.9M387.6 304h0.9M389.5 323.1h0.9M388.8 325.2h0.9M391.2 320.3h0.9M393.5 309.3h0.9M398.9 312.5h0.9M384 315.4h0.9M394.9 312.9h0.9M399 309.8h0.9M385.3 318.7h0.9M386.3 310.6h0.9M385.4 318.7h0.9M391.2 305.9h0.9M398.6 293.6h0.9M398.2 316.9h0.9M399.8 303.7h0.9M392.3 308.3h0.9M381.2 320.7h0.9M397.2 312.2h0.9M394.4 307.9h0.9M387.8 311.5h0.9M392.1 315.9h0.9M388.6 318.4h0.9M384.4 313.7h0.9M393.2 301.4h0.9M405.2 312.6h0.9M387 316.4h0.9M388.9 326.9h0.9M390.1 320.8h0.9M397.4 307.1h0.9M382.4 321.7h0.9M392.6 326.9h0.9M391.5 307.8h0.9M401.8 299h0.9M380.9 318.3h0.9M383.2 321.6h0.9M392.9 303.2h0.9M390 316.6h0.9M400.1 290.9h0.9M400.5 309.7h0.9M386.3 322.4h0.9M399.5 307.7h0.9M385 315.6h0.9M403.1 314.4h0.9M397.6 325.5h0.9M397.5 306.4h0.9M384.7 314.4h0.9M393.6 317.7h0.9M405 297.4h0.9M389.8 317.1h0.9M413.4 298.1h0.9M383.8 309.9h0.9M389.2 322.7h0.9M382 315.1h0.9M391.2 301.9h0.9M396 305.3h0.9M388.4 329.3h0.9M383.7 316.8h0.9M386.9 322.8h0.9M387.8 309.2h0.9M384.7 326.3h0.9M389 319.5h0.9M400.1 316h0.9M401.6 305.1h0.9M385.6 320.3h0.9M389.1 297.6h0.9M382.7 325.9h0.9M391.2 321.3h0.9M382.5 325.1h0.9M395.3 311.6h0.9M394.8 315.7h0.9M389.3 323.8h0.9M390.8 306h0.9M382.8 322.6h0.9M389 320.4h0.9M384.3 323.8h0.9M381.4 316.6h0.9M376.1 313.6h0.9M407.4 300.6h0.9M394.4 317.5h0.9M405.4 315.8h0.9M388.8 320.6h0.9M385.6 312.4h0.9M387.7 321.8h0.9M388.8 315.8h0.9M382.1 318.2h0.9M394.8 295.2h0.9M386.5 301.5h0.9M382.8 317.2h0.9M388.4 313.4h0.9M389.1 317h0.9M386.9 319h0.9M407.3 299.6h0.9M389.2 331.8h0.9M384.1 321.2h0.9M388.6 328.4h0.9M395.2 302h0.9M386.6 312.5h0.9M378.6 323.5h0.9M388.3 299.4h0.9M405.6 315.4h0.9M387.5 320.3h0.9M410.3 301.9h0.9M399 321.8h0.9M386.1 323.5h0.9M401.4 318.9h0.9M376.5 309.2h0.9M398.7 318.2h0.9M395.6 312.4h0.9M399.3 299.8h0.9M394.2 320.8h0.9M387.3 318.6h0.9M380.3 320h0.9M375.2 315h0.9M398.8 322.5h0.9M375.2 308.4h0.9M390 316.2h0.9M398 321.7h0.9M387.4 323.9h0.9M385.4 314.8h0.9M410 291h0.9M382.2 318.6h0.9M381.9 326.1h0.9M384.2 321h0.9M390.1 302.6h0.9M377.5 316.5h0.9M392.8 322.7h0.9M378.9 316.5h0.9M392 301.9h0.9M394.1 330.7h0.9M381.6 317.1h0.9M381.1 313.3h0.9M389.7 306.3h0.9M396.9 315.4h0.9M393.3 304.3h0.9M392.1 311.8h0.9M388.3 293h0.9M381.6 319.1h0.9M384.6 321.4h0.9M383.5 322.6h0.9M400.6 318.2h0.9M402.8 306.9h0.9M378.9 299.5h0.9M378 314.1h0.9M386.3 311h0.9M384.9 318.1h0.9M391.8 313.8h0.9M400.7 310.2h0.9M386.6 302.2h0.9M377.8 308.2h0.9M383.9 328.1h0.9M380.7 316.5h0.9M391.3 304.2h0.9M378.9 323.4h0.9M388.6 304.7h0.9M385.4 309h0.9M400.1 314.3h0.9M377.9 318.7h0.9M408.6 298.6h0.9M390 317.1h0.9M397.4 303.4h0.9M393.5 331.3h0.9M382.2 311.2h0.9M393.6 332.9h0.9M392.7 302.4h0.9M413 287.1h0.9M382 326.1h0.9M391.8 323h0.9M396.8 314.5h0.9M413.5 285.6h0.9M383.7 318.8h0.9M413.6 303.2h0.9M400.9 318.3h0.9M385.8 314.7h0.9M387.4 328.1h0.9M389 321.2h0.9M387.6 319.9h0.9M379.9 316.4h0.9M379.7 315.2h0.9M402.9 305.9h0.9M376.2 304.5h0.9M385.1 315.9h0.9M396 312.9h0.9M376.2 315.8h0.9M391.3 327.8h0.9M398.7 321.5h0.9M381.9 314.4h0.9M391.4 312.7h0.9M391.9 312h0.9M379.6 321.8h0.9M388.1 312.6h0.9M392 317.6h0.9M399.7 320.6h0.9M392.8 313h0.9M414.4 290.5h0.9M400 306h0.9M414.3 280.5h0.9M388.1 322.8h0.9M387.7 313.1h0.9M379.2 318.5h0.9M419.9 291.5h0.9M378.5 311h0.9M394.1 305.8h0.9M381.1 321.4h0.9M395.6 308h0.9M375 318.7h0.9M380.7 317.1h0.9M402.5 300.3h0.9M400.4 310.3h0.9M383.2 321.6h0.9M406.7 295.1h0.9M398.4 297.2h0.9M387.2 318.4h0.9M376.4 304.3h0.9M385.8 325.2h0.9M404.8 309.6h0.9M402.9 301.3h0.9M388.6 307.5h0.9M387.5 329h0.9M386.2 313.2h0.9M401.1 316.6h0.9M383 320.5h0.9M393.8 303.5h0.9M387.9 315.6h0.9M386 313.4h0.9M383.3 321h0.9M397.5 312.2h0.9M386 317.2h0.9M384.9 316.7h0.9M381.6 324.1h0.9M407.7 300.8h0.9M383.1 322.7h0.9M396.4 313.8h0.9M402.8 307.7h0.9M391.8 316.1h0.9M403.2 308.6h0.9M389.6 315.9h0.9M425.6 291.8h0.9M400.6 308.2h0.9M391.8 320.9h0.9M385.2 318.8h0.9M377.3 317h0.9M380.8 321.4h0.9M389.5 316.2h0.9M388.2 320.5h0.9M397.7 306.8h0.9M399.5 319.2h0.9M389.5 303h0.9M375.1 316.6h0.9M400 302.8h0.9M396.9 300.9h0.9M404.3 300.5h0.9M389.4 321.7h0.9M396.1 331.8h0.9M390.4 301.8h0.9M378.8 318.4h0.9M397.8 306.4h0.9M379.8 313.4h0.9M386.4 312.2h0.9M395.8 320.9h0.9M382.4 323h0.9M392.5 312.4h0.9M393.9 321.1h0.9M381.8 308.6h0.9M394 312.2h0.9M383.5 321.9h0.9M384.5 323.5h0.9M381.6 315.7h0.9M384.3 317.7h0.9M390.3 314.1h0.9M394.6 317.2h0.9M386.7 312.3h0.9M399.9 310.9h0.9M379.8 307.1h0.9M413.1 295.6h0.9M413.8 298.8h0.9M392.7 303.4h0.9M407.4 293.5h0.9M389.7 315.7h0.9M405.5 301.9h0.9M393.6 322.2h0.9M393 313.9h0.9M392.5 310.5h0.9M401.3 301.2h0.9M393.1 314.6h0.9M384.4 327.5h0.9M391.3 316.3h0.9M383.5 317.6h0.9M385.5 317.2h0.9M378.3 321.5h0.9M390.8 306.1h0.9M392.8 307.6h0.9M384.4 316.3h0.9M401 311.2h0.9M394.7 298h0.9M385 321.3h0.9M382 313.7h0.9M396.5 315.8h0.9M389.1 319h0.9M417.6 300.4h0.9M391.2 318.9h0.9M379.4 318.2h0.9M393.9 311.6h0.9M380.4 320.4h0.9M402.5 296.4h0.9M379.1 318.6h0.9M384.9 318.2h0.9M403.6 301.8h0.9M388.3 319h0.9M394.6 331h0.9M385 319.3h0.9M389.4 316.7h0.9M389.5 315h0.9M380 324h0.9M408 292.7h0.9M406.8 298h0.9M386.5 317.3h0.9M389.2 322.4h0.9M396.3 312.6h0.9M379.6 319.2h0.9M391.2 314.1h0.9M393.7 314.3h0.9M405 296.4h0.9M408 293.5h0.9M384 321h0.9M386.6 324h0.9M380.9 326.5h0.9M392.4 307.7h0.9M387.5 317.6h0.9M396.6 319.5h0.9M380.5 317.6h0.9M390.2 320.8h0.9M387.1 316.3h0.9M416 324.1h0.9M384.5 326.2h0.9M386.4 319.6h0.9M383.6 321.3h0.9M387.9 303.1h0.9M389.7 311.1h0.9M389.7 331.6h0.9M385.2 323.4h0.9M385 318.2h0.9M385.2 320.4h0.9M392.3 313.3h0.9M381 317.1h0.9M381.6 325.2h0.9M393.2 316.5h0.9M379 314.8h0.9M397.5 305h0.9M378.7 302.9h0.9M378.6 313.5h0.9M392.9 319.6h0.9M394.3 321.5h0.9M398.1 323.2h0.9M380 315.2h0.9M381.3 324h0.9M382.7 320.5h0.9M414.8 300.8h0.9M394.9 313.2h0.9M383.5 322.9h0.9M393.6 316.9h0.9M383.4 318.6h0.9M398.2 315.7h0.9M382.3 320.9h0.9M394 320.7h0.9M387.1 320h0.9M383.9 323.8h0.9M378.3 318.8h0.9M377.8 315.8h0.9M376 317.8h0.9M391.4 318.2h0.9M385.9 299.2h0.9M390.4 326.2h0.9M382.6 320.6h0.9M384.7 309.1h0.9M394.7 313.5h0.9M418.5 268.8h0.9M385.5 320.5h0.9M383 320.7h0.9M386.7 328.4h0.9M395.2 317.9h0.9M395.6 317.8h0.9M380.8 321.6h0.9M392.7 323.1h0.9M385.1 320h0.9M396.3 309.8h0.9M407.2 301.7h0.9M385.5 322.4h0.9M382.3 312.2h0.9M388.6 322.2h0.9M379.3 313.5h0.9M388.3 321.2h0.9M383.2 322.1h0.9M397.5 308.1h0.9M382.7 313.9h0.9M394.6 319.2h0.9M389.7 314.4h0.9M394.2 318.4h0.9M398.2 299.2h0.9M391.9 306.6h0.9M385.9 320.3h0.9M417.1 298.1h0.9M378.8 316.6h0.9M382.2 318.9h0.9M385.8 315.6h0.9M385.9 317.4h0.9M390.3 310.9h0.9M394.1 320.4h0.9M393.7 317.7h0.9M384.3 321.6h0.9M399.6 313.1h0.9M417.5 297.7h0.9M391.7 307.8h0.9M407.2 288.8h0.9M392.2 319h0.9M401.8 322h0.9M397.5 280.8h0.9M388.1 311.8h0.9M399.6 312.6h0.9M380.4 319.1h0.9M391.9 320.8h0.9M387.2 320.3h0.9M391.7 301.4h0.9M388.6 312.7h0.9M404.1 304.2h0.9M381.8 316.7h0.9M388.6 321.8h0.9M383.5 324.7h0.9M386.3 316.8h0.9M417.7 290.5h0.9M391.3 310.7h0.9M391.7 315.5h0.9M387.6 308.9h0.9M391.6 325.4h0.9M379.5 324.5h0.9M399.3 316.2h0.9M402.8 321.3h0.9M411.5 308.8h0.9M391.5 313.6h0.9M384.3 322.7h0.9M384.8 320.6h0.9M389.4 318.7h0.9M382.3 316.7h0.9M384.3 304.9h0.9M406.7 300.9h0.9M386.8 319.2h0.9M402.3 316.7h0.9M404.1 317.5h0.9M382.7 311.3h0.9M391 305.5h0.9M391.1 320.9h0.9M407.9 308.3h0.9M392.7 313.7h0.9M396.9 308.6h0.9M378.2 312.5h0.9M403.1 322.3h0.9M400.7 296.7h0.9M405.7 304.5h0.9M389.1 319.2h0.9M387.2 310.4h0.9M389 323.6h0.9M396 321.8h0.9M391.2 313.7h0.9M398.8 307.4h0.9M386.2 324.7h0.9M403 311.2h0.9M388.8 323.8h0.9M386.6 311.1h0.9M382.1 316h0.9M396.8 302.7h0.9M380.1 301.4h0.9M379.5 315.6h0.9M388.9 314.8h0.9M391.9 307.1h0.9M381.6 317.3h0.9M406.6 306.7h0.9M390.1 318.2h0.9M416.6 296.4h0.9M401 302h0.9M396.3 304.6h0.9M383.9 314.4h0.9M391 316.5h0.9M375.4 316.6h0.9M382.2 316.5h0.9M387.3 323.1h0.9M411.7 301.5h0.9M385.9 319.2h0.9M386.9 308.2h0.9M398.5 311.8h0.9M380.5 319.5h0.9M386.3 318.3h0.9M390.6 305.6h0.9M401.3 320h0.9M399.9 318.5h0.9M382 316.8h0.9M387.6 307.3h0.9M385.6 319.6h0.9M409.4 301.4h0.9M389.6 326.1h0.9M392.9 311.8h0.9M387.9 306.1h0.9M393.7 314.1h0.9M406.4 300.7h0.9M389.2 300.9h0.9M382.6 321.1h0.9M401.1 300.4h0.9M385.7 311.3h0.9M387.6 319.8h0.9M400.2 314.5h0.9M387.5 326.2h0.9M393.5 302.9h0.9M383.8 317h0.9M391.1 320.1h0.9M386.6 316.1h0.9M380 323.3h0.9M394.3 329h0.9M389.1 289.9h0.9M386.4 313.4h0.9M391.1 306.3h0.9M400.4 303.8h0.9M404.2 316.5h0.9M408.4 294.1h0.9M380.1 323.7h0.9M388 318.9h0.9M386.5 316.5h0.9M394.6 313.9h0.9M398.4 328.1h0.9M380.5 319.9h0.9M387.9 315.8h0.9M388.3 316.6h0.9M390.7 293.2h0.9M384.5 326h0.9M390.7 314h0.9M390.1 295.7h0.9M392.1 310.6h0.9M402.2 304h0.9M383.7 314.4h0.9M394.2 320.4h0.9M387.4 312.8h0.9M382.9 309.8h0.9M396.8 315.4h0.9M398.9 304.5h0.9M397.8 308.4h0.9M405 280.5h0.9M379.1 315.6h0.9M381 316.6h0.9M401.7 301.3h0.9M399.7 303.6h0.9M399.1 318.3h0.9M411.2 308.7h0.9M394.1 312.2h0.9M380.8 324.4h0.9M392.9 327.9h0.9M385.4 320.7h0.9M389.5 324.2h0.9M403.3 295.9h0.9M389.6 314.9h0.9M394.6 307.7h0.9M397.4 300.5h0.9M384.9 323.8h0.9M382.4 316.5h0.9M381.5 323.5h0.9M387.5 321.4h0.9M408.8 316h0.9M374 317.4h0.9M386.7 319.5h0.9M388.7 322.2h0.9M379.3 324h0.9M393 319.8h0.9M383.5 326.4h0.9M402.3 307h0.9M384.5 317.7h0.9M401.7 300.6h0.9M381.4 322.7h0.9M380.2 317.7h0.9M402.2 304.2h0.9M386.2 310h0.9M387.9 309.1h0.9M383.3 310.4h0.9M385.2 329h0.9M383.8 317.3h0.9M394.3 302h0.9M383.9 328h0.9M390.6 310.8h0.9M414.7 292.8h0.9M397.3 305.8h0.9M397 311.2h0.9M403.5 302.9h0.9M378.9 308.5h0.9M390.8 326.5h0.9M388.3 325.4h0.9M395 295h0.9M392.1 320.8h0.9M405.8 296h0.9M391 315.3h0.9M391.2 324.8h0.9M405.8 308.5h0.9M407.5 306.7h0.9M404.9 318.5h0.9M396.2 318.5h0.9M394.6 304.6h0.9M398.1 293.2h0.9M392.2 320.2h0.9M403.5 281.2h0.9M385.5 317.1h0.9M383.7 319.1h0.9M385.5 314.1h0.9M389.3 327h0.9M384.4 323.9h0.9M399.6 302.9h0.9M408.1 305.4h0.9M386.4 315.7h0.9M400 315.8h0.9M390 331.5h0.9M384 320.7h0.9M381.5 323.1h0.9M398.3 317h0.9M396.7 286.9h0.9M391.3 301.8h0.9M379.4 318.3h0.9M383.9 307.3h0.9M401.2 303.4h0.9M386.3 321.7h0.9M396.4 308.2h0.9M390.6 314.5h0.9M409.3 304.3h0.9M389.1 325.1h0.9M387.1 328.3h0.9M384.2 320.3h0.9M392.8 312.4h0.9M396.9 321h0.9M390.1 318.7h0.9M402.2 314.8h0.9M386.6 314.9h0.9M386.1 319.1h0.9M381.8 318.9h0.9M390.6 314.5h0.9M391.1 317.9h0.9M388.4 313h0.9M396.8 325h0.9M387.7 303.8h0.9M408.6 304.5h0.9M379.6 317.5h0.9M409.8 297.4h0.9M392.1 305.8h0.9M398.2 307.2h0.9M385.5 320.7h0.9M389.2 308.8h0.9M387.1 307.3h0.9M383 316.8h0.9M387.3 318.3h0.9M393.9 318.3h0.9M399.1 320.1h0.9M375.7 316.9h0.9M386.7 322.5h0.9M392.6 308.1h0.9M400 304.7h0.9M397.3 310.6h0.9M400.9 311.3h0.9M395.7 313h0.9M400 304.4h0.9M399.9 319h0.9M391.1 316.6h0.9M386.2 319.3h0.9M401.4 314h0.9M385.4 310.1h0.9M380.4 317.8h0.9M408.9 309.9h0.9M384.5 319.5h0.9M379.8 311h0.9M385 326.9h0.9M390.7 324.5h0.9M380.6 319.1h0.9M390.4 302.4h0.9M384.1 321.1h0.9M385.4 323.1h0.9M379.8 321.4h0.9M386.7 310.6h0.9M394.9 314.8h0.9M384.5 325.3h0.9M385.8 305.2h0.9M379.4 317.5h0.9M399.5 301.8h0.9M395.6 303h0.9M397.4 309.3h0.9M389.3 320.3h0.9M408.8 313.5h0.9M383.3 325.2h0.9M394.4 318.6h0.9M391.5 298.2h0.9M392.1 306.5h0.9M401.1 313.4h0.9M401.5 286.8h0.9M393 323.3h0.9M402.8 306.9h0.9M384.3 322.4h0.9M386.1 318.3h0.9M385.2 310.1h0.9M382.4 314.2h0.9M384.1 317h0.9M382.3 319.9h0.9M406.3 310h0.9M386.4 309.9h0.9M398.9 299.3h0.9M399.9 285.4h0.9M405.9 299.9h0.9M381.4 324.3h0.9M402.9 312h0.9M398.7 322.7h0.9M395.8 313.9h0.9M394.6 301.9h0.9M416.6 289.3h0.9M396.8 310.6h0.9M383.5 321.6h0.9M389.8 305.2h0.9M411.3 296.1h0.9M388.6 305.4h0.9M384.9 319.9h0.9M394 308h0.9M381.6 300.4h0.9M387 323.4h0.9M400.9 322.5h0.9M392.7 308.9h0.9M379.9 321h0.9M388.9 324h0.9M387.3 306h0.9M388 317.5h0.9M392.4 314.7h0.9M386.2 314.3h0.9M390.2 314.3h0.9M383.4 315.1h0.9M378.9 322.5h0.9M388.9 321.8h0.9M413.8 279.1h0.9M385 315.6h0.9M406.6 289.6h0.9M391.7 317.7h0.9M388.9 313h0.9M407.1 287.2h0.9M415.5 291.6h0.9M386 300.5h0.9M380.8 308.4h0.9M413.3 293.5h0.9M420 303.6h0.9M399.9 299.5h0.9M384.2 324h0.9M379.2 315.4h0.9M407 298.3h0.9M402.5 303.8h0.9M419.2 290.6h0.9M390.3 307.9h0.9M397 324.3h0.9M379.5 318.7h0.9M398.6 319.6h0.9M390.3 304.7h0.9M413.8 298.4h0.9M399.6 317.2h0.9M407 317.7h0.9M387.6 316.7h0.9M381.1 310.5h0.9M397 315.4h0.9M379.2 321.2h0.9M379.4 317.9h0.9M379 322.4h0.9M411.7 281.2h0.9M392 319.6h0.9M384.9 322.1h0.9M400.8 310.2h0.9M410 302.9h0.9M385.3 317h0.9M385.3 325.8h0.9M392.2 323.1h0.9M388.8 331h0.9M388.9 317.8h0.9M387.3 315.9h0.9M379.8 318.6h0.9M383 319.5h0.9M402.1 302.4h0.9M389.6 317.8h0.9M383.3 310.7h0.9M395.6 305.4h0.9M384.8 319.1h0.9M383.7 317h0.9M403.2 294.6h0.9M387.7 320.6h0.9M379.9 318.1h0.9M384.1 325.3h0.9M403 289.5h0.9M387.8 319.5h0.9M384.7 311.2h0.9M389.8 325.1h0.9M399.5 312.1h0.9M398.7 318.1h0.9M380.2 319h0.9M384.3 309.7h0.9M391.8 300.5h0.9M387.8 315.6h0.9M400.9 313.7h0.9M407.1 304.3h0.9M394.4 316.6h0.9M378.1 318.2h0.9M404.2 310.8h0.9M406.2 305.4h0.9M389 311.5h0.9M388.5 291.2h0.9M394.3 302.9h0.9M387.6 316.7h0.9M392.1 326h0.9M383.1 324.3h0.9M394.5 309.8h0.9M394.2 324.2h0.9M387.2 330.3h0.9M398.8 309.5h0.9M399.8 310.7h0.9M385.5 329.7h0.9M387.8 311.2h0.9M383.7 325.1h0.9M384.9 317.1h0.9M377.2 321.4h0.9M400.2 309.2h0.9M394.1 320.5h0.9M403.4 318.5h0.9M388.4 323.3h0.9M395.5 319.5h0.9M395.2 308.1h0.9M384.2 308.1h0.9M388.8 310.9h0.9M387 321.8h0.9M391.9 307.8h0.9M417.1 307h0.9M396.2 319.5h0.9M396.5 306.4h0.9M396.8 323.2h0.9M393.4 317.4h0.9M404.2 315.9h0.9M379.8 324.9h0.9M398.3 313.8h0.9M399.2 303.2h0.9M400.5 304.3h0.9M391.6 323.4h0.9M396.6 324.9h0.9M415.7 289.4h0.9M382.5 325.7h0.9M379.8 319.2h0.9M383.4 320.7h0.9M387.5 322.1h0.9M397.3 294.5h0.9M390.1 311.3h0.9M381.8 314.7h0.9M399.4 307.4h0.9M400.3 312.9h0.9M399.1 309h0.9M392.8 309.8h0.9M390.8 304.9h0.9M375.9 317.7h0.9M395.9 309.2h0.9M404.7 314.4h0.9M384.1 319.4h0.9M382.2 323.2h0.9M416.2 282h0.9M378.9 318.1h0.9M393.2 321.2h0.9M389.5 321.9h0.9M385.3 307h0.9M393.5 299.2h0.9M422 296.9h0.9M394.6 301.7h0.9M383.2 322.2h0.9M378.1 319.9h0.9M397.3 310.7h0.9M382.3 317.1h0.9M381.5 319.5h0.9M385.7 310.1h0.9M392.2 328.6h0.9M398.8 328.3h0.9M395.5 311.6h0.9M387 324.1h0.9M390.7 319.5h0.9M384.6 321.2h0.9M404.8 298.7h0.9M408 292.2h0.9M388.3 323.7h0.9M393.2 299.9h0.9M384.6 313.9h0.9M394.9 316.6h0.9M393.9 297.1h0.9M390.4 328.1h0.9M387.3 315.9h0.9M386.9 320.3h0.9M396.7 320.1h0.9M380.3 325.4h0.9M396.4 309.9h0.9M381 320.2h0.9M391.8 318.1h0.9M396.1 315.3h0.9M379.6 319.4h0.9M396.7 314.4h0.9M414 300.6h0.9M386.5 323.1h0.9M393 305h0.9M397.4 316.2h0.9M393.9 323h0.9M393.5 307h0.9M375.9 315.6h0.9M390.4 308.4h0.9M399.2 305.8h0.9M392.6 323.8h0.9M386.7 328.4h0.9M407.1 304.4h0.9M386.4 313.7h0.9M388.5 323.3h0.9M391.9 313.4h0.9M381.8 315.6h0.9M384.5 304.8h0.9M385.6 328h0.9M377.2 315.7h0.9M417.5 300.2h0.9M393.4 330.3h0.9M397.1 308.2h0.9M380.4 318.7h0.9M377.9 323.3h0.9M399.4 298.4h0.9M382.7 326.2h0.9M388.5 325.3h0.9M392 306.1h0.9M385.6 317.2h0.9M384.8 315.3h0.9M406 310h0.9M392.1 321.7h0.9M389.9 307.6h0.9M380.2 323.4h0.9M409 297h0.9M392.2 294.8h0.9M384.9 316.3h0.9M399.5 306.7h0.9M396.3 294h0.9M390.2 317.1h0.9M401.8 303.3h0.9M385 316h0.9M396.5 317.9h0.9M401.6 292.9h0.9M383.3 325.9h0.9M382.1 321.7h0.9M407.1 308.4h0.9M405.3 290.3h0.9M402.6 308h0.9M399.1 311.7h0.9M401.3 314.2h0.9M389.4 329.1h0.9M395.4 293.8h0.9M385.3 319.8h0.9M387.5 308.2h0.9M415.6 299.1h0.9M406.4 311.6h0.9M396.9 305h0.9M408.5 298.4h0.9M396.7 320h0.9M385.4 321.9h0.9M383.8 321h0.9M391.6 297.2h0.9M379.4 321h0.9M397.9 316.2h0.9M389.8 301.4h0.9M381.9 326.3h0.9M388.4 319h0.9M382.1 323.7h0.9M392.7 319.5h0.9M385.9 313.2h0.9M406.2 312h0.9M382.5 319.7h0.9M409.6 305.2h0.9M383.3 317.7h0.9M388.4 319.4h0.9M388.2 314.4h0.9M405.8 315h0.9M390.9 304.5h0.9M378.1 323.1h0.9M394.4 323.4h0.9M392.8 319.5h0.9M382.5 323.1h0.9M386.8 316.5h0.9M381.9 312.9h0.9M397.2 305h0.9M384.4 324.3h0.9M399.4 316.7h0.9M386.9 326.3h0.9M394.6 323.1h0.9M395.9 312.7h0.9M393.6 304.7h0.9M388.3 314.2h0.9M402.3 316.9h0.9M396.7 309.3h0.9M389.9 327.2h0.9M385.4 305.6h0.9M390.5 310.3h0.9M383 316.1h0.9M388.5 319.3h0.9M389.4 308.7h0.9M391.2 301h0.9M384 321.1h0.9M382.6 301.9h0.9M379.3 322.1h0.9M387.6 321.6h0.9M385.7 309.6h0.9M386.9 318.3h0.9M382.7 315.7h0.9M387.9 314.5h0.9M390.2 317.3h0.9M389.6 319.9h0.9M386.3 323h0.9M385.6 313.5h0.9M391.3 326.8h0.9M395.4 312.7h0.9M386 313.9h0.9M397.6 319.6h0.9M396.8 304.2h0.9M397.6 324.7h0.9M391.3 321.4h0.9M384.6 320.3h0.9M383.6 318.2h0.9M390.3 307.2h0.9M380.6 319.1h0.9M397.9 304.3h0.9M387.9 328.7h0.9M392.3 314.7h0.9M386.1 319h0.9M403.8 305.2h0.9M384.3 319h0.9M396 295.9h0.9M382.1 310.8h0.9M389.9 327.4h0.9M386.7 316.6h0.9M408.3 312.4h0.9M407.7 315.7h0.9M394 314h0.9M411.6 301.1h0.9M385.8 317h0.9M412.7 289.9h0.9M388.8 317.6h0.9M394.1 311.2h0.9M395.5 323.1h0.9M391.7 312.9h0.9M399.7 314h0.9M387.9 318.8h0.9M383.9 327.1h0.9M390.6 330.1h0.9M386.6 304.5h0.9M389.7 325.8h0.9M393 306.4h0.9M392 315.3h0.9M383.8 319.3h0.9M384.9 316.9h0.9M377.7 317.4h0.9M379 302.7h0.9M401.1 323.5h0.9M409.3 304.5h0.9M387.4 316.2h0.9M380.9 308.5h0.9M396.4 315.1h0.9M402.5 317.6h0.9M393 316.5h0.9M382.2 308.3h0.9M382.4 319.3h0.9M393.2 314.7h0.9M391.3 313.6h0.9M396.2 319.3h0.9M392.3 303.5h0.9M402.6 295.1h0.9M374.3 311.2h0.9M393.8 321.7h0.9M393.6 317.6h0.9M385.4 316.6h0.9M378 312.7h0.9M396.1 317.2h0.9M378.7 315.5h0.9M390.2 302.6h0.9M397.8 285.2h0.9M381.6 311.7h0.9M388.4 308.2h0.9M404.7 287h0.9M399.6 315.9h0.9M396.6 315.3h0.9M392.3 313.7h0.9M390.7 309.2h0.9M385.5 319.8h0.9M383.4 310.3h0.9M392.5 316.5h0.9M383.8 313.6h0.9M382.6 318.8h0.9M402.7 305.4h0.9M390.9 305.7h0.9M380.9 312.8h0.9M391.9 322.5h0.9M377.5 313.7h0.9M399.2 291.2h0.9M378.4 317.8h0.9M392 306h0.9M384.3 320.2h0.9M376.9 298.6h0.9M381.8 319.8h0.9M434.3 287.1h0.9M388.6 327h0.9M395.3 318h0.9M397.6 306.3h0.9M390 317.3h0.9M410.5 286.6h0.9M388.4 300h0.9M389 319.6h0.9M404.6 311h0.9M397.7 310.1h0.9" stroke="#141414" stroke-width="0.9"/>
<path d="M385 314.5h0.7M420.2 287.9h0.7M397.4 323.7h0.7M444.6 286.3h0.7M380.8 306.7h0.7M418.4 291.7h0.7M388.1 307h0.7M393.9 304.6h0.7M400.1 309.1h0.7M387.4 325.1h0.7M400.7 299.5h0.7M421.3 263h0.7M405.9 295.1h0.7M383.9 307.5h0.7M424.5 310.2h0.7M410.9 303.7h0.7M407.7 298.7h0.7M424.7 278.8h0.7M378.9 313.8h0.7M393.5 304.2h0.7M398.9 300.5h0.7M392.9 304.2h0.7M408.3 291.6h0.7M426.3 279.2h0.7M398.8 298.8h0.7M430.2 282.2h0.7M410.5 306h0.7M426.5 264.1h0.7M403.6 312.4h0.7M404.9 300.6h0.7M413.4 279.2h0.7M386.3 325.2h0.7M445 282.5h0.7M401.6 297.6h0.7M385.7 290.6h0.7M392.8 322.7h0.7M393.4 324.9h0.7M396.4 289.3h0.7M426.1 273.9h0.7M418.3 294h0.7M448.4 272.1h0.7M414.9 301.7h0.7M396.9 319.4h0.7M453.8 282.9h0.7M384.9 305.6h0.7M419.9 300.8h0.7M407.6 328.7h0.7M420.1 275h0.7M415.2 300.9h0.7M422.7 263.8h0.7M400.3 267.2h0.7M418.3 291h0.7M419.8 286.6h0.7M423.9 262h0.7M403.7 304.5h0.7M429 292.1h0.7M407.2 312.7h0.7M421.7 289.5h0.7M398.1 283.9h0.7M419.6 276.8h0.7M389.4 273.6h0.7M397.7 287.9h0.7M387.5 319.9h0.7M388.2 323.9h0.7M429.7 271.8h0.7M404.4 299.3h0.7M393.4 289.3h0.7M378.9 311.6h0.7M416.1 274.3h0.7M392.6 302.8h0.7M435.8 308.1h0.7M390.6 327h0.7M385.8 309.9h0.7M395.5 300.1h0.7M397.6 296.8h0.7M404.3 289.8h0.7M443.9 283.7h0.7M405.8 308.8h0.7M405.3 308.7h0.7M423 281.4h0.7M401.5 309.7h0.7M390 309.4h0.7M423.9 280.9h0.7M402.2 302h0.7M381.9 304.5h0.7M387.2 277.6h0.7M412.3 309.9h0.7M388.2 300.8h0.7M409.9 289.3h0.7M384.9 310.4h0.7M406.8 321.8h0.7M396.6 279.8h0.7M410.6 310h0.7M381.1 281.8h0.7M426.5 293.9h0.7M382.3 316.4h0.7M437 265.3h0.7M432.2 267.3h0.7M386.6 322.8h0.7M396.3 307.3h0.7M389.7 321.3h0.7M377.5 309.3h0.7M384.7 309.7h0.7M378.5 314.4h0.7M435.9 267.9h0.7M407.6 285.3h0.7M389.3 299.5h0.7M403.5 320.5h0.7M379.5 319.2h0.7M390.7 327.7h0.7M424.1 294.3h0.7M399.5 291.5h0.7M382.6 293.6h0.7M406.9 299.8h0.7M405.4 309h0.7M431.6 293.9h0.7M413.8 296.1h0.7M406.2 304.4h0.7M378.9 318.6h0.7M403.2 286.9h0.7M467.2 305.6h0.7M402 318.7h0.7M387.6 295.9h0.7M426.1 282.1h0.7M392.5 318.3h0.7M395.2 274.9h0.7M411.4 285.9h0.7M431.4 282.4h0.7M451.4 287.5h0.7M446.8 290.2h0.7M387.9 311.8h0.7M420.7 274.6h0.7M408.6 285.7h0.7M403.9 303.5h0.7M389.9 325.8h0.7M402.7 281.1h0.7M401.5 299.3h0.7M413.3 277.4h0.7M405.2 283.5h0.7M384.9 313.1h0.7M438.6 300.4h0.7M400.2 327.7h0.7M398 326.2h0.7M400.7 269.5h0.7M437 271.5h0.7M445.4 305.3h0.7M440.5 270.5h0.7M383.8 311.6h0.7M390.2 322.4h0.7M403.6 295.5h0.7M391.2 307.4h0.7M396.9 311.2h0.7M393.9 317.3h0.7M394.6 307.2h0.7M421.7 280.2h0.7M393.3 294h0.7M406.7 295.9h0.7M394 320.4h0.7M416.2 288.4h0.7M417.2 281.9h0.7M387.1 294.6h0.7M420.5 303h0.7M385.1 302.6h0.7M390.4 323.3h0.7M387 312.9h0.7M388 327.1h0.7M445 280.3h0.7M432.7 261.2h0.7M402.6 282.6h0.7M413.8 269.2h0.7M416.1 292.3h0.7M425.8 312.3h0.7M405.2 309.4h0.7M399.4 302.5h0.7M446.9 285.2h0.7M394.4 307.2h0.7M395.2 321.2h0.7M443.6 266.5h0.7M380.7 295.1h0.7M393.3 324.3h0.7M408 322.2h0.7M422.6 272.2h0.7M433.5 285h0.7M438 275.5h0.7M429.5 266.1h0.7M405.6 314h0.7M387.9 307.8h0.7M442.9 330.7h0.7M407.8 330.1h0.7M397.9 317.4h0.7M447.2 333.7h0.7M486.4 329.5h0.7M484.2 333.3h0.7M487.5 329.8h0.7M431.2 327.5h0.7M478.9 323.2h0.7M399.9 329.2h0.7M390 332.5h0.7M401.2 323.9h0.7M391.7 326.5h0.7M401.5 306.1h0.7M437.6 332.1h0.7M472 333.7h0.7M462.1 332.6h0.7M441.9 327.3h0.7M396.2 332.2h0.7M453.3 325.9h0.7M451.6 333.8h0.7M469.3 330.6h0.7M443.5 305.3h0.7M422.9 326.9h0.7M418.1 329.3h0.7M438.1 333.5h0.7M416.7 320.1h0.7M485.4 331.5h0.7M399.3 331.2h0.7M455.6 329.1h0.7M428.8 331.2h0.7M429.8 331.2h0.7M442.1 332.3h0.7M421.1 332.5h0.7M460.8 314.1h0.7M449.9 325.7h0.7M437.1 323.4h0.7M432.7 324.1h0.7M445.8 326.5h0.7M461.7 331h0.7M406.7 333.8h0.7M403.4 322.3h0.7M405.4 332.1h0.7M428.4 333.7h0.7M440.8 329.4h0.7M432 333.9h0.7M465.7 306.8h0.7M454.1 331.4h0.7M454.6 331.5h0.7M441.4 333.2h0.7M485.3 324.1h0.7M392.7 324.3h0.7M436.2 328.1h0.7M425.1 333.5h0.7M487.1 330.1h0.7M420.6 330h0.7M430.5 323.4h0.7M463.6 318h0.7M431.5 333.8h0.7M404.8 333.4h0.7M411.6 332.2h0.7M440.5 331.4h0.7M427 308.6h0.7M446.6 329h0.7M413.6 330.7h0.7M485.8 324.8h0.7M422.8 329.9h0.7M426.9 324.5h0.7M450.5 332.4h0.7M472.6 328.7h0.7M474.6 326.9h0.7M443.6 329.5h0.7M473.9 322.8h0.7M454.6 332h0.7M423.6 333.6h0.7M437.6 324.7h0.7M422.2 324.1h0.7M467.4 331.3h0.7M447.2 321.3h0.7M441.5 324.9h0.7M423 326.9h0.7M462.2 330.1h0.7M415.8 333.1h0.7M420.4 332.8h0.7M390.5 325.2h0.7M400.7 321.7h0.7M422 308h0.7M421.9 328.7h0.7M431.8 333.8h0.7M453.9 332.5h0.7M416.2 327.5h0.7M406.6 326.7h0.7M451.3 331.3h0.7M460.1 326.1h0.7M479.3 333.9h0.7M439.1 332.6h0.7M395.8 331.3h0.7M423.2 323.2h0.7M456.8 322.6h0.7M429.2 331.1h0.7M403.9 333.3h0.7M483.5 331.6h0.7M473 313.6h0.7M415.3 327.4h0.7M402.3 319.9h0.7M436.9 333h0.7M414.2 333.1h0.7M439.8 333.3h0.7M462.3 325.5h0.7M417.9 327.2h0.7M466.8 325.2h0.7M469 331.2h0.7M451.6 330.3h0.7M470.4 325.1h0.7M456.6 333h0.7M463 328.6h0.7M459.5 320.1h0.7M454.3 322.4h0.7M468.5 330.9h0.7M455.3 330.6h0.7M458.5 327.3h0.7M472.4 331.1h0.7M446.7 328.6h0.7M450.6 330.4h0.7M468.9 331.9h0.7M459.5 331.3h0.7M467.8 327.4h0.7M462.2 326.9h0.7M459 332h0.7M467.2 325.9h0.7M457.4 333h0.7M458.5 332.7h0.7M463.9 333.4h0.7M454.7 328.1h0.7M452.4 326.5h0.7M450.8 320.1h0.7M468.8 332.7h0.7M475.7 326.4h0.7M470.5 317.7h0.7M457.9 322.4h0.7M458.7 333.1h0.7M455.5 326.1h0.7M462.3 331.9h0.7M469.6 330.4h0.7M461.8 329.9h0.7M462.2 329.6h0.7M439.9 329.9h0.7M464.5 315.9h0.7M454 330.3h0.7M460.6 332.4h0.7M464.9 332h0.7M463.2 326.3h0.7M467.5 331.6h0.7M473.1 332.3h0.7M446.5 321.9h0.7M451.6 332.7h0.7M473.9 331.6h0.7M465.8 327.8h0.7M457.4 330.3h0.7M460.6 326h0.7M462.5 331.9h0.7M469.8 322.6h0.7M460.2 328.1h0.7M462.5 325.9h0.7M453.2 332.3h0.7" stroke="#444" stroke-width="0.7" opacity="0.75"/>
<path d="M372.8 334.5L372.8 318C373.2 313 376 310.5 380 310C384.5 309.5 388.5 311 390 315L390.5 324L390 334.5Z" fill="#111"/>
<path d="M378.3 331C377.8 323 378.5 316 381.5 313.5C384.5 312 386.8 314.5 387.2 319C387.5 324 387.5 328 388 331.5" fill="none" stroke="#d0d0d0" stroke-width="0.9" opacity="0.85"/>
<path d="M380.8 329C380.5 324 381 319 382.7 317C384 316.5 384.8 318.5 384.8 322C384.8 325 385 327 385.3 329" fill="none" stroke="#9a9a9a" stroke-width="0.6"/>
<path d="M375 332C374.5 327 374.8 321 376.3 317" fill="none" stroke="#777" stroke-width="0.5"/>
<ellipse cx="114.7" cy="322.8" rx="9.6" ry="15.3" transform="rotate(24 114.7 322.8)" fill="none" stroke="#b8424f" stroke-width="1.2"/>
<text x="114.8" y="347.6" font-size="10.4" text-anchor="start" fill="#2a2a2a" >30.0</text>
<ellipse cx="245.9" cy="322.8" rx="9.6" ry="15.3" transform="rotate(24 245.9 322.8)" fill="none" stroke="#b8424f" stroke-width="1.2"/>
<text x="249.1" y="347.6" font-size="10.4" text-anchor="start" fill="#2a2a2a" >40.0</text>
<ellipse cx="380.5" cy="322.8" rx="9.6" ry="15.3" transform="rotate(24 380.5 322.8)" fill="none" stroke="#b8424f" stroke-width="1.2"/>
<text x="383.2" y="347.6" font-size="10.4" text-anchor="start" fill="#2a2a2a" >96.6</text>
<circle cx="109.5" cy="326.5" r="0.45" fill="#9aa"/>
<circle cx="113.5" cy="329.5" r="0.45" fill="#9aa"/>
<circle cx="115" cy="329" r="0.45" fill="#9aa"/>
<circle cx="184" cy="310" r="0.45" fill="#9aa"/>
<circle cx="187" cy="315" r="0.45" fill="#9aa"/>
<circle cx="175" cy="322" r="0.45" fill="#9aa"/>
<circle cx="182" cy="321" r="0.45" fill="#9aa"/>
<circle cx="205" cy="305" r="0.45" fill="#9aa"/>
<circle cx="240" cy="328" r="0.45" fill="#9aa"/>
<circle cx="244" cy="330" r="0.45" fill="#9aa"/>
<circle cx="326" cy="300" r="0.45" fill="#9aa"/>
<circle cx="340" cy="316" r="0.45" fill="#9aa"/>
<rect x="101.5" y="246" width="124" height="124" fill="none" stroke="#777" stroke-width="0.8"/>
<rect x="233" y="246" width="124" height="124" fill="none" stroke="#777" stroke-width="0.8"/>
<rect x="367.6" y="246" width="124" height="124" fill="none" stroke="#777" stroke-width="0.8"/>
<line x1="78.3" y1="250" x2="78.3" y2="292.3" stroke="#2a2a2a" stroke-width="1.3" />
<path d="M78.3 246.5l-1.8 4h3.6Z" fill="#333"/>
<line x1="78.3" y1="329.8" x2="78.3" y2="390" stroke="#2a2a2a" stroke-width="1.3" />
<line x1="78.3" y1="390" x2="278.3" y2="390" stroke="#2a2a2a" stroke-width="1.3" />
<line x1="320.3" y1="390" x2="487" y2="390" stroke="#2a2a2a" stroke-width="1.3" />
<path d="M491 390l-4 -1.8v3.6Z" fill="#333"/>
<text x="302.5" y="393" font-size="9.9" text-anchor="middle" fill="#333" >SSC</text>
<text transform="translate(80 311.5) rotate(-90)" font-size="9.6" text-anchor="middle" fill="#2a2a2a">EGFP</text>
<text transform="translate(65.4 305.4) rotate(-90)" font-size="11.7" text-anchor="middle" fill="#2a2a2a">FACSAria (SORP)</text>
<text x="0" y="0" font-size="22.5" fill="#1e1e1e" class="s" transform="translate(10.6 440.6) scale(0.88 1)">C</text>
<text x="73.4" y="432.6" font-size="10.1" text-anchor="start" fill="#2a2a2a" >FACSAria (SORP)</text>
<text x="355.7" y="434.3" font-size="10.1" text-anchor="start" fill="#2a2a2a" >FACSAria (SORP)</text>
<line x1="227" y1="427.5" x2="227" y2="582.5" stroke="#111" stroke-width="1.8" />
<line x1="227" y1="428" x2="230" y2="428" stroke="#111" stroke-width="1" />
<text x="232.5" y="430.4" font-size="6.8" fill="#333">1.0x10<tspan font-size="4.6" dy="-2.4">7</tspan></text>
<line x1="227" y1="466.5" x2="230" y2="466.5" stroke="#111" stroke-width="1" />
<text x="232.5" y="468.9" font-size="6.8" fill="#333">1.0x10<tspan font-size="4.6" dy="-2.4">6</tspan></text>
<line x1="227" y1="505" x2="230" y2="505" stroke="#111" stroke-width="1" />
<text x="232.5" y="507.4" font-size="6.8" fill="#333">100000</text>
<line x1="227" y1="543.5" x2="230" y2="543.5" stroke="#111" stroke-width="1" />
<text x="232.5" y="545.9" font-size="6.8" fill="#333">10000</text>
<text x="232.5" y="584.1" font-size="6.8" fill="#333">1000</text>
<line x1="227" y1="581.7" x2="230" y2="581.7" stroke="#111" stroke-width="1" />
<path d="M225 454.9h2M225 448.1h2M225 443.3h2M225 439.6h2M225 436.5h2M225 434h2M225 431.7h2M225 429.8h2M225 493.4h2M225 486.6h2M225 481.8h2M225 478.1h2M225 475h2M225 472.5h2M225 470.2h2M225 468.3h2M225 531.9h2M225 525.1h2M225 520.3h2M225 516.6h2M225 513.5h2M225 511h2M225 508.7h2M225 506.8h2M225 570.2h2M225 563.5h2M225 558.7h2M225 555h2M225 552h2M225 549.4h2M225 547.2h2M225 545.2h2" stroke="#222" stroke-width="0.6"/>
<line x1="8.9" y1="581.7" x2="180.6" y2="581.7" stroke="#111" stroke-width="1.9" />
<line x1="186.2" y1="581.7" x2="227" y2="581.7" stroke="#111" stroke-width="1.9" />
<line x1="180.6" y1="579" x2="180.6" y2="584.5" stroke="#111" stroke-width="1" />
<line x1="186.2" y1="579" x2="186.2" y2="584.5" stroke="#111" stroke-width="1" />
<line x1="19.1" y1="581.7" x2="19.1" y2="584.5" stroke="#111" stroke-width="1" />
<text transform="translate(20.7 589) rotate(-45)" font-size="5.7" text-anchor="end" fill="#444" class="s">80,000</text>
<line x1="42.7" y1="581.7" x2="42.7" y2="584.5" stroke="#111" stroke-width="1" />
<text transform="translate(44.3 589) rotate(-45)" font-size="5.7" text-anchor="end" fill="#444" class="s">40,000</text>
<line x1="67.9" y1="581.7" x2="67.9" y2="584.5" stroke="#111" stroke-width="1" />
<text transform="translate(69.5 589) rotate(-45)" font-size="5.7" text-anchor="end" fill="#444" class="s">20,000</text>
<line x1="93.4" y1="581.7" x2="93.4" y2="584.5" stroke="#111" stroke-width="1" />
<text transform="translate(95 589) rotate(-45)" font-size="5.7" text-anchor="end" fill="#444" class="s">10,000</text>
<line x1="118.8" y1="581.7" x2="118.8" y2="584.5" stroke="#111" stroke-width="1" />
<text transform="translate(120.4 589) rotate(-45)" font-size="5.7" text-anchor="end" fill="#444" class="s">5,000</text>
<line x1="177.8" y1="581.7" x2="177.8" y2="584.5" stroke="#111" stroke-width="1" />
<text transform="translate(179.4 589) rotate(-45)" font-size="5.7" text-anchor="end" fill="#444" class="s">1,000</text>
<line x1="189.3" y1="581.7" x2="189.3" y2="584.5" stroke="#111" stroke-width="1" />
<text transform="translate(190.9 589) rotate(-45)" font-size="5.7" text-anchor="end" fill="#444" class="s">200</text>
<line x1="201.7" y1="581.7" x2="201.7" y2="584.5" stroke="#111" stroke-width="1" />
<text transform="translate(203.3 589) rotate(-45)" font-size="5.7" text-anchor="end" fill="#444" class="s">100</text>
<line x1="218.7" y1="581.7" x2="218.7" y2="584.5" stroke="#111" stroke-width="1" />
<text transform="translate(220.3 589) rotate(-45)" font-size="5.7" text-anchor="end" fill="#444" class="s">40</text>
<polyline points="19.1,550 42.7,540.6 67.9,529.6 93.4,518.2 118.8,507 177.5,481" fill="none" stroke="#aaa69e" stroke-width="0.9"/>
<polyline points="19.1,564.7 42.7,555.3 67.9,544.6 93.4,532.7 118.8,522 177.5,495.4" fill="none" stroke="#333" stroke-width="0.9"/>
<polyline points="189.3,459.3 201.7,452.7 218.8,451" fill="none" stroke="#aaa69e" stroke-width="0.9"/>
<polyline points="189.3,470.7 201.7,461.4 218.8,450.9" fill="none" stroke="#333" stroke-width="0.9"/>
<circle cx="19.1" cy="564.7" r="1.7" fill="#222"/>
<circle cx="42.7" cy="555.3" r="1.7" fill="#222"/>
<circle cx="67.9" cy="544.6" r="1.7" fill="#222"/>
<circle cx="93.4" cy="532.7" r="1.7" fill="#222"/>
<circle cx="118.8" cy="522" r="1.7" fill="#222"/>
<circle cx="177.5" cy="495.4" r="1.7" fill="#222"/>
<circle cx="189.3" cy="470.7" r="1.7" fill="#222"/>
<circle cx="201.7" cy="461.4" r="1.7" fill="#222"/>
<circle cx="218.8" cy="450.9" r="1.7" fill="#222"/>
<rect x="17.9" y="548.8" width="2.4" height="2.4" fill="#333"/>
<rect x="41.5" y="539.4" width="2.4" height="2.4" fill="#333"/>
<rect x="66.7" y="528.4" width="2.4" height="2.4" fill="#333"/>
<rect x="92.2" y="517" width="2.4" height="2.4" fill="#333"/>
<rect x="117.6" y="505.8" width="2.4" height="2.4" fill="#333"/>
<rect x="176.3" y="479.8" width="2.4" height="2.4" fill="#333"/>
<rect x="188.1" y="458.1" width="2.4" height="2.4" fill="#333"/>
<rect x="200.5" y="451.5" width="2.4" height="2.4" fill="#333"/>
<rect x="217.6" y="449.8" width="2.4" height="2.4" fill="#333"/>
<path d="M17.3 562.9h3.6L17.3 566.5h3.6Z" fill="#222" stroke="#222" stroke-width="0.6"/>
<path d="M17.3 548.2h3.6L17.3 551.8h3.6Z" fill="#222" stroke="#222" stroke-width="0.6"/>
<path d="M66.4 528.1h3L66.4 531.1h3Z" fill="#222" stroke="#222" stroke-width="0.6"/>
<path d="M183.5 535V457.5H140" fill="none" stroke="#8a8a8a" stroke-width="0.9" stroke-dasharray="2.2 1.6"/>
<path d="M141 455.2L136.6 457.5L141 459.8" fill="none" stroke="#8a8a8a" stroke-width="0.9"/>
<text x="96.3" y="459.8" font-size="6.85" text-anchor="start" fill="#333" >linear range</text>
<line x1="129.9" y1="544.5" x2="141.1" y2="544.5" stroke="#333" stroke-width="0.9" />
<circle cx="135.5" cy="544.5" r="1.5" fill="#222"/>
<line x1="129.9" y1="552.7" x2="141.1" y2="552.7" stroke="#9a9a92" stroke-width="0.9" />
<rect x="134.3" y="551.5" width="2.4" height="2.4" fill="#333"/>
<text x="146.8" y="547" font-size="7" text-anchor="start" fill="#333" >iGFP Count; R<tspan font-size="4.5" dy="-2.5">2</tspan><tspan dy="2.5">=0.9956</tspan></text>
<text x="146.8" y="555.2" font-size="7" text-anchor="start" fill="#333" >iKOκ Count; R<tspan font-size="4.5" dy="-2.5">2</tspan><tspan dy="2.5">=0.9948</tspan></text>
<text transform="translate(264 466) rotate(90)" font-size="9.2" fill="#333">Particle count/min</text>
<line x1="14" y1="609.4" x2="84" y2="609.4" stroke="#333" stroke-width="1" />
<path d="M11 609.4l4 -1.8v3.6Z" fill="#333"/>
<text x="88.5" y="612.7" font-size="9.4" text-anchor="start" fill="#333" >Dilution (1:x)</text>
<line x1="145.4" y1="608.5" x2="226.5" y2="608.5" stroke="#333" stroke-width="1" />
<line x1="518.9" y1="428.7" x2="518.9" y2="582.5" stroke="#111" stroke-width="1.8" />
<line x1="518.9" y1="448.7" x2="521.9" y2="448.7" stroke="#111" stroke-width="1" />
<text x="523.9" y="451.2" font-size="7.1" fill="#333">500</text>
<line x1="518.9" y1="486.8" x2="521.9" y2="486.8" stroke="#111" stroke-width="1" />
<text x="523.9" y="489.3" font-size="7.1" fill="#333">400</text>
<line x1="518.9" y1="525.3" x2="521.9" y2="525.3" stroke="#111" stroke-width="1" />
<text x="523.9" y="527.8" font-size="7.1" fill="#333">300</text>
<line x1="518.9" y1="563.4" x2="521.9" y2="563.4" stroke="#111" stroke-width="1" />
<text x="523.9" y="565.9" font-size="7.1" fill="#333">200</text>
<line x1="299.8" y1="582.5" x2="469.8" y2="582.5" stroke="#111" stroke-width="1.9" />
<line x1="473.1" y1="582.5" x2="518.9" y2="582.5" stroke="#111" stroke-width="1.9" />
<line x1="469.8" y1="579.8" x2="469.8" y2="585.2" stroke="#111" stroke-width="1" />
<line x1="473.1" y1="579.8" x2="473.1" y2="585.2" stroke="#111" stroke-width="1" />
<line x1="309.8" y1="582.5" x2="309.8" y2="585.3" stroke="#111" stroke-width="1" />
<text transform="translate(311.4 589.8) rotate(-45)" font-size="5.7" text-anchor="end" fill="#444" class="s">80,000</text>
<line x1="332.7" y1="582.5" x2="332.7" y2="585.3" stroke="#111" stroke-width="1" />
<text transform="translate(334.3 589.8) rotate(-45)" font-size="5.7" text-anchor="end" fill="#444" class="s">40,000</text>
<line x1="356.8" y1="582.5" x2="356.8" y2="585.3" stroke="#111" stroke-width="1" />
<text transform="translate(358.4 589.8) rotate(-45)" font-size="5.7" text-anchor="end" fill="#444" class="s">20,000</text>
<line x1="381.3" y1="582.5" x2="381.3" y2="585.3" stroke="#111" stroke-width="1" />
<text transform="translate(382.9 589.8) rotate(-45)" font-size="5.7" text-anchor="end" fill="#444" class="s">10,000</text>
<line x1="405.4" y1="582.5" x2="405.4" y2="585.3" stroke="#111" stroke-width="1" />
<text transform="translate(407 589.8) rotate(-45)" font-size="5.7" text-anchor="end" fill="#444" class="s">5,000</text>
<line x1="462.2" y1="582.5" x2="462.2" y2="585.3" stroke="#111" stroke-width="1" />
<text transform="translate(463.8 589.8) rotate(-45)" font-size="5.7" text-anchor="end" fill="#444" class="s">1,000</text>
<line x1="479.2" y1="582.5" x2="479.2" y2="585.3" stroke="#111" stroke-width="1" />
<text transform="translate(480.8 589.8) rotate(-45)" font-size="5.7" text-anchor="end" fill="#444" class="s">200</text>
<line x1="494" y1="582.5" x2="494" y2="585.3" stroke="#111" stroke-width="1" />
<text transform="translate(495.6 589.8) rotate(-45)" font-size="5.7" text-anchor="end" fill="#444" class="s">100</text>
<line x1="513.6" y1="582.5" x2="513.6" y2="585.3" stroke="#111" stroke-width="1" />
<text transform="translate(515.2 589.8) rotate(-45)" font-size="5.7" text-anchor="end" fill="#444" class="s">40</text>
<line x1="308.5" y1="497.3" x2="469" y2="497.3" stroke="#333" stroke-width="0.9" />
<path d="M308.5 516.6 C 380 515 440 514 469 511.8" fill="none" stroke="#a09a92" stroke-width="0.9"/>
<path d="M475 493.8 C 490 492 505 488 513 481.2" fill="none" stroke="#333" stroke-width="0.9"/>
<path d="M475 508 C 490 503 505 494 513 486.8" fill="none" stroke="#a09a92" stroke-width="0.9"/>
<circle cx="332.7" cy="497.3" r="1.5" fill="#222"/>
<circle cx="356.8" cy="496.5" r="1.5" fill="#222"/>
<circle cx="381.3" cy="496.5" r="1.5" fill="#222"/>
<circle cx="405.4" cy="495.8" r="1.5" fill="#222"/>
<circle cx="462.2" cy="495.7" r="1.5" fill="#222"/>
<circle cx="479.2" cy="493.5" r="1.5" fill="#222"/>
<circle cx="494" cy="490.2" r="1.5" fill="#222"/>
<rect x="308.7" y="515.3" width="2.2" height="2.2" fill="#333"/>
<rect x="331.6" y="515" width="2.2" height="2.2" fill="#333"/>
<rect x="355.7" y="513.5" width="2.2" height="2.2" fill="#333"/>
<rect x="380.2" y="512.7" width="2.2" height="2.2" fill="#333"/>
<rect x="404.3" y="512.7" width="2.2" height="2.2" fill="#333"/>
<rect x="461.1" y="511.2" width="2.2" height="2.2" fill="#333"/>
<rect x="478.1" y="505.1" width="2.2" height="2.2" fill="#333"/>
<path d="M308.2 498.2h3.2L308.2 501.4h3.2Z" fill="#222" stroke="#222" stroke-width="0.6"/>
<path d="M492.4 496.9h3.2L492.4 500.1h3.2Z" fill="#222" stroke="#222" stroke-width="0.6"/>
<path d="M511.2 479.7h3.6L511.2 483.3h3.6Z" fill="#222" stroke="#222" stroke-width="0.6"/>
<line x1="513" y1="481" x2="513" y2="494" stroke="#333" stroke-width="0.8" />
<line x1="511.3" y1="494" x2="514.7" y2="494" stroke="#333" stroke-width="0.8" />
<circle cx="513" cy="486.8" r="1.2" fill="#555"/>
<path d="M473.1 536.7V459.1H430" fill="none" stroke="#8a8a8a" stroke-width="0.9" stroke-dasharray="2.2 1.6"/>
<path d="M430.8 456.8L426.5 459.1L430.8 461.4" fill="none" stroke="#8a8a8a" stroke-width="0.9"/>
<text x="379.8" y="462" font-size="6.85" text-anchor="start" fill="#333" >single particle</text>
<line x1="417.6" y1="546" x2="426.5" y2="546" stroke="#555" stroke-width="0.7" />
<text x="429.6" y="546.8" font-size="6.9" text-anchor="start" fill="#333" >iGFP MFI</text>
<line x1="417.6" y1="557.2" x2="426.5" y2="557.2" stroke="#9a9a92" stroke-width="0.9" />
<rect x="421" y="556.1" width="2.2" height="2.2" fill="#333"/>
<text x="429.6" y="558.2" font-size="6.9" text-anchor="start" fill="#333" >iKOκ MFI</text>
<text transform="translate(539.5 496.8) rotate(90)" font-size="9.2" fill="#333">MFI</text>
<line x1="307.5" y1="611" x2="376.7" y2="611" stroke="#333" stroke-width="1" />
<path d="M304.2 611l4 -1.8v3.6Z" fill="#333"/>
<text x="381.3" y="614.4" font-size="9.4" text-anchor="start" fill="#333" >Dilution (1:x)</text>
<line x1="437.5" y1="611" x2="519.4" y2="611" stroke="#333" stroke-width="1" />
</svg>
</body></html>
